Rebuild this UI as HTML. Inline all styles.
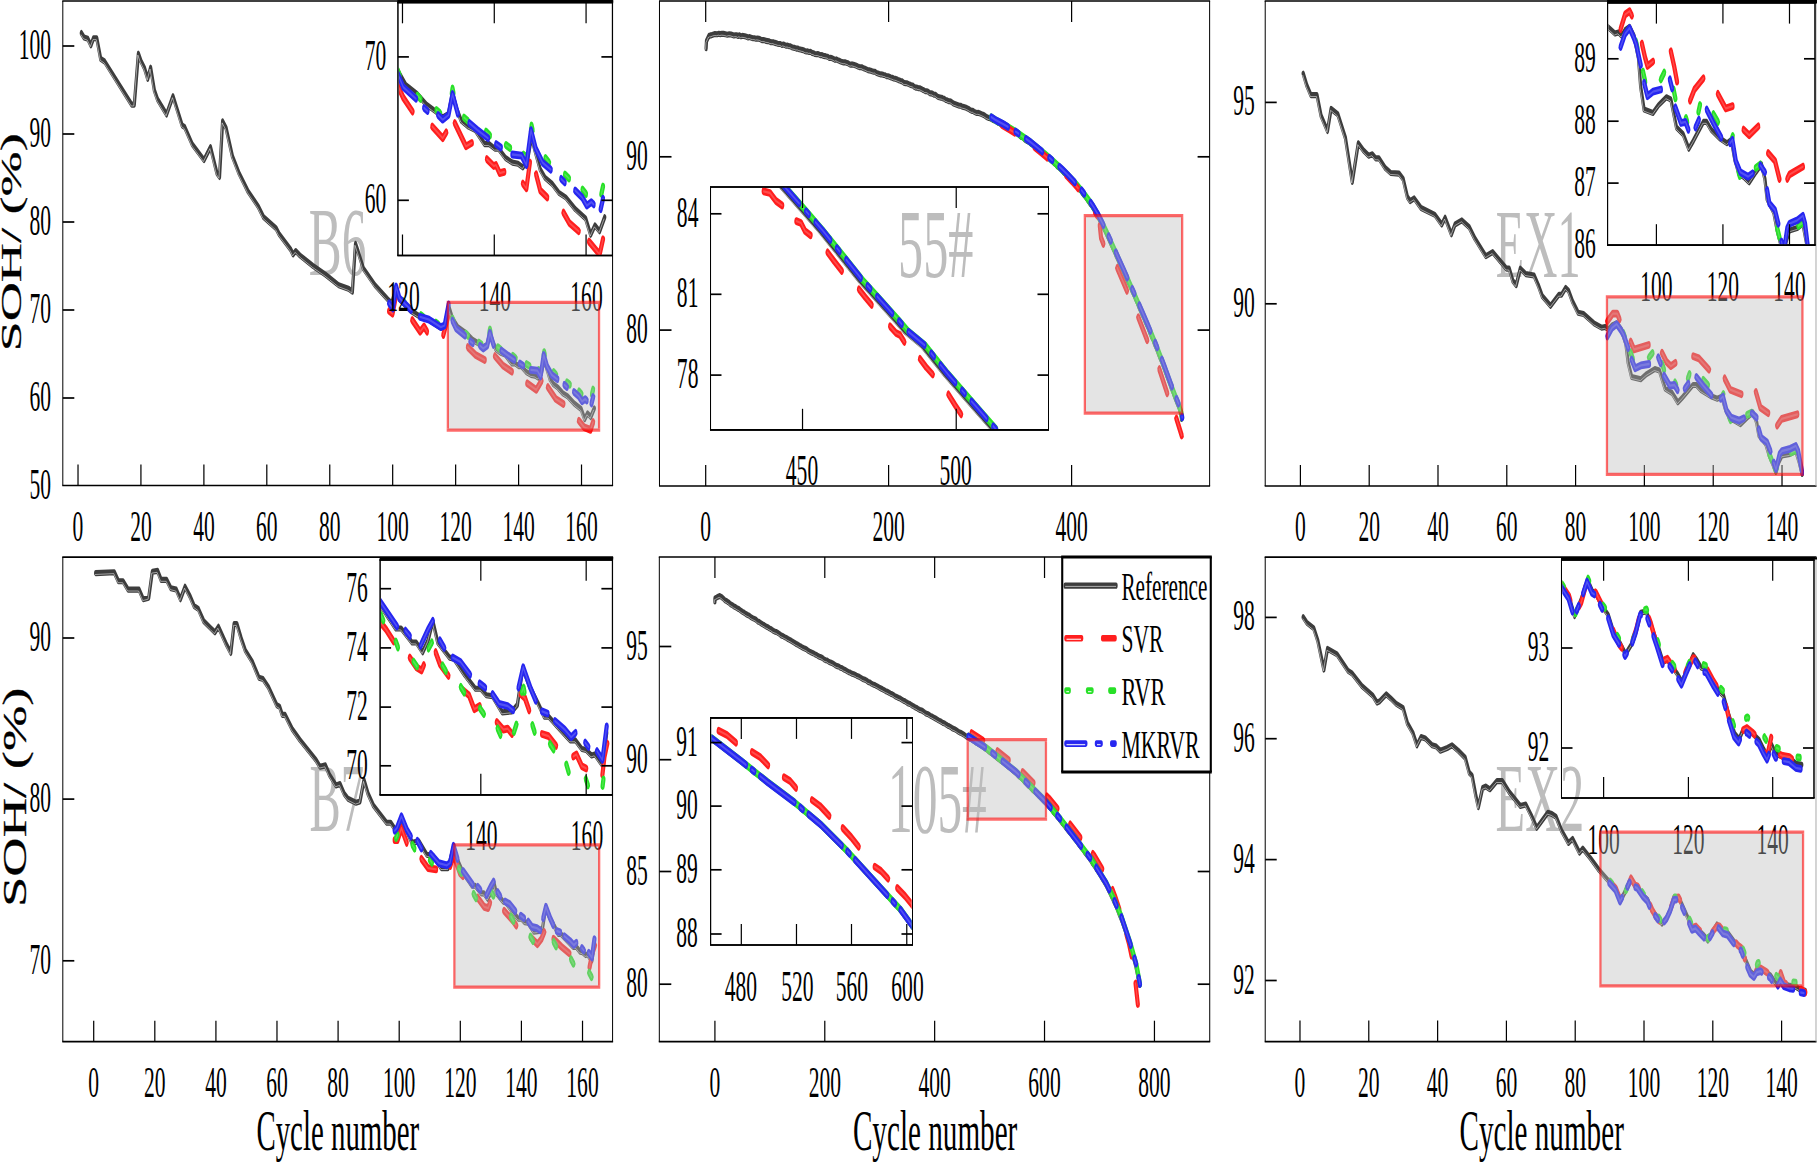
<!DOCTYPE html>
<html lang="en"><head><meta charset="utf-8"><title>SOH estimation results</title>
<style>html,body{margin:0;padding:0;background:#fff}svg{display:block}</style></head>
<body>
<svg width="1817" height="1162" viewBox="0 0 1817 1162" font-family="'Liberation Serif','Times New Roman',serif">
<rect width="1817" height="1162" fill="#fff"/>
<text transform="translate(308.8 275) scale(0.5028 1)" font-size="98" fill="#bdbdbd" font-weight="normal">B6</text>
<text transform="translate(898 276.5) scale(0.5129 1)" font-size="98" fill="#bdbdbd" font-weight="normal">55#</text>
<text transform="translate(1495.8 277) scale(0.4716 1)" font-size="98" fill="#bdbdbd" font-weight="normal">EX1</text>
<text transform="translate(309.5 830.7) scale(0.4774 1)" font-size="98" fill="#bdbdbd" font-weight="normal">B7</text>
<text transform="translate(888 831.5) scale(0.4990 1)" font-size="99" fill="#bdbdbd" font-weight="normal">105#</text>
<text transform="translate(1495.6 830.6) scale(0.4938 1)" font-size="98" fill="#bdbdbd" font-weight="normal">EX2</text>
<g transform="scale(0.53 1)">
<clipPath id="c1"><rect x="118.5" y="1" width="1037.4" height="484.5"/></clipPath>
<polyline points="153.6,33.1 158.5,37.4 165.7,38.7 171.5,45.2 176.4,38.2 182.6,38.2 190,58.9 197.4,61.5 248.5,104.6 253.4,104.6 261.1,53.7 265.7,60.7 272.8,68.4 278.7,78.8 284.2,67.7 291.3,90.4 297.2,99.4 314.3,114.4 326.4,96.3 343.6,125.3 348.5,127.1 363,144.6 384.9,160.1 397.2,147.2 409.2,173 414.2,176.9 420,121.4 426.4,127.8 438.5,156.3 450.8,173 467.7,191.1 487.4,206.6 497,216.9 521.3,228.6 526.2,233.7 548.1,249.2 553,254.4 557.9,251 566,255.5 590.4,265.9 614.7,274.9 639.1,285.2 658.7,289.1 664.9,291.7 670.8,243.9 675.7,251.7 685.5,268.4 707.4,285.2 731.7,299.4 739.1,303.3 747.2,287.8 753.6,299.4 775.5,311 795.1,317.5 809.6,320.1 831.7,327.8 838.9,326.5 846.4,305.9 853.7,318.6 863.7,327.1 878.7,332.8 890.7,339.3 902.8,343.5 911.7,347.1 919.2,344.9 924.4,332.1 929.8,342.1 935.8,349.2 944.8,352.8 953.9,354.9 965.9,363.5 971.9,363.5 979.4,366.3 983.9,366.3 992.9,372 1001.9,374.9 1009.4,375.6 1015.5,377.7 1021.4,373.5 1026.6,359.2 1030.5,366.3 1038,379.2 1044,384.1 1053,387.8 1062,393.4 1071.1,396.3 1083.1,403.4 1096.6,409.1 1103.2,419.1 1108.6,413.4 1114.7,417 1121.3,408.4" fill="none" stroke="#3d3d3d" stroke-width="6.1" stroke-linejoin="round" stroke-linecap="round" clip-path="url(#c1)"/>
<polyline points="152.5,34.5 157.5,38.8 164.6,40.1 170.5,46.6 175.4,39.6 181.6,39.6 189,60.3 196.3,62.9 247.5,106 252.4,106 260.1,55.1 264.6,62.1 271.8,69.8 277.6,80.2 283.1,69.1 290.3,91.8 296.1,100.8 313.3,115.8 325.4,97.7 342.5,126.7 347.5,128.5 362,146 383.9,161.5 396.1,148.6 408.2,174.4 413.1,178.3 419,122.8 425.4,129.2 437.5,157.7 449.7,174.4 466.7,192.5 486.3,208 495.9,218.3 520.3,230 525.2,235.1 547.1,250.6 552,255.8 556.9,252.4 565,256.9 589.3,267.3 613.7,276.3 638,286.6 657.6,290.5 663.9,293.1 669.7,245.3 674.6,253.1 684.4,269.8 706.3,286.6 730.7,300.8 738,304.7 746.1,289.2 752.5,300.8 774.4,312.4 794.1,318.9 808.6,321.5 830.7,329.2 837.8,327.9 845.4,307.3 852.7,320 862.7,328.5 877.7,334.2 889.7,340.7 901.7,344.9 910.7,348.5 918.2,346.3 923.3,333.5 928.8,343.5 934.7,350.6 943.8,354.2 952.8,356.3 964.9,364.9 970.8,364.9 978.3,367.7 982.8,367.7 991.9,373.4 1000.8,376.3 1008.3,377 1014.4,379.1 1020.4,374.9 1025.5,360.6 1029.4,367.7 1036.9,380.6 1043,385.5 1051.9,389.2 1061,394.8 1070,397.7 1082.1,404.8 1095.5,410.5 1102.1,420.5 1107.6,414.8 1113.6,418.4 1120.2,409.8" fill="none" stroke="#fff" stroke-opacity=".9" stroke-width="0.75" stroke-linejoin="round" clip-path="url(#c1)"/>
<polyline points="734.2,311 740.6,313.6 746.4,298.1" fill="none" stroke="#ff1e1e" stroke-width="7.8" stroke-linejoin="round" stroke-linecap="round" clip-path="url(#c1)"/>
<polyline points="734.2,311 740.6,313.6 746.4,298.1" fill="none" stroke="#fff" stroke-opacity=".2" stroke-width="2.3" stroke-linejoin="round" stroke-linecap="round" clip-path="url(#c1)"/>
<polyline points="777.9,320.1 792.6,331.7 800,326.5 805.8,331.7" fill="none" stroke="#ff1e1e" stroke-width="7.8" stroke-linejoin="round" stroke-linecap="round" clip-path="url(#c1)"/>
<polyline points="777.9,320.1 792.6,331.7 800,326.5 805.8,331.7" fill="none" stroke="#fff" stroke-opacity=".2" stroke-width="2.3" stroke-linejoin="round" stroke-linecap="round" clip-path="url(#c1)"/>
<polyline points="836.4,335 845.3,317" fill="none" stroke="#ff1e1e" stroke-width="7.8" stroke-linejoin="round" stroke-linecap="round" clip-path="url(#c1)"/>
<polyline points="836.4,335 845.3,317" fill="none" stroke="#fff" stroke-opacity=".2" stroke-width="2.3" stroke-linejoin="round" stroke-linecap="round" clip-path="url(#c1)"/>
<polyline points="882.8,347.2 897.4,355 914.5,360.1" fill="none" stroke="#ff1e1e" stroke-width="7.8" stroke-linejoin="round" stroke-linecap="round" clip-path="url(#c1)"/>
<polyline points="882.8,347.2 897.4,355 914.5,360.1" fill="none" stroke="#fff" stroke-opacity=".2" stroke-width="2.3" stroke-linejoin="round" stroke-linecap="round" clip-path="url(#c1)"/>
<polyline points="934,356.2 948.5,365.3 965.7,371.7" fill="none" stroke="#ff1e1e" stroke-width="7.8" stroke-linejoin="round" stroke-linecap="round" clip-path="url(#c1)"/>
<polyline points="934,356.2 948.5,365.3 965.7,371.7" fill="none" stroke="#fff" stroke-opacity=".2" stroke-width="2.3" stroke-linejoin="round" stroke-linecap="round" clip-path="url(#c1)"/>
<polyline points="994.9,383.4 1011.9,389.8 1021.7,380.8" fill="none" stroke="#ff1e1e" stroke-width="7.8" stroke-linejoin="round" stroke-linecap="round" clip-path="url(#c1)"/>
<polyline points="994.9,383.4 1011.9,389.8 1021.7,380.8" fill="none" stroke="#fff" stroke-opacity=".2" stroke-width="2.3" stroke-linejoin="round" stroke-linecap="round" clip-path="url(#c1)"/>
<polyline points="1033.8,387.2 1048.5,398.9 1063,404" fill="none" stroke="#ff1e1e" stroke-width="7.8" stroke-linejoin="round" stroke-linecap="round" clip-path="url(#c1)"/>
<polyline points="1033.8,387.2 1048.5,398.9 1063,404" fill="none" stroke="#fff" stroke-opacity=".2" stroke-width="2.3" stroke-linejoin="round" stroke-linecap="round" clip-path="url(#c1)"/>
<polyline points="1092.3,420.8 1102.1,427.3 1114.2,429.9 1119.1,422.1" fill="none" stroke="#ff1e1e" stroke-width="7.8" stroke-linejoin="round" stroke-linecap="round" clip-path="url(#c1)"/>
<polyline points="1092.3,420.8 1102.1,427.3 1114.2,429.9 1119.1,422.1" fill="none" stroke="#fff" stroke-opacity=".2" stroke-width="2.3" stroke-linejoin="round" stroke-linecap="round" clip-path="url(#c1)"/>
<polyline points="760.4,301 765.1,304" fill="none" stroke="#27e027" stroke-width="7.8" stroke-linejoin="round" stroke-linecap="round" clip-path="url(#c1)"/>
<polyline points="760.4,301 765.1,304" fill="none" stroke="#fff" stroke-opacity=".2" stroke-width="2.3" stroke-linejoin="round" stroke-linecap="round" clip-path="url(#c1)"/>
<polyline points="794.3,315 799.1,317" fill="none" stroke="#27e027" stroke-width="7.8" stroke-linejoin="round" stroke-linecap="round" clip-path="url(#c1)"/>
<polyline points="794.3,315 799.1,317" fill="none" stroke="#fff" stroke-opacity=".2" stroke-width="2.3" stroke-linejoin="round" stroke-linecap="round" clip-path="url(#c1)"/>
<polyline points="822.6,322.5 827.4,324.5" fill="none" stroke="#27e027" stroke-width="7.8" stroke-linejoin="round" stroke-linecap="round" clip-path="url(#c1)"/>
<polyline points="822.6,322.5 827.4,324.5" fill="none" stroke="#fff" stroke-opacity=".2" stroke-width="2.3" stroke-linejoin="round" stroke-linecap="round" clip-path="url(#c1)"/>
<polyline points="853.7,318.6 855.8,321.1" fill="none" stroke="#27e027" stroke-width="7.8" stroke-linejoin="round" stroke-linecap="round" clip-path="url(#c1)"/>
<polyline points="853.7,318.6 855.8,321.1" fill="none" stroke="#fff" stroke-opacity=".2" stroke-width="2.3" stroke-linejoin="round" stroke-linecap="round" clip-path="url(#c1)"/>
<polyline points="879.1,333.7 883,335.8" fill="none" stroke="#27e027" stroke-width="7.8" stroke-linejoin="round" stroke-linecap="round" clip-path="url(#c1)"/>
<polyline points="879.1,333.7 883,335.8" fill="none" stroke="#fff" stroke-opacity=".2" stroke-width="2.3" stroke-linejoin="round" stroke-linecap="round" clip-path="url(#c1)"/>
<polyline points="903.7,342.6 908.2,344.4" fill="none" stroke="#27e027" stroke-width="7.8" stroke-linejoin="round" stroke-linecap="round" clip-path="url(#c1)"/>
<polyline points="903.7,342.6 908.2,344.4" fill="none" stroke="#fff" stroke-opacity=".2" stroke-width="2.3" stroke-linejoin="round" stroke-linecap="round" clip-path="url(#c1)"/>
<polyline points="923.5,332.2 924.4,329.4 925.5,332.2" fill="none" stroke="#27e027" stroke-width="7.8" stroke-linejoin="round" stroke-linecap="round" clip-path="url(#c1)"/>
<polyline points="923.5,332.2 924.4,329.4 925.5,332.2" fill="none" stroke="#fff" stroke-opacity=".2" stroke-width="2.3" stroke-linejoin="round" stroke-linecap="round" clip-path="url(#c1)"/>
<polyline points="939.3,347.2 944.4,349.3" fill="none" stroke="#27e027" stroke-width="7.8" stroke-linejoin="round" stroke-linecap="round" clip-path="url(#c1)"/>
<polyline points="939.3,347.2 944.4,349.3" fill="none" stroke="#fff" stroke-opacity=".2" stroke-width="2.3" stroke-linejoin="round" stroke-linecap="round" clip-path="url(#c1)"/>
<polyline points="967.7,355.8 972.9,358.2" fill="none" stroke="#27e027" stroke-width="7.8" stroke-linejoin="round" stroke-linecap="round" clip-path="url(#c1)"/>
<polyline points="967.7,355.8 972.9,358.2" fill="none" stroke="#fff" stroke-opacity=".2" stroke-width="2.3" stroke-linejoin="round" stroke-linecap="round" clip-path="url(#c1)"/>
<polyline points="993.6,364.1 998.8,365.9" fill="none" stroke="#27e027" stroke-width="7.8" stroke-linejoin="round" stroke-linecap="round" clip-path="url(#c1)"/>
<polyline points="993.6,364.1 998.8,365.9" fill="none" stroke="#fff" stroke-opacity=".2" stroke-width="2.3" stroke-linejoin="round" stroke-linecap="round" clip-path="url(#c1)"/>
<polyline points="1016.2,369.9 1019.5,371.1" fill="none" stroke="#27e027" stroke-width="7.8" stroke-linejoin="round" stroke-linecap="round" clip-path="url(#c1)"/>
<polyline points="1016.2,369.9 1019.5,371.1" fill="none" stroke="#fff" stroke-opacity=".2" stroke-width="2.3" stroke-linejoin="round" stroke-linecap="round" clip-path="url(#c1)"/>
<polyline points="1025.9,355.5 1026.7,352.1 1028,354.9" fill="none" stroke="#27e027" stroke-width="7.8" stroke-linejoin="round" stroke-linecap="round" clip-path="url(#c1)"/>
<polyline points="1025.9,355.5 1026.7,352.1 1028,354.9" fill="none" stroke="#fff" stroke-opacity=".2" stroke-width="2.3" stroke-linejoin="round" stroke-linecap="round" clip-path="url(#c1)"/>
<polyline points="1044.7,372 1049.2,374.8" fill="none" stroke="#27e027" stroke-width="7.8" stroke-linejoin="round" stroke-linecap="round" clip-path="url(#c1)"/>
<polyline points="1044.7,372 1049.2,374.8" fill="none" stroke="#fff" stroke-opacity=".2" stroke-width="2.3" stroke-linejoin="round" stroke-linecap="round" clip-path="url(#c1)"/>
<polyline points="1069.9,382.2 1075.1,384.6" fill="none" stroke="#27e027" stroke-width="7.8" stroke-linejoin="round" stroke-linecap="round" clip-path="url(#c1)"/>
<polyline points="1069.9,382.2 1075.1,384.6" fill="none" stroke="#fff" stroke-opacity=".2" stroke-width="2.3" stroke-linejoin="round" stroke-linecap="round" clip-path="url(#c1)"/>
<polyline points="1092.6,391.4 1097.1,394.1" fill="none" stroke="#27e027" stroke-width="7.8" stroke-linejoin="round" stroke-linecap="round" clip-path="url(#c1)"/>
<polyline points="1092.6,391.4 1097.1,394.1" fill="none" stroke="#fff" stroke-opacity=".2" stroke-width="2.3" stroke-linejoin="round" stroke-linecap="round" clip-path="url(#c1)"/>
<polyline points="1117,394.1 1119.1,389.5" fill="none" stroke="#27e027" stroke-width="7.8" stroke-linejoin="round" stroke-linecap="round" clip-path="url(#c1)"/>
<polyline points="1117,394.1 1119.1,389.5" fill="none" stroke="#fff" stroke-opacity=".2" stroke-width="2.3" stroke-linejoin="round" stroke-linecap="round" clip-path="url(#c1)"/>
<polyline points="734.2,303.3 741.5,308.5 747.4,286.5 753.6,298.1 775.5,310" fill="none" stroke="#2626f0" stroke-width="7.8" stroke-linejoin="round" stroke-linecap="round" clip-path="url(#c1)"/>
<polyline points="734.2,303.3 741.5,308.5 747.4,286.5 753.6,298.1 775.5,310" fill="none" stroke="#fff" stroke-opacity=".2" stroke-width="2.3" stroke-linejoin="round" stroke-linecap="round" clip-path="url(#c1)"/>
<polyline points="792.6,316.8 809.6,319.7 831.7,327.1 838.9,325.5 846.4,304.5" fill="none" stroke="#2626f0" stroke-width="7.8" stroke-linejoin="round" stroke-linecap="round" clip-path="url(#c1)"/>
<polyline points="792.6,316.8 809.6,319.7 831.7,327.1 838.9,325.5 846.4,304.5" fill="none" stroke="#fff" stroke-opacity=".2" stroke-width="2.3" stroke-linejoin="round" stroke-linecap="round" clip-path="url(#c1)"/>
<polyline points="853.7,320.7 860.6,328.5 877.2,335.7" fill="none" stroke="#2626f0" stroke-width="7.8" stroke-linejoin="round" stroke-linecap="round" clip-path="url(#c1)"/>
<polyline points="853.7,320.7 860.6,328.5 877.2,335.7" fill="none" stroke="#fff" stroke-opacity=".2" stroke-width="2.3" stroke-linejoin="round" stroke-linecap="round" clip-path="url(#c1)"/>
<polyline points="887.6,341.4 892,343.2" fill="none" stroke="#2626f0" stroke-width="7.8" stroke-linejoin="round" stroke-linecap="round" clip-path="url(#c1)"/>
<polyline points="887.6,341.4 892,343.2" fill="none" stroke="#fff" stroke-opacity=".2" stroke-width="2.3" stroke-linejoin="round" stroke-linecap="round" clip-path="url(#c1)"/>
<polyline points="905.8,345.7 911.7,348.5 919.2,345.7 924.4,332.8 931.2,344.9" fill="none" stroke="#2626f0" stroke-width="7.8" stroke-linejoin="round" stroke-linecap="round" clip-path="url(#c1)"/>
<polyline points="905.8,345.7 911.7,348.5 919.2,345.7 924.4,332.8 931.2,344.9" fill="none" stroke="#fff" stroke-opacity=".2" stroke-width="2.3" stroke-linejoin="round" stroke-linecap="round" clip-path="url(#c1)"/>
<polyline points="946.2,350.6 956.8,354.9 970.3,359.9" fill="none" stroke="#2626f0" stroke-width="7.8" stroke-linejoin="round" stroke-linecap="round" clip-path="url(#c1)"/>
<polyline points="946.2,350.6 956.8,354.9 970.3,359.9" fill="none" stroke="#fff" stroke-opacity=".2" stroke-width="2.3" stroke-linejoin="round" stroke-linecap="round" clip-path="url(#c1)"/>
<polyline points="980.9,363.5 986.9,365.6" fill="none" stroke="#2626f0" stroke-width="7.8" stroke-linejoin="round" stroke-linecap="round" clip-path="url(#c1)"/>
<polyline points="980.9,363.5 986.9,365.6" fill="none" stroke="#fff" stroke-opacity=".2" stroke-width="2.3" stroke-linejoin="round" stroke-linecap="round" clip-path="url(#c1)"/>
<polyline points="1001.9,369.9 1013.9,370.6 1020,376.3 1025.9,354.9 1032,366.3 1040.9,374.9 1051.5,379.2" fill="none" stroke="#2626f0" stroke-width="7.8" stroke-linejoin="round" stroke-linecap="round" clip-path="url(#c1)"/>
<polyline points="1001.9,369.9 1013.9,370.6 1020,376.3 1025.9,354.9 1032,366.3 1040.9,374.9 1051.5,379.2" fill="none" stroke="#fff" stroke-opacity=".2" stroke-width="2.3" stroke-linejoin="round" stroke-linecap="round" clip-path="url(#c1)"/>
<polyline points="1065,384.9 1069.5,387" fill="none" stroke="#2626f0" stroke-width="7.8" stroke-linejoin="round" stroke-linecap="round" clip-path="url(#c1)"/>
<polyline points="1065,384.9 1069.5,387" fill="none" stroke="#fff" stroke-opacity=".2" stroke-width="2.3" stroke-linejoin="round" stroke-linecap="round" clip-path="url(#c1)"/>
<polyline points="1083.1,392 1092.2,396.3 1098.1,401.3 1104.1,399.1 1107,400.5" fill="none" stroke="#2626f0" stroke-width="7.8" stroke-linejoin="round" stroke-linecap="round" clip-path="url(#c1)"/>
<polyline points="1083.1,392 1092.2,396.3 1098.1,401.3 1104.1,399.1 1107,400.5" fill="none" stroke="#fff" stroke-opacity=".2" stroke-width="2.3" stroke-linejoin="round" stroke-linecap="round" clip-path="url(#c1)"/>
<polyline points="1116.1,403.4 1119.1,397" fill="none" stroke="#2626f0" stroke-width="7.8" stroke-linejoin="round" stroke-linecap="round" clip-path="url(#c1)"/>
<polyline points="1116.1,403.4 1119.1,397" fill="none" stroke="#fff" stroke-opacity=".2" stroke-width="2.3" stroke-linejoin="round" stroke-linecap="round" clip-path="url(#c1)"/>
<path d="M117.5 1H1156.8" stroke="#000" stroke-width="1.7" fill="none"/>
<path d="M117.5 485.5H1156.8" stroke="#000" stroke-width="1.7" fill="none"/>
<path d="M118.5 1V485.5" stroke="#000" stroke-width="1.9" fill="none"/>
<path d="M1155.8 1V485.5" stroke="#000" stroke-width="1.9" fill="none"/>
<path d="M147.2 464.5V485.5" stroke="#000" stroke-width="2.3" fill="none"/>
<path d="M265.9 464.5V485.5" stroke="#000" stroke-width="2.3" fill="none"/>
<path d="M384.7 464.5V485.5" stroke="#000" stroke-width="2.3" fill="none"/>
<path d="M503.4 464.5V485.5" stroke="#000" stroke-width="2.3" fill="none"/>
<path d="M622.2 464.5V485.5" stroke="#000" stroke-width="2.3" fill="none"/>
<path d="M740.9 464.5V485.5" stroke="#000" stroke-width="2.3" fill="none"/>
<path d="M859.7 464.5V485.5" stroke="#000" stroke-width="2.3" fill="none"/>
<path d="M978.5 464.5V485.5" stroke="#000" stroke-width="2.3" fill="none"/>
<path d="M1097.2 464.5V485.5" stroke="#000" stroke-width="2.3" fill="none"/>
<path d="M118.5 46H140.2" stroke="#000" stroke-width="1.7" fill="none"/>
<path d="M118.5 134H140.2" stroke="#000" stroke-width="1.7" fill="none"/>
<path d="M118.5 222H140.2" stroke="#000" stroke-width="1.7" fill="none"/>
<path d="M118.5 310H140.2" stroke="#000" stroke-width="1.7" fill="none"/>
<path d="M118.5 398H140.2" stroke="#000" stroke-width="1.7" fill="none"/>
<path d="M749.8 2.3H1156.4" stroke="#000" stroke-width="1.7" fill="none"/>
<path d="M749.8 255.5H1156.4" stroke="#000" stroke-width="1.7" fill="none"/>
<path d="M750.8 2.3V255.5" stroke="#000" stroke-width="1.9" fill="none"/>
<path d="M1155.5 2.3V255.5" stroke="#000" stroke-width="1.9" fill="none"/>
<clipPath id="c2"><rect x="752.3" y="2.3" width="401.7" height="253.2"/></clipPath>
<polyline points="750.8,70.9 765.3,84.8 787.2,94.1 804.7,104.6 822.3,111.5 835.3,117.3 846.2,113.8 853.8,92.9 861.7,109.2 870.4,120.8 883.6,126.6 896.8,130.1 914.3,144.1 923,144.1 934,148.7 940.6,148.7 953.8,158 966.8,162.6 977.7,163.8 986.6,167.3 995.3,160.3 1002.8,137.1 1008.5,148.7 1019.4,169.6 1028.3,177.7 1041.3,183.6 1054.5,192.8 1067.7,197.5 1085.3,209.1 1104.9,218.4 1114.5,234.7 1122.5,225.4 1131.3,231.2 1140.9,217.2" fill="none" stroke="#3d3d3d" stroke-width="6.1" stroke-linejoin="round" stroke-linecap="round" clip-path="url(#c2)"/>
<polyline points="749.7,72.3 764.2,86.2 786.1,95.5 803.7,106 821.2,112.9 834.2,118.7 845.2,115.2 852.7,94.3 860.7,110.6 869.3,122.2 882.5,128 895.8,131.5 913.3,145.5 922,145.5 932.9,150.1 939.5,150.1 952.7,159.4 965.8,164 976.7,165.2 985.6,168.7 994.2,161.7 1001.8,138.5 1007.5,150.1 1018.4,171 1027.3,179.1 1040.3,185 1053.5,194.2 1066.7,198.9 1084.2,210.5 1103.9,219.8 1113.5,236.1 1121.4,226.8 1130.3,232.6 1139.9,218.6" fill="none" stroke="#fff" stroke-opacity=".9" stroke-width="0.75" stroke-linejoin="round" clip-path="url(#c2)"/>
<polyline points="750.8,86 760.8,97.6 778.3,111.5" fill="none" stroke="#ff1e1e" stroke-width="7.8" stroke-linejoin="round" stroke-linecap="round" clip-path="url(#c2)"/>
<polyline points="750.8,86 760.8,97.6 778.3,111.5" fill="none" stroke="#fff" stroke-opacity=".2" stroke-width="2.3" stroke-linejoin="round" stroke-linecap="round" clip-path="url(#c2)"/>
<polyline points="815.7,126.6 835.3,138.2 841.9,132.4" fill="none" stroke="#ff1e1e" stroke-width="7.8" stroke-linejoin="round" stroke-linecap="round" clip-path="url(#c2)"/>
<polyline points="815.7,126.6 835.3,138.2 841.9,132.4" fill="none" stroke="#fff" stroke-opacity=".2" stroke-width="2.3" stroke-linejoin="round" stroke-linecap="round" clip-path="url(#c2)"/>
<polyline points="858.1,123.1 879.2,146.4 890.2,142.9" fill="none" stroke="#ff1e1e" stroke-width="7.8" stroke-linejoin="round" stroke-linecap="round" clip-path="url(#c2)"/>
<polyline points="858.1,123.1 879.2,146.4 890.2,142.9" fill="none" stroke="#fff" stroke-opacity=".2" stroke-width="2.3" stroke-linejoin="round" stroke-linecap="round" clip-path="url(#c2)"/>
<polyline points="918.7,159.2 931.7,166.1 935.8,165 942.8,173.1 951.5,171.9" fill="none" stroke="#ff1e1e" stroke-width="7.8" stroke-linejoin="round" stroke-linecap="round" clip-path="url(#c2)"/>
<polyline points="918.7,159.2 931.7,166.1 935.8,165 942.8,173.1 951.5,171.9" fill="none" stroke="#fff" stroke-opacity=".2" stroke-width="2.3" stroke-linejoin="round" stroke-linecap="round" clip-path="url(#c2)"/>
<polyline points="986.6,183.6 993.2,188.2 999.8,162.6" fill="none" stroke="#ff1e1e" stroke-width="7.8" stroke-linejoin="round" stroke-linecap="round" clip-path="url(#c2)"/>
<polyline points="986.6,183.6 993.2,188.2 999.8,162.6" fill="none" stroke="#fff" stroke-opacity=".2" stroke-width="2.3" stroke-linejoin="round" stroke-linecap="round" clip-path="url(#c2)"/>
<polyline points="1011.5,174.3 1019.4,190.5 1032.6,197.5" fill="none" stroke="#ff1e1e" stroke-width="7.8" stroke-linejoin="round" stroke-linecap="round" clip-path="url(#c2)"/>
<polyline points="1011.5,174.3 1019.4,190.5 1032.6,197.5" fill="none" stroke="#fff" stroke-opacity=".2" stroke-width="2.3" stroke-linejoin="round" stroke-linecap="round" clip-path="url(#c2)"/>
<polyline points="1063.2,212.6 1074.3,223 1091.9,231.2" fill="none" stroke="#ff1e1e" stroke-width="7.8" stroke-linejoin="round" stroke-linecap="round" clip-path="url(#c2)"/>
<polyline points="1063.2,212.6 1074.3,223 1091.9,231.2" fill="none" stroke="#fff" stroke-opacity=".2" stroke-width="2.3" stroke-linejoin="round" stroke-linecap="round" clip-path="url(#c2)"/>
<polyline points="1111.5,241.6 1131.3,254.4 1137.7,239.3" fill="none" stroke="#ff1e1e" stroke-width="7.8" stroke-linejoin="round" stroke-linecap="round" clip-path="url(#c2)"/>
<polyline points="1111.5,241.6 1131.3,254.4 1137.7,239.3" fill="none" stroke="#fff" stroke-opacity=".2" stroke-width="2.3" stroke-linejoin="round" stroke-linecap="round" clip-path="url(#c2)"/>
<polyline points="750.8,70.9 753.8,75" fill="none" stroke="#27e027" stroke-width="7.8" stroke-linejoin="round" stroke-linecap="round" clip-path="url(#c2)"/>
<polyline points="750.8,70.9 753.8,75" fill="none" stroke="#fff" stroke-opacity=".2" stroke-width="2.3" stroke-linejoin="round" stroke-linecap="round" clip-path="url(#c2)"/>
<polyline points="787.7,95.5 793.4,99" fill="none" stroke="#27e027" stroke-width="7.8" stroke-linejoin="round" stroke-linecap="round" clip-path="url(#c2)"/>
<polyline points="787.7,95.5 793.4,99" fill="none" stroke="#fff" stroke-opacity=".2" stroke-width="2.3" stroke-linejoin="round" stroke-linecap="round" clip-path="url(#c2)"/>
<polyline points="823.6,110 830.2,113" fill="none" stroke="#27e027" stroke-width="7.8" stroke-linejoin="round" stroke-linecap="round" clip-path="url(#c2)"/>
<polyline points="823.6,110 830.2,113" fill="none" stroke="#fff" stroke-opacity=".2" stroke-width="2.3" stroke-linejoin="round" stroke-linecap="round" clip-path="url(#c2)"/>
<polyline points="852.5,93 853.8,88.5 855.5,93" fill="none" stroke="#27e027" stroke-width="7.8" stroke-linejoin="round" stroke-linecap="round" clip-path="url(#c2)"/>
<polyline points="852.5,93 853.8,88.5 855.5,93" fill="none" stroke="#fff" stroke-opacity=".2" stroke-width="2.3" stroke-linejoin="round" stroke-linecap="round" clip-path="url(#c2)"/>
<polyline points="875.5,117.5 883,121" fill="none" stroke="#27e027" stroke-width="7.8" stroke-linejoin="round" stroke-linecap="round" clip-path="url(#c2)"/>
<polyline points="875.5,117.5 883,121" fill="none" stroke="#fff" stroke-opacity=".2" stroke-width="2.3" stroke-linejoin="round" stroke-linecap="round" clip-path="url(#c2)"/>
<polyline points="917,131.5 924.5,135.5" fill="none" stroke="#27e027" stroke-width="7.8" stroke-linejoin="round" stroke-linecap="round" clip-path="url(#c2)"/>
<polyline points="917,131.5 924.5,135.5" fill="none" stroke="#fff" stroke-opacity=".2" stroke-width="2.3" stroke-linejoin="round" stroke-linecap="round" clip-path="url(#c2)"/>
<polyline points="954.7,145 962.3,148" fill="none" stroke="#27e027" stroke-width="7.8" stroke-linejoin="round" stroke-linecap="round" clip-path="url(#c2)"/>
<polyline points="954.7,145 962.3,148" fill="none" stroke="#fff" stroke-opacity=".2" stroke-width="2.3" stroke-linejoin="round" stroke-linecap="round" clip-path="url(#c2)"/>
<polyline points="987.7,154.5 992.5,156.5" fill="none" stroke="#27e027" stroke-width="7.8" stroke-linejoin="round" stroke-linecap="round" clip-path="url(#c2)"/>
<polyline points="987.7,154.5 992.5,156.5" fill="none" stroke="#fff" stroke-opacity=".2" stroke-width="2.3" stroke-linejoin="round" stroke-linecap="round" clip-path="url(#c2)"/>
<polyline points="1001.9,131 1003,125.5 1004.9,130" fill="none" stroke="#27e027" stroke-width="7.8" stroke-linejoin="round" stroke-linecap="round" clip-path="url(#c2)"/>
<polyline points="1001.9,131 1003,125.5 1004.9,130" fill="none" stroke="#fff" stroke-opacity=".2" stroke-width="2.3" stroke-linejoin="round" stroke-linecap="round" clip-path="url(#c2)"/>
<polyline points="1029.2,158 1035.8,162.5" fill="none" stroke="#27e027" stroke-width="7.8" stroke-linejoin="round" stroke-linecap="round" clip-path="url(#c2)"/>
<polyline points="1029.2,158 1035.8,162.5" fill="none" stroke="#fff" stroke-opacity=".2" stroke-width="2.3" stroke-linejoin="round" stroke-linecap="round" clip-path="url(#c2)"/>
<polyline points="1066,174.5 1073.6,178.5" fill="none" stroke="#27e027" stroke-width="7.8" stroke-linejoin="round" stroke-linecap="round" clip-path="url(#c2)"/>
<polyline points="1066,174.5 1073.6,178.5" fill="none" stroke="#fff" stroke-opacity=".2" stroke-width="2.3" stroke-linejoin="round" stroke-linecap="round" clip-path="url(#c2)"/>
<polyline points="1099.1,189.5 1105.7,194" fill="none" stroke="#27e027" stroke-width="7.8" stroke-linejoin="round" stroke-linecap="round" clip-path="url(#c2)"/>
<polyline points="1099.1,189.5 1105.7,194" fill="none" stroke="#fff" stroke-opacity=".2" stroke-width="2.3" stroke-linejoin="round" stroke-linecap="round" clip-path="url(#c2)"/>
<polyline points="1134.7,194 1137.7,186.5" fill="none" stroke="#27e027" stroke-width="7.8" stroke-linejoin="round" stroke-linecap="round" clip-path="url(#c2)"/>
<polyline points="1134.7,194 1137.7,186.5" fill="none" stroke="#fff" stroke-opacity=".2" stroke-width="2.3" stroke-linejoin="round" stroke-linecap="round" clip-path="url(#c2)"/>
<polyline points="750.8,74.3 760.8,87.1 784.9,98.7" fill="none" stroke="#2626f0" stroke-width="7.8" stroke-linejoin="round" stroke-linecap="round" clip-path="url(#c2)"/>
<polyline points="750.8,74.3 760.8,87.1 784.9,98.7" fill="none" stroke="#fff" stroke-opacity=".2" stroke-width="2.3" stroke-linejoin="round" stroke-linecap="round" clip-path="url(#c2)"/>
<polyline points="800.2,108 806.6,111" fill="none" stroke="#2626f0" stroke-width="7.8" stroke-linejoin="round" stroke-linecap="round" clip-path="url(#c2)"/>
<polyline points="800.2,108 806.6,111" fill="none" stroke="#fff" stroke-opacity=".2" stroke-width="2.3" stroke-linejoin="round" stroke-linecap="round" clip-path="url(#c2)"/>
<polyline points="826.6,115 835.3,119.7 846.2,115 853.8,94.1 863.8,113.8" fill="none" stroke="#2626f0" stroke-width="7.8" stroke-linejoin="round" stroke-linecap="round" clip-path="url(#c2)"/>
<polyline points="826.6,115 835.3,119.7 846.2,115 853.8,94.1 863.8,113.8" fill="none" stroke="#fff" stroke-opacity=".2" stroke-width="2.3" stroke-linejoin="round" stroke-linecap="round" clip-path="url(#c2)"/>
<polyline points="885.7,123.1 901.1,130.1 920.8,138.2" fill="none" stroke="#2626f0" stroke-width="7.8" stroke-linejoin="round" stroke-linecap="round" clip-path="url(#c2)"/>
<polyline points="885.7,123.1 901.1,130.1 920.8,138.2" fill="none" stroke="#fff" stroke-opacity=".2" stroke-width="2.3" stroke-linejoin="round" stroke-linecap="round" clip-path="url(#c2)"/>
<polyline points="936.2,144.1 944.9,147.5" fill="none" stroke="#2626f0" stroke-width="7.8" stroke-linejoin="round" stroke-linecap="round" clip-path="url(#c2)"/>
<polyline points="936.2,144.1 944.9,147.5" fill="none" stroke="#fff" stroke-opacity=".2" stroke-width="2.3" stroke-linejoin="round" stroke-linecap="round" clip-path="url(#c2)"/>
<polyline points="966.8,154.5 984.3,155.7 993.2,165 1001.9,130.1 1010.8,148.7 1023.8,162.6 1039.2,169.6" fill="none" stroke="#2626f0" stroke-width="7.8" stroke-linejoin="round" stroke-linecap="round" clip-path="url(#c2)"/>
<polyline points="966.8,154.5 984.3,155.7 993.2,165 1001.9,130.1 1010.8,148.7 1023.8,162.6 1039.2,169.6" fill="none" stroke="#fff" stroke-opacity=".2" stroke-width="2.3" stroke-linejoin="round" stroke-linecap="round" clip-path="url(#c2)"/>
<polyline points="1058.9,178.9 1065.5,182.4" fill="none" stroke="#2626f0" stroke-width="7.8" stroke-linejoin="round" stroke-linecap="round" clip-path="url(#c2)"/>
<polyline points="1058.9,178.9 1065.5,182.4" fill="none" stroke="#fff" stroke-opacity=".2" stroke-width="2.3" stroke-linejoin="round" stroke-linecap="round" clip-path="url(#c2)"/>
<polyline points="1085.3,190.5 1098.5,197.5 1107.2,205.6 1115.8,202.1 1120.2,204.4" fill="none" stroke="#2626f0" stroke-width="7.8" stroke-linejoin="round" stroke-linecap="round" clip-path="url(#c2)"/>
<polyline points="1085.3,190.5 1098.5,197.5 1107.2,205.6 1115.8,202.1 1120.2,204.4" fill="none" stroke="#fff" stroke-opacity=".2" stroke-width="2.3" stroke-linejoin="round" stroke-linecap="round" clip-path="url(#c2)"/>
<polyline points="1133.4,209.1 1137.7,198.7" fill="none" stroke="#2626f0" stroke-width="7.8" stroke-linejoin="round" stroke-linecap="round" clip-path="url(#c2)"/>
<polyline points="1133.4,209.1 1137.7,198.7" fill="none" stroke="#fff" stroke-opacity=".2" stroke-width="2.3" stroke-linejoin="round" stroke-linecap="round" clip-path="url(#c2)"/>
<path d="M749.8 2.3H1156.4" stroke="#000" stroke-width="1.7" fill="none"/>
<path d="M749.8 255.5H1156.4" stroke="#000" stroke-width="1.7" fill="none"/>
<path d="M750.8 2.3V255.5" stroke="#000" stroke-width="1.9" fill="none"/>
<path d="M1155.5 2.3V255.5" stroke="#000" stroke-width="1.9" fill="none"/>
<path d="M759.4 234.5V255.5" stroke="#000" stroke-width="2.3" fill="none"/>
<path d="M759.4 2.3V23.3" stroke="#000" stroke-width="2.3" fill="none"/>
<path d="M932.6 234.5V255.5" stroke="#000" stroke-width="2.3" fill="none"/>
<path d="M932.6 2.3V23.3" stroke="#000" stroke-width="2.3" fill="none"/>
<path d="M1105.8 234.5V255.5" stroke="#000" stroke-width="2.3" fill="none"/>
<path d="M1105.8 2.3V23.3" stroke="#000" stroke-width="2.3" fill="none"/>
<path d="M750.8 56.9H771.5" stroke="#000" stroke-width="1.7" fill="none"/>
<path d="M1134.7 56.9H1155.5" stroke="#000" stroke-width="1.7" fill="none"/>
<path d="M750.8 200.3H771.5" stroke="#000" stroke-width="1.7" fill="none"/>
<path d="M1134.7 200.3H1155.5" stroke="#000" stroke-width="1.7" fill="none"/>
<clipPath id="c3"><rect x="118.5" y="557.1" width="1037.4" height="484.6"/></clipPath>
<polyline points="180.4,573.1 215.7,572.2 223.4,581.3 232.3,581.3 241.7,589.6 262.5,589.6 270.2,599.2 280.6,597.8 287.4,571.7 297.4,570.9 304,579.9 314.5,579.9 322.3,588.2 332.6,589.6 340.4,599.2 349.2,586.8 358.7,596.5 366.4,606.1 374.2,608.9 384.5,621.3 397.5,628.1 405.5,632.3 412.1,626.8 426.2,643.3 435.5,652.9 441.7,624 447,624 454.7,637.8 462.6,650.2 475.5,661.2 488.5,677.7 496.4,679.1 506.8,687.4 522.3,705.3 527.5,706.7 532.6,714.9 537.9,714.9 550.9,728.7 566,740 596.2,760 603.8,766.7 614,765.4 621.5,774.7 634,785.4 641.5,784 649.1,793.4 656.6,798.7 671.7,802.7 679.2,801.4 686.8,780 694.3,793.4 704.5,805.4 729.6,822.7 737.2,822.7 747.2,830.7 757.4,819.4 767.5,830.7 777.5,842.8 790.2,841.4 805.3,854.8 817.7,856.1 832.8,868.1 845.5,868.1 855.7,846.8 863.2,860.1 873.6,872.8 883.8,880.4 890.8,885.7 896.7,885.7 908.5,893.4 913.2,893.4 920.2,898.7 926.1,892.2 931.3,881.6 936.7,893.4 949.6,901.6 954.4,902.2 966.2,911 977.9,918.7 983.8,918.7 989.7,922.2 996.7,922.8 1007.3,931.6 1017.9,931 1023.8,927.5 1029.7,907.5 1036.7,916.9 1046.1,926.3 1053.2,933.9 1057.9,933.9 1069.6,940.4 1081.4,946.9 1087.4,946.9 1094.4,951.6 1099.1,952.2 1105,955.1 1108.5,954.5 1116.8,960.4 1121.5,942.8" fill="none" stroke="#3d3d3d" stroke-width="6.1" stroke-linejoin="round" stroke-linecap="round" clip-path="url(#c3)"/>
<polyline points="179.3,574.5 214.6,573.6 222.4,582.7 231.2,582.7 240.7,591 261.4,591 269.2,600.6 279.5,599.2 286.3,573.1 296.3,572.3 302.9,581.3 313.5,581.3 321.2,589.6 331.6,591 339.3,600.6 348.2,588.2 357.6,597.9 365.4,607.5 373.1,610.3 383.5,622.7 396.5,629.5 404.4,633.7 411,628.2 425.2,644.7 434.4,654.3 440.7,625.4 445.9,625.4 453.7,639.2 461.6,651.6 474.4,662.6 487.5,679.1 495.4,680.5 505.8,688.8 521.2,706.7 526.5,708.1 531.6,716.3 536.9,716.3 549.9,730.1 565,741.4 595.2,761.4 602.7,768.1 612.9,766.8 620.5,776.1 632.9,786.8 640.5,785.4 648,794.8 655.6,800.1 670.7,804.1 678.2,802.8 685.8,781.4 693.3,794.8 703.5,806.8 728.6,824.1 736.1,824.1 746.1,832.1 756.3,820.8 766.5,832.1 776.5,844.2 789.2,842.8 804.2,856.2 816.7,857.5 831.8,869.5 844.4,869.5 854.6,848.2 862.2,861.5 872.6,874.2 882.8,881.8 889.8,887.1 895.7,887.1 907.5,894.8 912.2,894.8 919.2,900.1 925.1,893.6 930.2,883 935.7,894.8 948.6,903 953.3,903.6 965.1,912.4 976.8,920.1 982.7,920.1 988.6,923.6 995.6,924.2 1006.3,933 1016.9,932.4 1022.8,928.9 1028.7,908.9 1035.7,918.3 1045.1,927.7 1052.2,935.3 1056.9,935.3 1068.6,941.8 1080.4,948.3 1086.3,948.3 1093.3,953 1098,953.6 1103.9,956.5 1107.4,955.9 1115.7,961.8 1120.4,944.2" fill="none" stroke="#fff" stroke-opacity=".9" stroke-width="0.75" stroke-linejoin="round" clip-path="url(#c3)"/>
<polyline points="744.7,840.1 750,840.1 757.4,828.1 767.5,842.8" fill="none" stroke="#ff1e1e" stroke-width="7.8" stroke-linejoin="round" stroke-linecap="round" clip-path="url(#c3)"/>
<polyline points="744.7,840.1 750,840.1 757.4,828.1 767.5,842.8" fill="none" stroke="#fff" stroke-opacity=".2" stroke-width="2.3" stroke-linejoin="round" stroke-linecap="round" clip-path="url(#c3)"/>
<polyline points="795.1,858.8 807.7,868.1 822.8,869.4" fill="none" stroke="#ff1e1e" stroke-width="7.8" stroke-linejoin="round" stroke-linecap="round" clip-path="url(#c3)"/>
<polyline points="795.1,858.8 807.7,868.1 822.8,869.4" fill="none" stroke="#fff" stroke-opacity=".2" stroke-width="2.3" stroke-linejoin="round" stroke-linecap="round" clip-path="url(#c3)"/>
<polyline points="849.6,866 855.7,854.8 868.1,873.4 873.2,876.1" fill="none" stroke="#ff1e1e" stroke-width="7.8" stroke-linejoin="round" stroke-linecap="round" clip-path="url(#c3)"/>
<polyline points="849.6,866 855.7,854.8 868.1,873.4 873.2,876.1" fill="none" stroke="#fff" stroke-opacity=".2" stroke-width="2.3" stroke-linejoin="round" stroke-linecap="round" clip-path="url(#c3)"/>
<polyline points="900.9,897.5 913.6,906.8 921.1,908.1 924.5,902.8" fill="none" stroke="#ff1e1e" stroke-width="7.8" stroke-linejoin="round" stroke-linecap="round" clip-path="url(#c3)"/>
<polyline points="900.9,897.5 913.6,906.8 921.1,908.1 924.5,902.8" fill="none" stroke="#fff" stroke-opacity=".2" stroke-width="2.3" stroke-linejoin="round" stroke-linecap="round" clip-path="url(#c3)"/>
<polyline points="951.3,910.8 968.9,921.5 974,925.5" fill="none" stroke="#ff1e1e" stroke-width="7.8" stroke-linejoin="round" stroke-linecap="round" clip-path="url(#c3)"/>
<polyline points="951.3,910.8 968.9,921.5 974,925.5" fill="none" stroke="#fff" stroke-opacity=".2" stroke-width="2.3" stroke-linejoin="round" stroke-linecap="round" clip-path="url(#c3)"/>
<polyline points="1001.7,937.5 1014.2,944.2 1021.7,938.8 1026.8,932.2" fill="none" stroke="#ff1e1e" stroke-width="7.8" stroke-linejoin="round" stroke-linecap="round" clip-path="url(#c3)"/>
<polyline points="1001.7,937.5 1014.2,944.2 1021.7,938.8 1026.8,932.2" fill="none" stroke="#fff" stroke-opacity=".2" stroke-width="2.3" stroke-linejoin="round" stroke-linecap="round" clip-path="url(#c3)"/>
<polyline points="1044.3,938.8 1059.4,946.8 1074.5,953.5" fill="none" stroke="#ff1e1e" stroke-width="7.8" stroke-linejoin="round" stroke-linecap="round" clip-path="url(#c3)"/>
<polyline points="1044.3,938.8 1059.4,946.8 1074.5,953.5" fill="none" stroke="#fff" stroke-opacity=".2" stroke-width="2.3" stroke-linejoin="round" stroke-linecap="round" clip-path="url(#c3)"/>
<polyline points="1112.5,966.9 1117.4,953.5 1122.5,945.5" fill="none" stroke="#ff1e1e" stroke-width="7.8" stroke-linejoin="round" stroke-linecap="round" clip-path="url(#c3)"/>
<polyline points="1112.5,966.9 1117.4,953.5 1122.5,945.5" fill="none" stroke="#fff" stroke-opacity=".2" stroke-width="2.3" stroke-linejoin="round" stroke-linecap="round" clip-path="url(#c3)"/>
<polyline points="747.2,838 750,835" fill="none" stroke="#27e027" stroke-width="7.8" stroke-linejoin="round" stroke-linecap="round" clip-path="url(#c3)"/>
<polyline points="747.2,838 750,835" fill="none" stroke="#fff" stroke-opacity=".2" stroke-width="2.3" stroke-linejoin="round" stroke-linecap="round" clip-path="url(#c3)"/>
<polyline points="778.3,845 782.1,848.5" fill="none" stroke="#27e027" stroke-width="7.8" stroke-linejoin="round" stroke-linecap="round" clip-path="url(#c3)"/>
<polyline points="778.3,845 782.1,848.5" fill="none" stroke="#fff" stroke-opacity=".2" stroke-width="2.3" stroke-linejoin="round" stroke-linecap="round" clip-path="url(#c3)"/>
<polyline points="811.3,860 815.1,862.8" fill="none" stroke="#27e027" stroke-width="7.8" stroke-linejoin="round" stroke-linecap="round" clip-path="url(#c3)"/>
<polyline points="811.3,860 815.1,862.8" fill="none" stroke="#fff" stroke-opacity=".2" stroke-width="2.3" stroke-linejoin="round" stroke-linecap="round" clip-path="url(#c3)"/>
<polyline points="865.8,868.6 870.4,873" fill="none" stroke="#27e027" stroke-width="7.8" stroke-linejoin="round" stroke-linecap="round" clip-path="url(#c3)"/>
<polyline points="865.8,868.6 870.4,873" fill="none" stroke="#fff" stroke-opacity=".2" stroke-width="2.3" stroke-linejoin="round" stroke-linecap="round" clip-path="url(#c3)"/>
<polyline points="893.6,893.9 898.1,898.3" fill="none" stroke="#27e027" stroke-width="7.8" stroke-linejoin="round" stroke-linecap="round" clip-path="url(#c3)"/>
<polyline points="893.6,893.9 898.1,898.3" fill="none" stroke="#fff" stroke-opacity=".2" stroke-width="2.3" stroke-linejoin="round" stroke-linecap="round" clip-path="url(#c3)"/>
<polyline points="926.4,891.3 930.9,895.7" fill="none" stroke="#27e027" stroke-width="7.8" stroke-linejoin="round" stroke-linecap="round" clip-path="url(#c3)"/>
<polyline points="926.4,891.3 930.9,895.7" fill="none" stroke="#fff" stroke-opacity=".2" stroke-width="2.3" stroke-linejoin="round" stroke-linecap="round" clip-path="url(#c3)"/>
<polyline points="964.2,916.6 968.7,921" fill="none" stroke="#27e027" stroke-width="7.8" stroke-linejoin="round" stroke-linecap="round" clip-path="url(#c3)"/>
<polyline points="964.2,916.6 968.7,921" fill="none" stroke="#fff" stroke-opacity=".2" stroke-width="2.3" stroke-linejoin="round" stroke-linecap="round" clip-path="url(#c3)"/>
<polyline points="1000.9,936.6 1005.5,941" fill="none" stroke="#27e027" stroke-width="7.8" stroke-linejoin="round" stroke-linecap="round" clip-path="url(#c3)"/>
<polyline points="1000.9,936.6 1005.5,941" fill="none" stroke="#fff" stroke-opacity=".2" stroke-width="2.3" stroke-linejoin="round" stroke-linecap="round" clip-path="url(#c3)"/>
<polyline points="1044.7,942 1049.2,946.4" fill="none" stroke="#27e027" stroke-width="7.8" stroke-linejoin="round" stroke-linecap="round" clip-path="url(#c3)"/>
<polyline points="1044.7,942 1049.2,946.4" fill="none" stroke="#fff" stroke-opacity=".2" stroke-width="2.3" stroke-linejoin="round" stroke-linecap="round" clip-path="url(#c3)"/>
<polyline points="1077.4,959.3 1081.9,963.7" fill="none" stroke="#27e027" stroke-width="7.8" stroke-linejoin="round" stroke-linecap="round" clip-path="url(#c3)"/>
<polyline points="1077.4,959.3 1081.9,963.7" fill="none" stroke="#fff" stroke-opacity=".2" stroke-width="2.3" stroke-linejoin="round" stroke-linecap="round" clip-path="url(#c3)"/>
<polyline points="1111.7,972.7 1116.2,977.1" fill="none" stroke="#27e027" stroke-width="7.8" stroke-linejoin="round" stroke-linecap="round" clip-path="url(#c3)"/>
<polyline points="1111.7,972.7 1116.2,977.1" fill="none" stroke="#fff" stroke-opacity=".2" stroke-width="2.3" stroke-linejoin="round" stroke-linecap="round" clip-path="url(#c3)"/>
<polyline points="744.7,830.7 749.1,828 757.4,816.4 767.5,829.7 775.1,836.4" fill="none" stroke="#2626f0" stroke-width="7.8" stroke-linejoin="round" stroke-linecap="round" clip-path="url(#c3)"/>
<polyline points="744.7,830.7 749.1,828 757.4,816.4 767.5,829.7 775.1,836.4" fill="none" stroke="#fff" stroke-opacity=".2" stroke-width="2.3" stroke-linejoin="round" stroke-linecap="round" clip-path="url(#c3)"/>
<polyline points="787.5,840.8 795.1,848.4" fill="none" stroke="#2626f0" stroke-width="7.8" stroke-linejoin="round" stroke-linecap="round" clip-path="url(#c3)"/>
<polyline points="787.5,840.8 795.1,848.4" fill="none" stroke="#fff" stroke-opacity=".2" stroke-width="2.3" stroke-linejoin="round" stroke-linecap="round" clip-path="url(#c3)"/>
<polyline points="812.8,853.8 827.9,863.1 843,865.4 849.1,863 855.7,845.8 863.2,859" fill="none" stroke="#2626f0" stroke-width="7.8" stroke-linejoin="round" stroke-linecap="round" clip-path="url(#c3)"/>
<polyline points="812.8,853.8 827.9,863.1 843,865.4 849.1,863 855.7,845.8 863.2,859" fill="none" stroke="#fff" stroke-opacity=".2" stroke-width="2.3" stroke-linejoin="round" stroke-linecap="round" clip-path="url(#c3)"/>
<polyline points="873.6,871 892,884.6" fill="none" stroke="#2626f0" stroke-width="7.8" stroke-linejoin="round" stroke-linecap="round" clip-path="url(#c3)"/>
<polyline points="873.6,871 892,884.6" fill="none" stroke="#fff" stroke-opacity=".2" stroke-width="2.3" stroke-linejoin="round" stroke-linecap="round" clip-path="url(#c3)"/>
<polyline points="901.4,886.9 906.1,889.9" fill="none" stroke="#2626f0" stroke-width="7.8" stroke-linejoin="round" stroke-linecap="round" clip-path="url(#c3)"/>
<polyline points="901.4,886.9 906.1,889.9" fill="none" stroke="#fff" stroke-opacity=".2" stroke-width="2.3" stroke-linejoin="round" stroke-linecap="round" clip-path="url(#c3)"/>
<polyline points="917.9,895.1 926.1,886.3 931.3,881.6" fill="none" stroke="#2626f0" stroke-width="7.8" stroke-linejoin="round" stroke-linecap="round" clip-path="url(#c3)"/>
<polyline points="917.9,895.1 926.1,886.3 931.3,881.6" fill="none" stroke="#fff" stroke-opacity=".2" stroke-width="2.3" stroke-linejoin="round" stroke-linecap="round" clip-path="url(#c3)"/>
<polyline points="939,892.2 943.7,896.3" fill="none" stroke="#2626f0" stroke-width="7.8" stroke-linejoin="round" stroke-linecap="round" clip-path="url(#c3)"/>
<polyline points="939,892.2 943.7,896.3" fill="none" stroke="#fff" stroke-opacity=".2" stroke-width="2.3" stroke-linejoin="round" stroke-linecap="round" clip-path="url(#c3)"/>
<polyline points="953.1,901.6 961.5,904 972,911" fill="none" stroke="#2626f0" stroke-width="7.8" stroke-linejoin="round" stroke-linecap="round" clip-path="url(#c3)"/>
<polyline points="953.1,901.6 961.5,904 972,911" fill="none" stroke="#fff" stroke-opacity=".2" stroke-width="2.3" stroke-linejoin="round" stroke-linecap="round" clip-path="url(#c3)"/>
<polyline points="982.6,915.7 988.5,918.1" fill="none" stroke="#2626f0" stroke-width="7.8" stroke-linejoin="round" stroke-linecap="round" clip-path="url(#c3)"/>
<polyline points="982.6,915.7 988.5,918.1" fill="none" stroke="#fff" stroke-opacity=".2" stroke-width="2.3" stroke-linejoin="round" stroke-linecap="round" clip-path="url(#c3)"/>
<polyline points="996.7,921.6 1003.8,926.9 1013.2,928.1 1019.1,930.4" fill="none" stroke="#2626f0" stroke-width="7.8" stroke-linejoin="round" stroke-linecap="round" clip-path="url(#c3)"/>
<polyline points="996.7,921.6 1003.8,926.9 1013.2,928.1 1019.1,930.4" fill="none" stroke="#fff" stroke-opacity=".2" stroke-width="2.3" stroke-linejoin="round" stroke-linecap="round" clip-path="url(#c3)"/>
<polyline points="1025,918.1 1030.1,906.9 1037.9,918.1 1043.8,925.1" fill="none" stroke="#2626f0" stroke-width="7.8" stroke-linejoin="round" stroke-linecap="round" clip-path="url(#c3)"/>
<polyline points="1025,918.1 1030.1,906.9 1037.9,918.1 1043.8,925.1" fill="none" stroke="#fff" stroke-opacity=".2" stroke-width="2.3" stroke-linejoin="round" stroke-linecap="round" clip-path="url(#c3)"/>
<polyline points="1050.8,931 1056.7,932.2" fill="none" stroke="#2626f0" stroke-width="7.8" stroke-linejoin="round" stroke-linecap="round" clip-path="url(#c3)"/>
<polyline points="1050.8,931 1056.7,932.2" fill="none" stroke="#fff" stroke-opacity=".2" stroke-width="2.3" stroke-linejoin="round" stroke-linecap="round" clip-path="url(#c3)"/>
<polyline points="1064.9,936.3 1075.5,941 1082.7,945.1 1087.4,942.8" fill="none" stroke="#2626f0" stroke-width="7.8" stroke-linejoin="round" stroke-linecap="round" clip-path="url(#c3)"/>
<polyline points="1064.9,936.3 1075.5,941 1082.7,945.1 1087.4,942.8" fill="none" stroke="#fff" stroke-opacity=".2" stroke-width="2.3" stroke-linejoin="round" stroke-linecap="round" clip-path="url(#c3)"/>
<polyline points="1098,948.1 1101.5,950.4" fill="none" stroke="#2626f0" stroke-width="7.8" stroke-linejoin="round" stroke-linecap="round" clip-path="url(#c3)"/>
<polyline points="1098,948.1 1101.5,950.4" fill="none" stroke="#fff" stroke-opacity=".2" stroke-width="2.3" stroke-linejoin="round" stroke-linecap="round" clip-path="url(#c3)"/>
<polyline points="1110.9,952.8 1116.8,957.5 1121.5,939.2" fill="none" stroke="#2626f0" stroke-width="7.8" stroke-linejoin="round" stroke-linecap="round" clip-path="url(#c3)"/>
<polyline points="1110.9,952.8 1116.8,957.5 1121.5,939.2" fill="none" stroke="#fff" stroke-opacity=".2" stroke-width="2.3" stroke-linejoin="round" stroke-linecap="round" clip-path="url(#c3)"/>
<path d="M117.5 557.1H1156.8" stroke="#000" stroke-width="1.7" fill="none"/>
<path d="M117.5 1041.7H1156.8" stroke="#000" stroke-width="1.7" fill="none"/>
<path d="M118.5 557.1V1041.7" stroke="#000" stroke-width="1.9" fill="none"/>
<path d="M1155.8 557.1V1041.7" stroke="#000" stroke-width="1.9" fill="none"/>
<path d="M176.8 1020.7V1041.7" stroke="#000" stroke-width="2.3" fill="none"/>
<path d="M292.1 1020.7V1041.7" stroke="#000" stroke-width="2.3" fill="none"/>
<path d="M407.4 1020.7V1041.7" stroke="#000" stroke-width="2.3" fill="none"/>
<path d="M522.6 1020.7V1041.7" stroke="#000" stroke-width="2.3" fill="none"/>
<path d="M637.9 1020.7V1041.7" stroke="#000" stroke-width="2.3" fill="none"/>
<path d="M753.2 1020.7V1041.7" stroke="#000" stroke-width="2.3" fill="none"/>
<path d="M868.5 1020.7V1041.7" stroke="#000" stroke-width="2.3" fill="none"/>
<path d="M983.8 1020.7V1041.7" stroke="#000" stroke-width="2.3" fill="none"/>
<path d="M1099.1 1020.7V1041.7" stroke="#000" stroke-width="2.3" fill="none"/>
<path d="M118.5 638H140.2" stroke="#000" stroke-width="1.7" fill="none"/>
<path d="M118.5 799.1H140.2" stroke="#000" stroke-width="1.7" fill="none"/>
<path d="M118.5 960.8H140.2" stroke="#000" stroke-width="1.7" fill="none"/>
<path d="M716.2 559.8H1156.4" stroke="#000" stroke-width="1.7" fill="none"/>
<path d="M716.2 794.8H1156.4" stroke="#000" stroke-width="1.7" fill="none"/>
<path d="M717.2 559.8V794.8" stroke="#000" stroke-width="1.9" fill="none"/>
<path d="M1155.5 559.8V794.8" stroke="#000" stroke-width="1.9" fill="none"/>
<clipPath id="c4"><rect x="718.7" y="559.8" width="435.3" height="235"/></clipPath>
<polyline points="717.2,604.9 734.7,618.8 746.8,628.5 757,628.5 777.4,642.5 785.5,642.5 797.5,652.2 807.7,640.4 816.6,621 826,642.5 848.3,657.6 856.4,658.6 876.8,674.8 897,688.8 907.2,688.8 917.4,695.2 929.4,696.3 947.7,712.4 966,711.4 976.2,704.9 986.4,668.3 998.5,685.5 1014.7,702.8 1027,716.7 1035.1,716.7 1055.3,728.6 1075.7,740.4 1085.8,740.4 1097.9,749 1106,750.1 1116.2,755.5 1122.3,754.4 1136.6,765.1 1144.7,732.9" fill="none" stroke="#3d3d3d" stroke-width="6.1" stroke-linejoin="round" stroke-linecap="round" clip-path="url(#c4)"/>
<polyline points="716.1,606.3 733.7,620.2 745.8,629.9 755.9,629.9 776.3,643.9 784.4,643.9 796.5,653.6 806.7,641.8 815.6,622.4 825,643.9 847.3,659 855.4,660 875.8,676.2 895.9,690.2 906.1,690.2 916.3,696.6 928.4,697.7 946.7,713.8 965,712.8 975.2,706.3 985.4,669.7 997.5,686.9 1013.7,704.2 1025.9,718.1 1034.1,718.1 1054.2,730 1074.6,741.8 1084.8,741.8 1096.9,750.4 1105,751.5 1115.2,756.9 1121.2,755.8 1135.6,766.5 1143.7,734.3" fill="none" stroke="#fff" stroke-opacity=".9" stroke-width="0.75" stroke-linejoin="round" clip-path="url(#c4)"/>
<polyline points="717.2,622.1 728.5,629.6 742.8,641.4" fill="none" stroke="#ff1e1e" stroke-width="7.8" stroke-linejoin="round" stroke-linecap="round" clip-path="url(#c4)"/>
<polyline points="717.2,622.1 728.5,629.6 742.8,641.4" fill="none" stroke="#fff" stroke-opacity=".2" stroke-width="2.3" stroke-linejoin="round" stroke-linecap="round" clip-path="url(#c4)"/>
<polyline points="773.2,657.6 785.5,667.3 795.5,670.5 799.6,665.1" fill="none" stroke="#ff1e1e" stroke-width="7.8" stroke-linejoin="round" stroke-linecap="round" clip-path="url(#c4)"/>
<polyline points="773.2,657.6 785.5,667.3 795.5,670.5 799.6,665.1" fill="none" stroke="#fff" stroke-opacity=".2" stroke-width="2.3" stroke-linejoin="round" stroke-linecap="round" clip-path="url(#c4)"/>
<polyline points="821.9,652.2 830,664 846.2,675.9" fill="none" stroke="#ff1e1e" stroke-width="7.8" stroke-linejoin="round" stroke-linecap="round" clip-path="url(#c4)"/>
<polyline points="821.9,652.2 830,664 846.2,675.9" fill="none" stroke="#fff" stroke-opacity=".2" stroke-width="2.3" stroke-linejoin="round" stroke-linecap="round" clip-path="url(#c4)"/>
<polyline points="872.6,689.8 884.9,695.2 894.9,709.2 905.1,706" fill="none" stroke="#ff1e1e" stroke-width="7.8" stroke-linejoin="round" stroke-linecap="round" clip-path="url(#c4)"/>
<polyline points="872.6,689.8 884.9,695.2 894.9,709.2 905.1,706" fill="none" stroke="#fff" stroke-opacity=".2" stroke-width="2.3" stroke-linejoin="round" stroke-linecap="round" clip-path="url(#c4)"/>
<polyline points="937.5,722.1 949.8,729.6 957.9,728.6 966,734" fill="none" stroke="#ff1e1e" stroke-width="7.8" stroke-linejoin="round" stroke-linecap="round" clip-path="url(#c4)"/>
<polyline points="937.5,722.1 949.8,729.6 957.9,728.6 966,734" fill="none" stroke="#fff" stroke-opacity=".2" stroke-width="2.3" stroke-linejoin="round" stroke-linecap="round" clip-path="url(#c4)"/>
<polyline points="982.3,694.1 990.4,698 998.5,710.3" fill="none" stroke="#ff1e1e" stroke-width="7.8" stroke-linejoin="round" stroke-linecap="round" clip-path="url(#c4)"/>
<polyline points="982.3,694.1 990.4,698 998.5,710.3" fill="none" stroke="#fff" stroke-opacity=".2" stroke-width="2.3" stroke-linejoin="round" stroke-linecap="round" clip-path="url(#c4)"/>
<polyline points="1022.8,734 1035.1,736.1 1049.2,745.8" fill="none" stroke="#ff1e1e" stroke-width="7.8" stroke-linejoin="round" stroke-linecap="round" clip-path="url(#c4)"/>
<polyline points="1022.8,734 1035.1,736.1 1049.2,745.8" fill="none" stroke="#fff" stroke-opacity=".2" stroke-width="2.3" stroke-linejoin="round" stroke-linecap="round" clip-path="url(#c4)"/>
<polyline points="1081.7,756.5 1087.7,754.4 1097.9,766.2 1106,768.4" fill="none" stroke="#ff1e1e" stroke-width="7.8" stroke-linejoin="round" stroke-linecap="round" clip-path="url(#c4)"/>
<polyline points="1081.7,756.5 1087.7,754.4 1097.9,766.2 1106,768.4" fill="none" stroke="#fff" stroke-opacity=".2" stroke-width="2.3" stroke-linejoin="round" stroke-linecap="round" clip-path="url(#c4)"/>
<polyline points="1136.6,774.8 1140.6,756.5 1145.8,743.6" fill="none" stroke="#ff1e1e" stroke-width="7.8" stroke-linejoin="round" stroke-linecap="round" clip-path="url(#c4)"/>
<polyline points="1136.6,774.8 1140.6,756.5 1145.8,743.6" fill="none" stroke="#fff" stroke-opacity=".2" stroke-width="2.3" stroke-linejoin="round" stroke-linecap="round" clip-path="url(#c4)"/>
<polyline points="718.9,615 723,620.5" fill="none" stroke="#27e027" stroke-width="7.8" stroke-linejoin="round" stroke-linecap="round" clip-path="url(#c4)"/>
<polyline points="718.9,615 723,620.5" fill="none" stroke="#fff" stroke-opacity=".2" stroke-width="2.3" stroke-linejoin="round" stroke-linecap="round" clip-path="url(#c4)"/>
<polyline points="746.8,641.5 750.9,647.5" fill="none" stroke="#27e027" stroke-width="7.8" stroke-linejoin="round" stroke-linecap="round" clip-path="url(#c4)"/>
<polyline points="746.8,641.5 750.9,647.5" fill="none" stroke="#fff" stroke-opacity=".2" stroke-width="2.3" stroke-linejoin="round" stroke-linecap="round" clip-path="url(#c4)"/>
<polyline points="780.2,661.5 786.8,666.5" fill="none" stroke="#27e027" stroke-width="7.8" stroke-linejoin="round" stroke-linecap="round" clip-path="url(#c4)"/>
<polyline points="780.2,661.5 786.8,666.5" fill="none" stroke="#fff" stroke-opacity=".2" stroke-width="2.3" stroke-linejoin="round" stroke-linecap="round" clip-path="url(#c4)"/>
<polyline points="808.5,648.5 814.7,642.5" fill="none" stroke="#27e027" stroke-width="7.8" stroke-linejoin="round" stroke-linecap="round" clip-path="url(#c4)"/>
<polyline points="808.5,648.5 814.7,642.5" fill="none" stroke="#fff" stroke-opacity=".2" stroke-width="2.3" stroke-linejoin="round" stroke-linecap="round" clip-path="url(#c4)"/>
<polyline points="835.1,665.5 841.1,671" fill="none" stroke="#27e027" stroke-width="7.8" stroke-linejoin="round" stroke-linecap="round" clip-path="url(#c4)"/>
<polyline points="835.1,665.5 841.1,671" fill="none" stroke="#fff" stroke-opacity=".2" stroke-width="2.3" stroke-linejoin="round" stroke-linecap="round" clip-path="url(#c4)"/>
<polyline points="869.4,687 875.8,692.5" fill="none" stroke="#27e027" stroke-width="7.8" stroke-linejoin="round" stroke-linecap="round" clip-path="url(#c4)"/>
<polyline points="869.4,687 875.8,692.5" fill="none" stroke="#fff" stroke-opacity=".2" stroke-width="2.3" stroke-linejoin="round" stroke-linecap="round" clip-path="url(#c4)"/>
<polyline points="905.7,708.5 912.8,714" fill="none" stroke="#27e027" stroke-width="7.8" stroke-linejoin="round" stroke-linecap="round" clip-path="url(#c4)"/>
<polyline points="905.7,708.5 912.8,714" fill="none" stroke="#fff" stroke-opacity=".2" stroke-width="2.3" stroke-linejoin="round" stroke-linecap="round" clip-path="url(#c4)"/>
<polyline points="938.9,728.5 944.3,735" fill="none" stroke="#27e027" stroke-width="7.8" stroke-linejoin="round" stroke-linecap="round" clip-path="url(#c4)"/>
<polyline points="938.9,728.5 944.3,735" fill="none" stroke="#fff" stroke-opacity=".2" stroke-width="2.3" stroke-linejoin="round" stroke-linecap="round" clip-path="url(#c4)"/>
<polyline points="969.8,732 974.3,724.5" fill="none" stroke="#27e027" stroke-width="7.8" stroke-linejoin="round" stroke-linecap="round" clip-path="url(#c4)"/>
<polyline points="969.8,732 974.3,724.5" fill="none" stroke="#fff" stroke-opacity=".2" stroke-width="2.3" stroke-linejoin="round" stroke-linecap="round" clip-path="url(#c4)"/>
<polyline points="984.5,692 987.9,687.5 989.6,692" fill="none" stroke="#27e027" stroke-width="7.8" stroke-linejoin="round" stroke-linecap="round" clip-path="url(#c4)"/>
<polyline points="984.5,692 987.9,687.5 989.6,692" fill="none" stroke="#fff" stroke-opacity=".2" stroke-width="2.3" stroke-linejoin="round" stroke-linecap="round" clip-path="url(#c4)"/>
<polyline points="1004.5,725 1008.7,732" fill="none" stroke="#27e027" stroke-width="7.8" stroke-linejoin="round" stroke-linecap="round" clip-path="url(#c4)"/>
<polyline points="1004.5,725 1008.7,732" fill="none" stroke="#fff" stroke-opacity=".2" stroke-width="2.3" stroke-linejoin="round" stroke-linecap="round" clip-path="url(#c4)"/>
<polyline points="1037.7,744 1044.5,749.5" fill="none" stroke="#27e027" stroke-width="7.8" stroke-linejoin="round" stroke-linecap="round" clip-path="url(#c4)"/>
<polyline points="1037.7,744 1044.5,749.5" fill="none" stroke="#fff" stroke-opacity=".2" stroke-width="2.3" stroke-linejoin="round" stroke-linecap="round" clip-path="url(#c4)"/>
<polyline points="1068.7,764.5 1072.8,772" fill="none" stroke="#27e027" stroke-width="7.8" stroke-linejoin="round" stroke-linecap="round" clip-path="url(#c4)"/>
<polyline points="1068.7,764.5 1072.8,772" fill="none" stroke="#fff" stroke-opacity=".2" stroke-width="2.3" stroke-linejoin="round" stroke-linecap="round" clip-path="url(#c4)"/>
<polyline points="1105.3,779 1109.4,785.5" fill="none" stroke="#27e027" stroke-width="7.8" stroke-linejoin="round" stroke-linecap="round" clip-path="url(#c4)"/>
<polyline points="1105.3,779 1109.4,785.5" fill="none" stroke="#fff" stroke-opacity=".2" stroke-width="2.3" stroke-linejoin="round" stroke-linecap="round" clip-path="url(#c4)"/>
<polyline points="1137,786 1138.5,779.5" fill="none" stroke="#27e027" stroke-width="7.8" stroke-linejoin="round" stroke-linecap="round" clip-path="url(#c4)"/>
<polyline points="1137,786 1138.5,779.5" fill="none" stroke="#fff" stroke-opacity=".2" stroke-width="2.3" stroke-linejoin="round" stroke-linecap="round" clip-path="url(#c4)"/>
<polyline points="717.2,601.6 748.9,626.4" fill="none" stroke="#2626f0" stroke-width="7.8" stroke-linejoin="round" stroke-linecap="round" clip-path="url(#c4)"/>
<polyline points="717.2,601.6 748.9,626.4" fill="none" stroke="#fff" stroke-opacity=".2" stroke-width="2.3" stroke-linejoin="round" stroke-linecap="round" clip-path="url(#c4)"/>
<polyline points="765.1,630.7 773.2,636.1" fill="none" stroke="#2626f0" stroke-width="7.8" stroke-linejoin="round" stroke-linecap="round" clip-path="url(#c4)"/>
<polyline points="765.1,630.7 773.2,636.1" fill="none" stroke="#fff" stroke-opacity=".2" stroke-width="2.3" stroke-linejoin="round" stroke-linecap="round" clip-path="url(#c4)"/>
<polyline points="793.6,645.7 807.7,629.6 816.6,621" fill="none" stroke="#2626f0" stroke-width="7.8" stroke-linejoin="round" stroke-linecap="round" clip-path="url(#c4)"/>
<polyline points="793.6,645.7 807.7,629.6 816.6,621" fill="none" stroke="#fff" stroke-opacity=".2" stroke-width="2.3" stroke-linejoin="round" stroke-linecap="round" clip-path="url(#c4)"/>
<polyline points="830,640.4 838.1,647.9" fill="none" stroke="#2626f0" stroke-width="7.8" stroke-linejoin="round" stroke-linecap="round" clip-path="url(#c4)"/>
<polyline points="830,640.4 838.1,647.9" fill="none" stroke="#fff" stroke-opacity=".2" stroke-width="2.3" stroke-linejoin="round" stroke-linecap="round" clip-path="url(#c4)"/>
<polyline points="854.3,657.6 868.7,661.9 886.8,674.8" fill="none" stroke="#2626f0" stroke-width="7.8" stroke-linejoin="round" stroke-linecap="round" clip-path="url(#c4)"/>
<polyline points="854.3,657.6 868.7,661.9 886.8,674.8" fill="none" stroke="#fff" stroke-opacity=".2" stroke-width="2.3" stroke-linejoin="round" stroke-linecap="round" clip-path="url(#c4)"/>
<polyline points="905.1,683.4 915.3,687.7" fill="none" stroke="#2626f0" stroke-width="7.8" stroke-linejoin="round" stroke-linecap="round" clip-path="url(#c4)"/>
<polyline points="905.1,683.4 915.3,687.7" fill="none" stroke="#fff" stroke-opacity=".2" stroke-width="2.3" stroke-linejoin="round" stroke-linecap="round" clip-path="url(#c4)"/>
<polyline points="929.4,694.1 941.7,703.8 957.9,706 968.1,710.3" fill="none" stroke="#2626f0" stroke-width="7.8" stroke-linejoin="round" stroke-linecap="round" clip-path="url(#c4)"/>
<polyline points="929.4,694.1 941.7,703.8 957.9,706 968.1,710.3" fill="none" stroke="#fff" stroke-opacity=".2" stroke-width="2.3" stroke-linejoin="round" stroke-linecap="round" clip-path="url(#c4)"/>
<polyline points="978.3,687.7 987.2,667.3 1000.6,687.7 1010.8,700.6" fill="none" stroke="#2626f0" stroke-width="7.8" stroke-linejoin="round" stroke-linecap="round" clip-path="url(#c4)"/>
<polyline points="978.3,687.7 987.2,667.3 1000.6,687.7 1010.8,700.6" fill="none" stroke="#fff" stroke-opacity=".2" stroke-width="2.3" stroke-linejoin="round" stroke-linecap="round" clip-path="url(#c4)"/>
<polyline points="1022.8,711.4 1033,713.5" fill="none" stroke="#2626f0" stroke-width="7.8" stroke-linejoin="round" stroke-linecap="round" clip-path="url(#c4)"/>
<polyline points="1022.8,711.4 1033,713.5" fill="none" stroke="#fff" stroke-opacity=".2" stroke-width="2.3" stroke-linejoin="round" stroke-linecap="round" clip-path="url(#c4)"/>
<polyline points="1047.2,721 1065.5,729.6 1077.7,737.2 1085.8,732.9" fill="none" stroke="#2626f0" stroke-width="7.8" stroke-linejoin="round" stroke-linecap="round" clip-path="url(#c4)"/>
<polyline points="1047.2,721 1065.5,729.6 1077.7,737.2 1085.8,732.9" fill="none" stroke="#fff" stroke-opacity=".2" stroke-width="2.3" stroke-linejoin="round" stroke-linecap="round" clip-path="url(#c4)"/>
<polyline points="1104.2,742.6 1110.2,746.9" fill="none" stroke="#2626f0" stroke-width="7.8" stroke-linejoin="round" stroke-linecap="round" clip-path="url(#c4)"/>
<polyline points="1104.2,742.6 1110.2,746.9" fill="none" stroke="#fff" stroke-opacity=".2" stroke-width="2.3" stroke-linejoin="round" stroke-linecap="round" clip-path="url(#c4)"/>
<polyline points="1126.4,751.2 1136.6,759.8 1144.7,726.4" fill="none" stroke="#2626f0" stroke-width="7.8" stroke-linejoin="round" stroke-linecap="round" clip-path="url(#c4)"/>
<polyline points="1126.4,751.2 1136.6,759.8 1144.7,726.4" fill="none" stroke="#fff" stroke-opacity=".2" stroke-width="2.3" stroke-linejoin="round" stroke-linecap="round" clip-path="url(#c4)"/>
<path d="M716.2 559.8H1156.4" stroke="#000" stroke-width="1.7" fill="none"/>
<path d="M716.2 794.8H1156.4" stroke="#000" stroke-width="1.7" fill="none"/>
<path d="M717.2 559.8V794.8" stroke="#000" stroke-width="1.9" fill="none"/>
<path d="M1155.5 559.8V794.8" stroke="#000" stroke-width="1.9" fill="none"/>
<path d="M907.2 773.8V794.8" stroke="#000" stroke-width="2.3" fill="none"/>
<path d="M907.2 559.8V580.8" stroke="#000" stroke-width="2.3" fill="none"/>
<path d="M1106 773.8V794.8" stroke="#000" stroke-width="2.3" fill="none"/>
<path d="M1106 559.8V580.8" stroke="#000" stroke-width="2.3" fill="none"/>
<path d="M717.2 588.7H737.9" stroke="#000" stroke-width="1.7" fill="none"/>
<path d="M1134.7 588.7H1155.5" stroke="#000" stroke-width="1.7" fill="none"/>
<path d="M717.2 647.9H737.9" stroke="#000" stroke-width="1.7" fill="none"/>
<path d="M1134.7 647.9H1155.5" stroke="#000" stroke-width="1.7" fill="none"/>
<path d="M717.2 707.1H737.9" stroke="#000" stroke-width="1.7" fill="none"/>
<path d="M1134.7 707.1H1155.5" stroke="#000" stroke-width="1.7" fill="none"/>
<path d="M717.2 765.8H737.9" stroke="#000" stroke-width="1.7" fill="none"/>
<path d="M1134.7 765.8H1155.5" stroke="#000" stroke-width="1.7" fill="none"/>
<clipPath id="c5"><rect x="2387.2" y="1" width="1016.6" height="485"/></clipPath>
<polyline points="2458.9,73.6 2465.7,85.4 2473.4,95.1 2484.9,95.1 2492.6,115.7 2504.7,130.9 2511.5,108.9 2524.3,114.4 2538.5,137.8 2551.5,181.8 2562.8,143.3 2572.3,150.2 2582.6,155.7 2589.4,154.3 2595.7,158.4 2601.9,158.4 2613.8,168.1 2624.2,173 2639.8,173.6 2647.5,179.1 2655.5,197 2660.6,201.1 2668.3,198.4 2681.3,208 2707.4,214.9 2720.4,224.5 2726.6,217.7 2738.5,234.2 2745.3,224.5 2758.3,220.4 2772.3,227.3 2782.6,238.3 2803.6,256.2 2816.4,252.1 2829.4,260.4 2842.5,268.6 2847.7,268.6 2854.5,281 2860.8,285.1 2868.5,268.6 2878.9,274.1 2894.5,275.5 2902.3,285.1 2910,296.2 2925.7,305.8 2941.3,294.8 2946.4,294.8 2954.2,287.9 2959.4,290.6 2967.2,301.7 2977.5,312.7 2987.9,314.1 3007.5,323.3 3021.9,327.7 3028.5,327 3035,329.2 3041.6,325.5 3050.4,323.3 3058.9,329.2 3067.7,343.7 3072,362.5 3078.6,377 3096,379.2 3106.9,374.1 3122.3,369.1 3130.9,370.5 3141.8,388.6 3154.9,393 3165.8,402.4 3174.6,397.3 3194.3,385 3200.8,385 3209.5,390.1 3227.1,395.9 3240.2,398.8 3248.7,396.6 3255.4,408.9 3264.1,419.1 3272.7,420.6 3283.7,424.2 3296.7,417.6 3307.6,412.6 3314.3,422 3318.6,435.1 3331.6,443.8 3338.3,455.4 3346.1,465.5 3350.6,471.7 3355.6,462.6 3362.3,455.4 3377.5,453.9 3388.4,451 3395,462.6 3400.3,473.9" fill="none" stroke="#3d3d3d" stroke-width="6.1" stroke-linejoin="round" stroke-linecap="round" clip-path="url(#c5)"/>
<polyline points="2457.8,75 2464.6,86.8 2472.4,96.5 2483.9,96.5 2491.6,117.1 2503.7,132.3 2510.5,110.3 2523.3,115.8 2537.5,139.2 2550.5,183.2 2561.8,144.7 2571.2,151.6 2581.6,157.1 2588.4,155.7 2594.6,159.8 2600.8,159.8 2612.7,169.5 2623.1,174.4 2638.8,175 2646.5,180.5 2654.4,198.4 2659.5,202.5 2667.3,199.8 2680.3,209.4 2706.3,216.3 2719.3,225.9 2725.6,219.1 2737.5,235.6 2744.2,225.9 2757.3,221.8 2771.2,228.7 2781.6,239.7 2802.5,257.6 2815.4,253.5 2828.4,261.8 2841.4,270 2846.7,270 2853.5,282.4 2859.7,286.5 2867.5,270 2877.8,275.5 2893.5,276.9 2901.2,286.5 2909,297.6 2924.6,307.2 2940.3,296.2 2945.4,296.2 2953.1,289.3 2958.4,292 2966.1,303.1 2976.5,314.1 2986.9,315.5 3006.4,324.7 3020.8,329.1 3027.5,328.4 3033.9,330.6 3040.6,326.9 3049.3,324.7 3057.9,330.6 3066.7,345.1 3071,363.9 3077.6,378.4 3095,380.6 3105.9,375.5 3121.3,370.5 3129.9,371.9 3140.8,390 3153.9,394.4 3164.8,403.8 3173.6,398.7 3193.3,386.4 3199.7,386.4 3208.5,391.5 3226.1,397.3 3239.1,400.2 3247.7,398 3254.3,410.3 3263.1,420.5 3271.7,422 3282.6,425.6 3295.7,419 3306.6,414 3313.2,423.4 3317.5,436.5 3330.6,445.2 3337.2,456.8 3345,466.9 3349.5,473.1 3354.6,464 3361.2,456.8 3376.4,455.3 3387.4,452.4 3394,464 3399.3,475.3" fill="none" stroke="#fff" stroke-opacity=".9" stroke-width="0.75" stroke-linejoin="round" clip-path="url(#c5)"/>
<polyline points="3032.5,321.5 3043,313.7 3051.5,313.7 3055.7,319.3" fill="none" stroke="#ff1e1e" stroke-width="7.8" stroke-linejoin="round" stroke-linecap="round" clip-path="url(#c5)"/>
<polyline points="3032.5,321.5 3043,313.7 3051.5,313.7 3055.7,319.3" fill="none" stroke="#fff" stroke-opacity=".2" stroke-width="2.3" stroke-linejoin="round" stroke-linecap="round" clip-path="url(#c5)"/>
<polyline points="3076.8,341.6 3083,349.5 3110.6,345" fill="none" stroke="#ff1e1e" stroke-width="7.8" stroke-linejoin="round" stroke-linecap="round" clip-path="url(#c5)"/>
<polyline points="3076.8,341.6 3083,349.5 3110.6,345" fill="none" stroke="#fff" stroke-opacity=".2" stroke-width="2.3" stroke-linejoin="round" stroke-linecap="round" clip-path="url(#c5)"/>
<polyline points="3135.8,352.8 3144.3,361.8 3152.6,366.2 3161.1,362.9" fill="none" stroke="#ff1e1e" stroke-width="7.8" stroke-linejoin="round" stroke-linecap="round" clip-path="url(#c5)"/>
<polyline points="3135.8,352.8 3144.3,361.8 3152.6,366.2 3161.1,362.9" fill="none" stroke="#fff" stroke-opacity=".2" stroke-width="2.3" stroke-linejoin="round" stroke-linecap="round" clip-path="url(#c5)"/>
<polyline points="3194.9,356.2 3205.5,358.4 3224.5,369.6" fill="none" stroke="#ff1e1e" stroke-width="7.8" stroke-linejoin="round" stroke-linecap="round" clip-path="url(#c5)"/>
<polyline points="3194.9,356.2 3205.5,358.4 3224.5,369.6" fill="none" stroke="#fff" stroke-opacity=".2" stroke-width="2.3" stroke-linejoin="round" stroke-linecap="round" clip-path="url(#c5)"/>
<polyline points="3254,378.5 3264.5,389.7 3285.7,394.2" fill="none" stroke="#ff1e1e" stroke-width="7.8" stroke-linejoin="round" stroke-linecap="round" clip-path="url(#c5)"/>
<polyline points="3254,378.5 3264.5,389.7 3285.7,394.2" fill="none" stroke="#fff" stroke-opacity=".2" stroke-width="2.3" stroke-linejoin="round" stroke-linecap="round" clip-path="url(#c5)"/>
<polyline points="3313,392 3321.5,407.6 3336.2,413.2" fill="none" stroke="#ff1e1e" stroke-width="7.8" stroke-linejoin="round" stroke-linecap="round" clip-path="url(#c5)"/>
<polyline points="3313,392 3321.5,407.6 3336.2,413.2" fill="none" stroke="#fff" stroke-opacity=".2" stroke-width="2.3" stroke-linejoin="round" stroke-linecap="round" clip-path="url(#c5)"/>
<polyline points="3353.2,425.5 3361.7,418.8 3391.1,414.3" fill="none" stroke="#ff1e1e" stroke-width="7.8" stroke-linejoin="round" stroke-linecap="round" clip-path="url(#c5)"/>
<polyline points="3353.2,425.5 3361.7,418.8 3391.1,414.3" fill="none" stroke="#fff" stroke-opacity=".2" stroke-width="2.3" stroke-linejoin="round" stroke-linecap="round" clip-path="url(#c5)"/>
<polyline points="3062.8,332.9 3066,337.4" fill="none" stroke="#27e027" stroke-width="7.8" stroke-linejoin="round" stroke-linecap="round" clip-path="url(#c5)"/>
<polyline points="3062.8,332.9 3066,337.4" fill="none" stroke="#fff" stroke-opacity=".2" stroke-width="2.3" stroke-linejoin="round" stroke-linecap="round" clip-path="url(#c5)"/>
<polyline points="3076.5,352.4 3080.8,358.9" fill="none" stroke="#27e027" stroke-width="7.8" stroke-linejoin="round" stroke-linecap="round" clip-path="url(#c5)"/>
<polyline points="3076.5,352.4 3080.8,358.9" fill="none" stroke="#fff" stroke-opacity=".2" stroke-width="2.3" stroke-linejoin="round" stroke-linecap="round" clip-path="url(#c5)"/>
<polyline points="3111.4,357.4 3117.9,353.1" fill="none" stroke="#27e027" stroke-width="7.8" stroke-linejoin="round" stroke-linecap="round" clip-path="url(#c5)"/>
<polyline points="3111.4,357.4 3117.9,353.1" fill="none" stroke="#fff" stroke-opacity=".2" stroke-width="2.3" stroke-linejoin="round" stroke-linecap="round" clip-path="url(#c5)"/>
<polyline points="3136.2,364 3139.7,369.8" fill="none" stroke="#27e027" stroke-width="7.8" stroke-linejoin="round" stroke-linecap="round" clip-path="url(#c5)"/>
<polyline points="3136.2,364 3139.7,369.8" fill="none" stroke="#fff" stroke-opacity=".2" stroke-width="2.3" stroke-linejoin="round" stroke-linecap="round" clip-path="url(#c5)"/>
<polyline points="3160.4,382.5 3162.7,385.1" fill="none" stroke="#27e027" stroke-width="7.8" stroke-linejoin="round" stroke-linecap="round" clip-path="url(#c5)"/>
<polyline points="3160.4,382.5 3162.7,385.1" fill="none" stroke="#fff" stroke-opacity=".2" stroke-width="2.3" stroke-linejoin="round" stroke-linecap="round" clip-path="url(#c5)"/>
<polyline points="3184.8,378.5 3187.7,374.1" fill="none" stroke="#27e027" stroke-width="7.8" stroke-linejoin="round" stroke-linecap="round" clip-path="url(#c5)"/>
<polyline points="3184.8,378.5 3187.7,374.1" fill="none" stroke="#fff" stroke-opacity=".2" stroke-width="2.3" stroke-linejoin="round" stroke-linecap="round" clip-path="url(#c5)"/>
<polyline points="3213.8,379.9 3222.6,385" fill="none" stroke="#27e027" stroke-width="7.8" stroke-linejoin="round" stroke-linecap="round" clip-path="url(#c5)"/>
<polyline points="3213.8,379.9 3222.6,385" fill="none" stroke="#fff" stroke-opacity=".2" stroke-width="2.3" stroke-linejoin="round" stroke-linecap="round" clip-path="url(#c5)"/>
<polyline points="3249.3,396.4 3251.7,394.2" fill="none" stroke="#27e027" stroke-width="7.8" stroke-linejoin="round" stroke-linecap="round" clip-path="url(#c5)"/>
<polyline points="3249.3,396.4 3251.7,394.2" fill="none" stroke="#fff" stroke-opacity=".2" stroke-width="2.3" stroke-linejoin="round" stroke-linecap="round" clip-path="url(#c5)"/>
<polyline points="3263,417.5 3265.3,420.1" fill="none" stroke="#27e027" stroke-width="7.8" stroke-linejoin="round" stroke-linecap="round" clip-path="url(#c5)"/>
<polyline points="3263,417.5 3265.3,420.1" fill="none" stroke="#fff" stroke-opacity=".2" stroke-width="2.3" stroke-linejoin="round" stroke-linecap="round" clip-path="url(#c5)"/>
<polyline points="3296.7,414.8 3305.5,412.6" fill="none" stroke="#27e027" stroke-width="7.8" stroke-linejoin="round" stroke-linecap="round" clip-path="url(#c5)"/>
<polyline points="3296.7,414.8 3305.5,412.6" fill="none" stroke="#fff" stroke-opacity=".2" stroke-width="2.3" stroke-linejoin="round" stroke-linecap="round" clip-path="url(#c5)"/>
<polyline points="3338.3,453.9 3342.6,459.7" fill="none" stroke="#27e027" stroke-width="7.8" stroke-linejoin="round" stroke-linecap="round" clip-path="url(#c5)"/>
<polyline points="3338.3,453.9 3342.6,459.7" fill="none" stroke="#fff" stroke-opacity=".2" stroke-width="2.3" stroke-linejoin="round" stroke-linecap="round" clip-path="url(#c5)"/>
<polyline points="3348.8,468.1 3350.8,470.7 3352.7,467.4" fill="none" stroke="#27e027" stroke-width="7.8" stroke-linejoin="round" stroke-linecap="round" clip-path="url(#c5)"/>
<polyline points="3348.8,468.1 3350.8,470.7 3352.7,467.4" fill="none" stroke="#fff" stroke-opacity=".2" stroke-width="2.3" stroke-linejoin="round" stroke-linecap="round" clip-path="url(#c5)"/>
<polyline points="3379.6,452.5 3388.4,450.3" fill="none" stroke="#27e027" stroke-width="7.8" stroke-linejoin="round" stroke-linecap="round" clip-path="url(#c5)"/>
<polyline points="3379.6,452.5 3388.4,450.3" fill="none" stroke="#fff" stroke-opacity=".2" stroke-width="2.3" stroke-linejoin="round" stroke-linecap="round" clip-path="url(#c5)"/>
<polyline points="3032.8,336.4 3041.4,328 3050.4,324.1 3058.9,330.6 3063.4,334.9 3072,348" fill="none" stroke="#2626f0" stroke-width="7.8" stroke-linejoin="round" stroke-linecap="round" clip-path="url(#c5)"/>
<polyline points="3032.8,336.4 3041.4,328 3050.4,324.1 3058.9,330.6 3063.4,334.9 3072,348" fill="none" stroke="#fff" stroke-opacity=".2" stroke-width="2.3" stroke-linejoin="round" stroke-linecap="round" clip-path="url(#c5)"/>
<polyline points="3078.6,359.6 3085.3,368.3 3096,365.4 3111.4,364" fill="none" stroke="#2626f0" stroke-width="7.8" stroke-linejoin="round" stroke-linecap="round" clip-path="url(#c5)"/>
<polyline points="3078.6,359.6 3085.3,368.3 3096,365.4 3111.4,364" fill="none" stroke="#fff" stroke-opacity=".2" stroke-width="2.3" stroke-linejoin="round" stroke-linecap="round" clip-path="url(#c5)"/>
<polyline points="3128.8,357.4 3133.3,363.3" fill="none" stroke="#2626f0" stroke-width="7.8" stroke-linejoin="round" stroke-linecap="round" clip-path="url(#c5)"/>
<polyline points="3128.8,357.4 3133.3,363.3" fill="none" stroke="#fff" stroke-opacity=".2" stroke-width="2.3" stroke-linejoin="round" stroke-linecap="round" clip-path="url(#c5)"/>
<polyline points="3139.7,375.6 3150.6,385.7 3159.4,385 3165.1,390.1" fill="none" stroke="#2626f0" stroke-width="7.8" stroke-linejoin="round" stroke-linecap="round" clip-path="url(#c5)"/>
<polyline points="3139.7,375.6 3150.6,385.7 3159.4,385 3165.1,390.1" fill="none" stroke="#fff" stroke-opacity=".2" stroke-width="2.3" stroke-linejoin="round" stroke-linecap="round" clip-path="url(#c5)"/>
<polyline points="3178.9,388.6 3185.5,383.6" fill="none" stroke="#2626f0" stroke-width="7.8" stroke-linejoin="round" stroke-linecap="round" clip-path="url(#c5)"/>
<polyline points="3178.9,388.6 3185.5,383.6" fill="none" stroke="#fff" stroke-opacity=".2" stroke-width="2.3" stroke-linejoin="round" stroke-linecap="round" clip-path="url(#c5)"/>
<polyline points="3200.8,377 3213.8,385.7 3229.2,395.2" fill="none" stroke="#2626f0" stroke-width="7.8" stroke-linejoin="round" stroke-linecap="round" clip-path="url(#c5)"/>
<polyline points="3200.8,377 3213.8,385.7 3229.2,395.2" fill="none" stroke="#fff" stroke-opacity=".2" stroke-width="2.3" stroke-linejoin="round" stroke-linecap="round" clip-path="url(#c5)"/>
<polyline points="3246.6,398.8 3250.9,396.6 3257.5,410.4 3266.3,417.6 3281.5,420.6 3290.3,418.3" fill="none" stroke="#2626f0" stroke-width="7.8" stroke-linejoin="round" stroke-linecap="round" clip-path="url(#c5)"/>
<polyline points="3246.6,398.8 3250.9,396.6 3257.5,410.4 3266.3,417.6 3281.5,420.6 3290.3,418.3" fill="none" stroke="#fff" stroke-opacity=".2" stroke-width="2.3" stroke-linejoin="round" stroke-linecap="round" clip-path="url(#c5)"/>
<polyline points="3305.5,413.3 3314.3,417.6" fill="none" stroke="#2626f0" stroke-width="7.8" stroke-linejoin="round" stroke-linecap="round" clip-path="url(#c5)"/>
<polyline points="3305.5,413.3 3314.3,417.6" fill="none" stroke="#fff" stroke-opacity=".2" stroke-width="2.3" stroke-linejoin="round" stroke-linecap="round" clip-path="url(#c5)"/>
<polyline points="3318.6,429.2 3323.1,437.9 3334,442.3 3340.4,451" fill="none" stroke="#2626f0" stroke-width="7.8" stroke-linejoin="round" stroke-linecap="round" clip-path="url(#c5)"/>
<polyline points="3318.6,429.2 3323.1,437.9 3334,442.3 3340.4,451" fill="none" stroke="#fff" stroke-opacity=".2" stroke-width="2.3" stroke-linejoin="round" stroke-linecap="round" clip-path="url(#c5)"/>
<polyline points="3346.7,462.6 3351,469.4 3358,453.9 3362.3,451 3377.5,448.8 3388.4,445.9 3392.7,451 3400.3,472" fill="none" stroke="#2626f0" stroke-width="7.8" stroke-linejoin="round" stroke-linecap="round" clip-path="url(#c5)"/>
<polyline points="3346.7,462.6 3351,469.4 3358,453.9 3362.3,451 3377.5,448.8 3388.4,445.9 3392.7,451 3400.3,472" fill="none" stroke="#fff" stroke-opacity=".2" stroke-width="2.3" stroke-linejoin="round" stroke-linecap="round" clip-path="url(#c5)"/>
<path d="M2386.2 1H3427.4" stroke="#000" stroke-width="1.7" fill="none"/>
<path d="M2386.2 486H3427.4" stroke="#000" stroke-width="1.7" fill="none"/>
<path d="M2387.2 1V486" stroke="#000" stroke-width="1.9" fill="none"/>
<path d="M3426.4 1V486" stroke="#aaa" stroke-width="1.9" fill="none"/>
<path d="M2453.6 465V486" stroke="#000" stroke-width="2.3" fill="none"/>
<path d="M2583.4 465V486" stroke="#000" stroke-width="2.3" fill="none"/>
<path d="M2713.2 465V486" stroke="#000" stroke-width="2.3" fill="none"/>
<path d="M2843 465V486" stroke="#000" stroke-width="2.3" fill="none"/>
<path d="M2972.8 465V486" stroke="#000" stroke-width="2.3" fill="none"/>
<path d="M3102.6 465V486" stroke="#000" stroke-width="2.3" fill="none"/>
<path d="M3232.5 465V486" stroke="#000" stroke-width="2.3" fill="none"/>
<path d="M3362.3 465V486" stroke="#000" stroke-width="2.3" fill="none"/>
<path d="M2387.2 102.4H2408.9" stroke="#000" stroke-width="1.7" fill="none"/>
<path d="M2387.2 303.8H2408.9" stroke="#000" stroke-width="1.7" fill="none"/>
<path d="M3032.3 2.6H3425.5" stroke="#000" stroke-width="1.7" fill="none"/>
<path d="M3032.3 245.2H3425.5" stroke="#000" stroke-width="1.7" fill="none"/>
<path d="M3033.2 2.6V245.2" stroke="#000" stroke-width="1.9" fill="none"/>
<path d="M3424.5 2.6V245.2" stroke="#000" stroke-width="1.9" fill="none"/>
<clipPath id="c6"><rect x="3034.7" y="2.6" width="388.3" height="242.1"/></clipPath>
<polyline points="3033.2,26.8 3047.2,33.6 3053.6,32.4 3059.8,35.8 3066.2,30.2 3074.7,26.8 3083,35.8 3091.5,58.2 3095.7,87.2 3102.1,109.6 3118.9,113 3129.4,105.1 3144.3,97.3 3152.6,99.5 3163.2,127.5 3175.8,134.2 3186.4,148.7 3194.9,140.9 3214,121.9 3220.2,121.9 3228.7,129.7 3245.7,138.7 3258.3,143.2 3266.6,139.8 3273,158.8 3281.5,174.5 3289.8,176.7 3300.4,182.3 3313,172.2 3323.6,164.4 3330,178.9 3334.2,199.1 3346.8,212.5 3353.2,230.4 3360.8,246 3365.1,255.5 3370,241.6 3376.4,230.4 3391.1,228.1 3401.7,223.7 3408.1,241.6 3413.2,259" fill="none" stroke="#3d3d3d" stroke-width="6.1" stroke-linejoin="round" stroke-linecap="round" clip-path="url(#c6)"/>
<polyline points="3032.2,28.2 3046.1,35 3052.5,33.8 3058.8,37.2 3065.2,31.6 3073.7,28.2 3082,37.2 3090.5,59.6 3094.6,88.6 3101,111 3117.8,114.4 3128.4,106.5 3143.3,98.7 3151.6,100.9 3162.2,128.9 3174.8,135.6 3185.4,150.1 3193.9,142.3 3212.9,123.3 3219.2,123.3 3227.6,131.1 3244.6,140.1 3257.3,144.6 3265.6,141.2 3272,160.2 3280.5,175.9 3288.8,178.1 3299.3,183.7 3312,173.6 3322.5,165.8 3329,180.3 3333.1,200.5 3345.8,213.9 3352.2,231.8 3359.7,247.4 3364.1,256.9 3369,243 3375.4,231.8 3390.1,229.5 3400.7,225.1 3407.1,243 3412.2,260.4" fill="none" stroke="#fff" stroke-opacity=".9" stroke-width="0.75" stroke-linejoin="round" clip-path="url(#c6)"/>
<polyline points="3057.7,29.1 3066.2,14.5 3074.7,11.2 3078.9,15.7" fill="none" stroke="#ff1e1e" stroke-width="7.8" stroke-linejoin="round" stroke-linecap="round" clip-path="url(#c6)"/>
<polyline points="3057.7,29.1 3066.2,14.5 3074.7,11.2 3078.9,15.7" fill="none" stroke="#fff" stroke-opacity=".2" stroke-width="2.3" stroke-linejoin="round" stroke-linecap="round" clip-path="url(#c6)"/>
<polyline points="3097.9,43.6 3104.2,58.2 3108.5,66 3118.9,61.5" fill="none" stroke="#ff1e1e" stroke-width="7.8" stroke-linejoin="round" stroke-linecap="round" clip-path="url(#c6)"/>
<polyline points="3097.9,43.6 3104.2,58.2 3108.5,66 3118.9,61.5" fill="none" stroke="#fff" stroke-opacity=".2" stroke-width="2.3" stroke-linejoin="round" stroke-linecap="round" clip-path="url(#c6)"/>
<polyline points="3152.6,51.4 3159.1,67.1 3164.2,81.6" fill="none" stroke="#ff1e1e" stroke-width="7.8" stroke-linejoin="round" stroke-linecap="round" clip-path="url(#c6)"/>
<polyline points="3152.6,51.4 3159.1,67.1 3164.2,81.6" fill="none" stroke="#fff" stroke-opacity=".2" stroke-width="2.3" stroke-linejoin="round" stroke-linecap="round" clip-path="url(#c6)"/>
<polyline points="3188.7,100.7 3197,89.5 3214,78.3" fill="none" stroke="#ff1e1e" stroke-width="7.8" stroke-linejoin="round" stroke-linecap="round" clip-path="url(#c6)"/>
<polyline points="3188.7,100.7 3197,89.5 3214,78.3" fill="none" stroke="#fff" stroke-opacity=".2" stroke-width="2.3" stroke-linejoin="round" stroke-linecap="round" clip-path="url(#c6)"/>
<polyline points="3241.3,93.9 3256,108.5 3268.9,106.2" fill="none" stroke="#ff1e1e" stroke-width="7.8" stroke-linejoin="round" stroke-linecap="round" clip-path="url(#c6)"/>
<polyline points="3241.3,93.9 3256,108.5 3268.9,106.2" fill="none" stroke="#fff" stroke-opacity=".2" stroke-width="2.3" stroke-linejoin="round" stroke-linecap="round" clip-path="url(#c6)"/>
<polyline points="3289.8,129.7 3300.4,135.3 3317.4,126.4" fill="none" stroke="#ff1e1e" stroke-width="7.8" stroke-linejoin="round" stroke-linecap="round" clip-path="url(#c6)"/>
<polyline points="3289.8,129.7 3300.4,135.3 3317.4,126.4" fill="none" stroke="#fff" stroke-opacity=".2" stroke-width="2.3" stroke-linejoin="round" stroke-linecap="round" clip-path="url(#c6)"/>
<polyline points="3336.2,153.2 3349.1,161 3357.4,178.9" fill="none" stroke="#ff1e1e" stroke-width="7.8" stroke-linejoin="round" stroke-linecap="round" clip-path="url(#c6)"/>
<polyline points="3336.2,153.2 3349.1,161 3357.4,178.9" fill="none" stroke="#fff" stroke-opacity=".2" stroke-width="2.3" stroke-linejoin="round" stroke-linecap="round" clip-path="url(#c6)"/>
<polyline points="3372.3,178.9 3376.4,174.5 3401.7,166.6" fill="none" stroke="#ff1e1e" stroke-width="7.8" stroke-linejoin="round" stroke-linecap="round" clip-path="url(#c6)"/>
<polyline points="3372.3,178.9 3376.4,174.5 3401.7,166.6" fill="none" stroke="#fff" stroke-opacity=".2" stroke-width="2.3" stroke-linejoin="round" stroke-linecap="round" clip-path="url(#c6)"/>
<polyline points="3086.8,41.5 3089.8,48.5" fill="none" stroke="#27e027" stroke-width="7.8" stroke-linejoin="round" stroke-linecap="round" clip-path="url(#c6)"/>
<polyline points="3086.8,41.5 3089.8,48.5" fill="none" stroke="#fff" stroke-opacity=".2" stroke-width="2.3" stroke-linejoin="round" stroke-linecap="round" clip-path="url(#c6)"/>
<polyline points="3100,71.6 3104.2,81.6" fill="none" stroke="#27e027" stroke-width="7.8" stroke-linejoin="round" stroke-linecap="round" clip-path="url(#c6)"/>
<polyline points="3100,71.6 3104.2,81.6" fill="none" stroke="#fff" stroke-opacity=".2" stroke-width="2.3" stroke-linejoin="round" stroke-linecap="round" clip-path="url(#c6)"/>
<polyline points="3133.8,79.4 3140,72.7" fill="none" stroke="#27e027" stroke-width="7.8" stroke-linejoin="round" stroke-linecap="round" clip-path="url(#c6)"/>
<polyline points="3133.8,79.4 3140,72.7" fill="none" stroke="#fff" stroke-opacity=".2" stroke-width="2.3" stroke-linejoin="round" stroke-linecap="round" clip-path="url(#c6)"/>
<polyline points="3157.7,89.5 3161.1,98.4" fill="none" stroke="#27e027" stroke-width="7.8" stroke-linejoin="round" stroke-linecap="round" clip-path="url(#c6)"/>
<polyline points="3157.7,89.5 3161.1,98.4" fill="none" stroke="#fff" stroke-opacity=".2" stroke-width="2.3" stroke-linejoin="round" stroke-linecap="round" clip-path="url(#c6)"/>
<polyline points="3181.1,118 3183.4,122" fill="none" stroke="#27e027" stroke-width="7.8" stroke-linejoin="round" stroke-linecap="round" clip-path="url(#c6)"/>
<polyline points="3181.1,118 3183.4,122" fill="none" stroke="#fff" stroke-opacity=".2" stroke-width="2.3" stroke-linejoin="round" stroke-linecap="round" clip-path="url(#c6)"/>
<polyline points="3204.7,111.8 3207.5,105.1" fill="none" stroke="#27e027" stroke-width="7.8" stroke-linejoin="round" stroke-linecap="round" clip-path="url(#c6)"/>
<polyline points="3204.7,111.8 3207.5,105.1" fill="none" stroke="#fff" stroke-opacity=".2" stroke-width="2.3" stroke-linejoin="round" stroke-linecap="round" clip-path="url(#c6)"/>
<polyline points="3232.8,114.1 3241.3,121.9" fill="none" stroke="#27e027" stroke-width="7.8" stroke-linejoin="round" stroke-linecap="round" clip-path="url(#c6)"/>
<polyline points="3232.8,114.1 3241.3,121.9" fill="none" stroke="#fff" stroke-opacity=".2" stroke-width="2.3" stroke-linejoin="round" stroke-linecap="round" clip-path="url(#c6)"/>
<polyline points="3267.2,139.5 3269.4,136" fill="none" stroke="#27e027" stroke-width="7.8" stroke-linejoin="round" stroke-linecap="round" clip-path="url(#c6)"/>
<polyline points="3267.2,139.5 3269.4,136" fill="none" stroke="#fff" stroke-opacity=".2" stroke-width="2.3" stroke-linejoin="round" stroke-linecap="round" clip-path="url(#c6)"/>
<polyline points="3280.4,172 3282.6,176" fill="none" stroke="#27e027" stroke-width="7.8" stroke-linejoin="round" stroke-linecap="round" clip-path="url(#c6)"/>
<polyline points="3280.4,172 3282.6,176" fill="none" stroke="#fff" stroke-opacity=".2" stroke-width="2.3" stroke-linejoin="round" stroke-linecap="round" clip-path="url(#c6)"/>
<polyline points="3313,167.8 3321.5,164.4" fill="none" stroke="#27e027" stroke-width="7.8" stroke-linejoin="round" stroke-linecap="round" clip-path="url(#c6)"/>
<polyline points="3313,167.8 3321.5,164.4" fill="none" stroke="#fff" stroke-opacity=".2" stroke-width="2.3" stroke-linejoin="round" stroke-linecap="round" clip-path="url(#c6)"/>
<polyline points="3353.2,228.1 3357.4,237.1" fill="none" stroke="#27e027" stroke-width="7.8" stroke-linejoin="round" stroke-linecap="round" clip-path="url(#c6)"/>
<polyline points="3353.2,228.1 3357.4,237.1" fill="none" stroke="#fff" stroke-opacity=".2" stroke-width="2.3" stroke-linejoin="round" stroke-linecap="round" clip-path="url(#c6)"/>
<polyline points="3363.4,250 3365.3,254 3367.2,249" fill="none" stroke="#27e027" stroke-width="7.8" stroke-linejoin="round" stroke-linecap="round" clip-path="url(#c6)"/>
<polyline points="3363.4,250 3365.3,254 3367.2,249" fill="none" stroke="#fff" stroke-opacity=".2" stroke-width="2.3" stroke-linejoin="round" stroke-linecap="round" clip-path="url(#c6)"/>
<polyline points="3393.2,225.9 3401.7,222.6" fill="none" stroke="#27e027" stroke-width="7.8" stroke-linejoin="round" stroke-linecap="round" clip-path="url(#c6)"/>
<polyline points="3393.2,225.9 3401.7,222.6" fill="none" stroke="#fff" stroke-opacity=".2" stroke-width="2.3" stroke-linejoin="round" stroke-linecap="round" clip-path="url(#c6)"/>
<polyline points="3057.7,47 3066,34 3074.7,28 3083,38 3087.4,44.7 3095.7,64.9" fill="none" stroke="#2626f0" stroke-width="7.8" stroke-linejoin="round" stroke-linecap="round" clip-path="url(#c6)"/>
<polyline points="3057.7,47 3066,34 3074.7,28 3083,38 3087.4,44.7 3095.7,64.9" fill="none" stroke="#fff" stroke-opacity=".2" stroke-width="2.3" stroke-linejoin="round" stroke-linecap="round" clip-path="url(#c6)"/>
<polyline points="3102.1,82.8 3108.5,96.2 3118.9,91.7 3133.8,89.5" fill="none" stroke="#2626f0" stroke-width="7.8" stroke-linejoin="round" stroke-linecap="round" clip-path="url(#c6)"/>
<polyline points="3102.1,82.8 3108.5,96.2 3118.9,91.7 3133.8,89.5" fill="none" stroke="#fff" stroke-opacity=".2" stroke-width="2.3" stroke-linejoin="round" stroke-linecap="round" clip-path="url(#c6)"/>
<polyline points="3150.6,79.4 3154.9,88.4" fill="none" stroke="#2626f0" stroke-width="7.8" stroke-linejoin="round" stroke-linecap="round" clip-path="url(#c6)"/>
<polyline points="3150.6,79.4 3154.9,88.4" fill="none" stroke="#fff" stroke-opacity=".2" stroke-width="2.3" stroke-linejoin="round" stroke-linecap="round" clip-path="url(#c6)"/>
<polyline points="3161.1,107.4 3171.7,123 3180.2,121.9 3185.7,129.7" fill="none" stroke="#2626f0" stroke-width="7.8" stroke-linejoin="round" stroke-linecap="round" clip-path="url(#c6)"/>
<polyline points="3161.1,107.4 3171.7,123 3180.2,121.9 3185.7,129.7" fill="none" stroke="#fff" stroke-opacity=".2" stroke-width="2.3" stroke-linejoin="round" stroke-linecap="round" clip-path="url(#c6)"/>
<polyline points="3199.1,127.5 3205.5,119.7" fill="none" stroke="#2626f0" stroke-width="7.8" stroke-linejoin="round" stroke-linecap="round" clip-path="url(#c6)"/>
<polyline points="3199.1,127.5 3205.5,119.7" fill="none" stroke="#fff" stroke-opacity=".2" stroke-width="2.3" stroke-linejoin="round" stroke-linecap="round" clip-path="url(#c6)"/>
<polyline points="3220.2,109.6 3232.8,123 3247.7,137.6" fill="none" stroke="#2626f0" stroke-width="7.8" stroke-linejoin="round" stroke-linecap="round" clip-path="url(#c6)"/>
<polyline points="3220.2,109.6 3232.8,123 3247.7,137.6" fill="none" stroke="#fff" stroke-opacity=".2" stroke-width="2.3" stroke-linejoin="round" stroke-linecap="round" clip-path="url(#c6)"/>
<polyline points="3264.5,143.2 3268.7,139.8 3275.1,161 3283.6,172.2 3298.3,176.7 3306.8,173.3" fill="none" stroke="#2626f0" stroke-width="7.8" stroke-linejoin="round" stroke-linecap="round" clip-path="url(#c6)"/>
<polyline points="3264.5,143.2 3268.7,139.8 3275.1,161 3283.6,172.2 3298.3,176.7 3306.8,173.3" fill="none" stroke="#fff" stroke-opacity=".2" stroke-width="2.3" stroke-linejoin="round" stroke-linecap="round" clip-path="url(#c6)"/>
<polyline points="3321.5,165.5 3330,172.2" fill="none" stroke="#2626f0" stroke-width="7.8" stroke-linejoin="round" stroke-linecap="round" clip-path="url(#c6)"/>
<polyline points="3321.5,165.5 3330,172.2" fill="none" stroke="#fff" stroke-opacity=".2" stroke-width="2.3" stroke-linejoin="round" stroke-linecap="round" clip-path="url(#c6)"/>
<polyline points="3334.2,190.1 3338.5,203.5 3349.1,210.3 3355.3,223.7" fill="none" stroke="#2626f0" stroke-width="7.8" stroke-linejoin="round" stroke-linecap="round" clip-path="url(#c6)"/>
<polyline points="3334.2,190.1 3338.5,203.5 3349.1,210.3 3355.3,223.7" fill="none" stroke="#fff" stroke-opacity=".2" stroke-width="2.3" stroke-linejoin="round" stroke-linecap="round" clip-path="url(#c6)"/>
<polyline points="3361.3,241.6 3365.5,252 3372.3,228.1 3376.4,223.7 3391.1,220.3 3401.7,215.8 3405.8,223.7 3413.2,256" fill="none" stroke="#2626f0" stroke-width="7.8" stroke-linejoin="round" stroke-linecap="round" clip-path="url(#c6)"/>
<polyline points="3361.3,241.6 3365.5,252 3372.3,228.1 3376.4,223.7 3391.1,220.3 3401.7,215.8 3405.8,223.7 3413.2,256" fill="none" stroke="#fff" stroke-opacity=".2" stroke-width="2.3" stroke-linejoin="round" stroke-linecap="round" clip-path="url(#c6)"/>
<path d="M3032.3 2.6H3425.5" stroke="#000" stroke-width="1.7" fill="none"/>
<path d="M3032.3 245.2H3425.5" stroke="#000" stroke-width="1.7" fill="none"/>
<path d="M3033.2 2.6V245.2" stroke="#000" stroke-width="1.9" fill="none"/>
<path d="M3424.5 2.6V245.2" stroke="#000" stroke-width="1.9" fill="none"/>
<path d="M3125.3 224.2V245.2" stroke="#000" stroke-width="2.3" fill="none"/>
<path d="M3125.3 2.6V23.6" stroke="#000" stroke-width="2.3" fill="none"/>
<path d="M3250.8 224.2V245.2" stroke="#000" stroke-width="2.3" fill="none"/>
<path d="M3250.8 2.6V23.6" stroke="#000" stroke-width="2.3" fill="none"/>
<path d="M3376.4 224.2V245.2" stroke="#000" stroke-width="2.3" fill="none"/>
<path d="M3376.4 2.6V23.6" stroke="#000" stroke-width="2.3" fill="none"/>
<path d="M3033.2 58.8H3054" stroke="#000" stroke-width="1.7" fill="none"/>
<path d="M3403.8 58.8H3424.5" stroke="#000" stroke-width="1.7" fill="none"/>
<path d="M3033.2 121.2H3054" stroke="#000" stroke-width="1.7" fill="none"/>
<path d="M3403.8 121.2H3424.5" stroke="#000" stroke-width="1.7" fill="none"/>
<path d="M3033.2 183.1H3054" stroke="#000" stroke-width="1.7" fill="none"/>
<path d="M3403.8 183.1H3424.5" stroke="#000" stroke-width="1.7" fill="none"/>
<clipPath id="c7"><rect x="2387.2" y="557.1" width="1039.2" height="484.5"/></clipPath>
<polyline points="2458.9,617.2 2465.7,622.7 2478.7,628.2 2486.4,640.6 2497.9,669.5 2504.7,648.9 2522.8,654.4 2543.6,670.9 2551.5,673.7 2569.6,686 2590.4,695.7 2598.3,702.6 2603.4,701.2 2615.5,694.3 2624.2,698.4 2634.5,703.9 2647.5,708.1 2655.5,723.2 2665.8,732.9 2673.6,745.3 2681.3,737 2689.2,738.4 2702.1,745.3 2710,746.6 2717.7,750.8 2730.8,748 2739.6,745.3 2751.5,750.8 2764.5,757.7 2772.3,772.8 2777.5,775.6 2784.3,794.8 2789.4,807.2 2797.4,788 2803.6,786.6 2811.3,789.3 2824.3,781.1 2834.7,781.1 2847.7,792.1 2868.5,805.9 2878.9,804.5 2889.2,815.5 2899.6,827.9 2920.4,812.7 2928.3,814.1 2936,816.9 2946.4,830.6 2959.4,843 2967.2,838.9 2980.2,852.7 2986.4,848.6 3000.9,858.2 3017,870 3037.4,882.4 3048.8,889.2 3057.4,900.7 3067.6,890.5 3077.3,879 3084.8,885.8 3090.1,887.1 3100.4,895.3 3108.9,900 3117.5,910.8 3126.1,916.3 3135.7,923.7 3145,917.6 3151.9,909.5 3158.7,898.7 3167.3,897.9 3174.2,905.4 3184.5,917.6 3193.1,928.4 3200,927.1 3206.9,931.1 3215.5,935.8 3222.3,940.5 3229.2,933.8 3239.5,924.4 3244.7,927.1 3251.6,931.8 3260.2,933.1 3270.5,940.5 3279.1,946 3285.8,948.7 3294.4,960.9 3303,971.7 3309.9,975.1 3315.1,970.3 3322.1,969 3330.5,971.7 3340.9,975.7 3347.7,981.2 3353.5,985.2 3359.8,978.4 3366.6,983.9 3377,985.9 3387.3,986.5 3397.6,989.9 3406.2,990.7" fill="none" stroke="#3d3d3d" stroke-width="6.1" stroke-linejoin="round" stroke-linecap="round" clip-path="url(#c7)"/>
<polyline points="2457.8,618.6 2464.6,624.1 2477.6,629.6 2485.4,642 2496.9,670.9 2503.7,650.3 2521.8,655.8 2542.5,672.3 2550.5,675.1 2568.6,687.4 2589.3,697.1 2597.3,704 2602.4,702.6 2614.4,695.7 2623.1,699.8 2633.5,705.3 2646.5,709.5 2654.4,724.6 2664.8,734.3 2672.5,746.7 2680.3,738.4 2688.2,739.8 2701,746.7 2709,748 2716.7,752.2 2729.7,749.4 2738.6,746.7 2750.5,752.2 2763.5,759.1 2771.2,774.2 2776.5,777 2783.3,796.2 2788.4,808.6 2796.3,789.4 2802.5,788 2810.3,790.7 2823.3,782.5 2833.7,782.5 2846.7,793.5 2867.5,807.3 2877.8,805.9 2888.2,816.9 2898.6,829.3 2919.3,814.1 2927.3,815.5 2935,818.3 2945.4,832 2958.4,844.4 2966.1,840.3 2979.2,854.1 2985.4,850 2999.9,859.6 3015.9,871.4 3036.4,883.8 3047.7,890.6 3056.3,902.1 3066.6,891.9 3076.3,880.4 3083.8,887.2 3089,888.5 3099.3,896.7 3107.9,901.4 3116.5,912.2 3125.1,917.7 3134.6,925.1 3144,919 3150.9,910.9 3157.7,900.1 3166.3,899.3 3173.2,906.8 3183.4,919 3192,929.8 3199,928.5 3205.9,932.5 3214.5,937.2 3221.2,941.9 3228.1,935.2 3238.4,925.8 3243.6,928.5 3250.5,933.2 3259.1,934.5 3269.4,941.9 3278,947.4 3284.8,950.1 3293.4,962.3 3302,973.1 3308.9,976.5 3314.1,971.7 3321,970.4 3329.5,973.1 3339.9,977.1 3346.7,982.6 3352.5,986.6 3358.8,979.8 3365.5,985.3 3376,987.3 3386.3,987.9 3396.6,991.3 3405.1,992.1" fill="none" stroke="#fff" stroke-opacity=".9" stroke-width="0.75" stroke-linejoin="round" clip-path="url(#c7)"/>
<polyline points="3037.4,881.8 3048.8,888.6 3057.4,900.1 3067.6,892.3 3077.3,878.4 3084.8,885.2 3090.1,886.5 3100.4,894.7 3108.9,899.4 3117.5,910.2 3126.1,918.1 3135.7,923.1 3145,917 3151.9,908.9 3158.7,898.1 3167.3,897.3 3174.2,904.8 3184.5,919.4 3193.1,927.8 3200,926.5 3206.9,930.5 3215.5,935.2 3222.3,939.9 3229.2,933.2 3239.5,926.2 3244.7,926.5 3251.6,931.2 3260.2,932.5 3270.5,939.9 3279.1,945.4 3285.8,948.1 3294.4,962.7 3303,971.1 3309.9,974.5 3315.1,969.7 3322.1,968.4 3330.5,971.1 3340.9,975.1 3347.7,983 3353.5,984.6 3359.8,973 3366.6,983.3 3377,985.3 3387.3,985.9 3397.6,989.3 3406.2,992.5" fill="none" stroke="#ff1e1e" stroke-width="7.8" stroke-linejoin="round" stroke-linecap="round" stroke-dasharray="23 29" stroke-dashoffset="0" clip-path="url(#c7)"/>
<polyline points="3037.4,881.8 3048.8,888.6 3057.4,900.1 3067.6,892.3 3077.3,878.4 3084.8,885.2 3090.1,886.5 3100.4,894.7 3108.9,899.4 3117.5,910.2 3126.1,918.1 3135.7,923.1 3145,917 3151.9,908.9 3158.7,898.1 3167.3,897.3 3174.2,904.8 3184.5,919.4 3193.1,927.8 3200,926.5 3206.9,930.5 3215.5,935.2 3222.3,939.9 3229.2,933.2 3239.5,926.2 3244.7,926.5 3251.6,931.2 3260.2,932.5 3270.5,939.9 3279.1,945.4 3285.8,948.1 3294.4,962.7 3303,971.1 3309.9,974.5 3315.1,969.7 3322.1,968.4 3330.5,971.1 3340.9,975.1 3347.7,983 3353.5,984.6 3359.8,973 3366.6,983.3 3377,985.3 3387.3,985.9 3397.6,989.3 3406.2,992.5" fill="none" stroke="#fff" stroke-opacity=".2" stroke-width="2.3" stroke-linejoin="round" stroke-linecap="round" stroke-dasharray="23 29" stroke-dashoffset="0" clip-path="url(#c7)"/>
<polyline points="3038.2,881.5 3049.5,888.3 3058.1,899.7 3068.4,889.6 3078.1,878.1 3085.6,884.8 3090.8,886.2 3101.1,894.3 3109.7,899 3118.3,909.8 3126.9,915.2 3136.4,922.6 3145.8,916.4 3152.7,908.3 3159.5,897.5 3168.1,896.7 3175,904.1 3185.3,916.2 3193.9,927 3200.8,925.6 3207.7,929.6 3216.3,934.2 3223,938.9 3229.9,932.1 3240.2,922.5 3245.4,925.2 3252.3,929.8 3260.9,931.1 3271.2,938.4 3279.8,943.8 3286.6,946.4 3295.2,958.4 3303.8,969.2 3310.7,972.4 3315.9,963.4 3322.8,961.9 3331.3,964.5 3341.7,968.4 3348.5,973.8 3354.3,977.7 3360.6,970.8 3367.3,980.3 3377.8,982.2 3388.1,982.7 3398.4,986 3407,986.6" fill="none" stroke="#27e027" stroke-width="7.8" stroke-linejoin="round" stroke-linecap="round" stroke-dasharray="4 37" stroke-dashoffset="0" clip-path="url(#c7)"/>
<polyline points="3038.2,881.5 3049.5,888.3 3058.1,899.7 3068.4,889.6 3078.1,878.1 3085.6,884.8 3090.8,886.2 3101.1,894.3 3109.7,899 3118.3,909.8 3126.9,915.2 3136.4,922.6 3145.8,916.4 3152.7,908.3 3159.5,897.5 3168.1,896.7 3175,904.1 3185.3,916.2 3193.9,927 3200.8,925.6 3207.7,929.6 3216.3,934.2 3223,938.9 3229.9,932.1 3240.2,922.5 3245.4,925.2 3252.3,929.8 3260.9,931.1 3271.2,938.4 3279.8,943.8 3286.6,946.4 3295.2,958.4 3303.8,969.2 3310.7,972.4 3315.9,963.4 3322.8,961.9 3331.3,964.5 3341.7,968.4 3348.5,973.8 3354.3,977.7 3360.6,970.8 3367.3,980.3 3377.8,982.2 3388.1,982.7 3398.4,986 3407,986.6" fill="none" stroke="#fff" stroke-opacity=".2" stroke-width="2.3" stroke-linejoin="round" stroke-linecap="round" stroke-dasharray="4 37" stroke-dashoffset="0" clip-path="url(#c7)"/>
<polyline points="3036.6,883.1 3048,889.9 3056.6,901.5 3066.9,891.3 3076.6,879.9 3084.1,886.7 3089.3,888.1 3099.6,896.3 3108.2,901 3116.8,911.9 3125.4,917.4 3134.9,924.8 3144.3,918.8 3151.2,910.7 3157.9,899.9 3166.5,899.3 3173.4,906.8 3183.7,919 3192.3,929.8 3199.2,928.5 3206.1,932.6 3214.7,937.4 3221.5,942.1 3228.4,935.5 3238.7,926 3243.9,928.8 3250.8,933.5 3259.4,934.9 3269.7,942.4 3278.3,947.9 3285.1,950.6 3293.6,962.8 3302.2,973.7 3309.2,977.1 3314.4,972.4 3321.3,971.1 3329.7,973.8 3340.2,977.9 3346.9,983.4 3352.8,987.5 3359.1,980.7 3365.8,986.2 3376.2,988.3 3386.5,989 3396.8,992.4 3405.4,993.2" fill="none" stroke="#2626f0" stroke-width="7.8" stroke-linejoin="round" stroke-linecap="round" stroke-dasharray="33 15 6 15" stroke-dashoffset="0" clip-path="url(#c7)"/>
<polyline points="3036.6,883.1 3048,889.9 3056.6,901.5 3066.9,891.3 3076.6,879.9 3084.1,886.7 3089.3,888.1 3099.6,896.3 3108.2,901 3116.8,911.9 3125.4,917.4 3134.9,924.8 3144.3,918.8 3151.2,910.7 3157.9,899.9 3166.5,899.3 3173.4,906.8 3183.7,919 3192.3,929.8 3199.2,928.5 3206.1,932.6 3214.7,937.4 3221.5,942.1 3228.4,935.5 3238.7,926 3243.9,928.8 3250.8,933.5 3259.4,934.9 3269.7,942.4 3278.3,947.9 3285.1,950.6 3293.6,962.8 3302.2,973.7 3309.2,977.1 3314.4,972.4 3321.3,971.1 3329.7,973.8 3340.2,977.9 3346.9,983.4 3352.8,987.5 3359.1,980.7 3365.8,986.2 3376.2,988.3 3386.5,989 3396.8,992.4 3405.4,993.2" fill="none" stroke="#fff" stroke-opacity=".2" stroke-width="2.3" stroke-linejoin="round" stroke-linecap="round" stroke-dasharray="33 15 6 15" stroke-dashoffset="0" clip-path="url(#c7)"/>
<path d="M2386.2 557.1H3427.4" stroke="#000" stroke-width="1.7" fill="none"/>
<path d="M2386.2 1041.6H3427.4" stroke="#000" stroke-width="1.7" fill="none"/>
<path d="M2387.2 557.1V1041.6" stroke="#000" stroke-width="1.9" fill="none"/>
<path d="M3426.4 557.1V1041.6" stroke="#aaa" stroke-width="1.9" fill="none"/>
<path d="M2452.8 1020.6V1041.6" stroke="#000" stroke-width="2.3" fill="none"/>
<path d="M2582.6 1020.6V1041.6" stroke="#000" stroke-width="2.3" fill="none"/>
<path d="M2712.5 1020.6V1041.6" stroke="#000" stroke-width="2.3" fill="none"/>
<path d="M2842.3 1020.6V1041.6" stroke="#000" stroke-width="2.3" fill="none"/>
<path d="M2972.1 1020.6V1041.6" stroke="#000" stroke-width="2.3" fill="none"/>
<path d="M3101.9 1020.6V1041.6" stroke="#000" stroke-width="2.3" fill="none"/>
<path d="M3231.7 1020.6V1041.6" stroke="#000" stroke-width="2.3" fill="none"/>
<path d="M3361.5 1020.6V1041.6" stroke="#000" stroke-width="2.3" fill="none"/>
<path d="M2387.2 617.4H2408.9" stroke="#000" stroke-width="1.7" fill="none"/>
<path d="M2387.2 738.7H2408.9" stroke="#000" stroke-width="1.7" fill="none"/>
<path d="M2387.2 859.6H2408.9" stroke="#000" stroke-width="1.7" fill="none"/>
<path d="M2387.2 980.5H2408.9" stroke="#000" stroke-width="1.7" fill="none"/>
<path d="M2945.3 559.8H3423.6" stroke="#000" stroke-width="1.7" fill="none"/>
<path d="M2945.3 798H3423.6" stroke="#000" stroke-width="1.7" fill="none"/>
<path d="M2946.2 559.8V798" stroke="#000" stroke-width="1.9" fill="none"/>
<path d="M3422.6 559.8V798" stroke="#000" stroke-width="1.9" fill="none"/>
<clipPath id="c8"><rect x="2947.7" y="559.8" width="473.4" height="238.2"/></clipPath>
<polyline points="2946.4,585.8 2960.4,597 2970.9,616 2983.6,599.2 2995.5,580.2 3004.7,591.4 3011.1,593.6 3023.8,607.1 3034.3,614.9 3044.9,632.8 3055.5,641.8 3067.2,654.1 3078.7,644 3087.2,630.6 3095.5,612.7 3106,611.5 3114.5,623.9 3127.2,644 3137.7,661.9 3146.2,659.7 3154.7,666.4 3165.3,674.2 3173.6,682 3182.1,670.9 3194.7,655.2 3201.1,659.7 3209.6,667.5 3220.2,669.7 3232.8,682 3243.4,691 3251.7,695.5 3262.3,715.6 3272.8,733.5 3281.3,739.1 3287.7,731.3 3296.2,729 3306.6,733.5 3319.4,740.2 3327.7,749.2 3334.9,755.9 3342.6,744.7 3350.9,753.7 3363.8,757 3376.4,758.1 3389.1,763.7 3399.6,764.9" fill="none" stroke="#3d3d3d" stroke-width="6.1" stroke-linejoin="round" stroke-linecap="round" clip-path="url(#c8)"/>
<polyline points="2945.4,587.2 2959.3,598.4 2969.9,617.4 2982.5,600.6 2994.4,581.6 3003.7,592.8 3010.1,595 3022.7,608.5 3033.3,616.3 3043.9,634.2 3054.4,643.2 3066.1,655.5 3077.6,645.4 3086.1,632 3094.4,614.1 3105,612.9 3113.5,625.3 3126.1,645.4 3136.7,663.3 3145.2,661.1 3153.7,667.8 3164.2,675.6 3172.5,683.4 3181,672.3 3193.7,656.6 3200.1,661.1 3208.6,668.9 3219.2,671.1 3231.8,683.4 3242.4,692.4 3250.7,696.9 3261.2,717 3271.8,734.9 3280.3,740.5 3286.7,732.7 3295.2,730.4 3305.6,734.9 3318.4,741.6 3326.7,750.6 3333.9,757.3 3341.6,746.1 3349.9,755.1 3362.7,758.4 3375.4,759.5 3388,765.1 3398.6,766.3" fill="none" stroke="#fff" stroke-opacity=".9" stroke-width="0.75" stroke-linejoin="round" clip-path="url(#c8)"/>
<polyline points="2946.4,584.8 2960.4,596 2970.9,615 2983.6,602.2 2995.5,579.2 3004.7,590.4 3011.1,592.6 3023.8,606.1 3034.3,613.9 3044.9,631.8 3055.5,644.8 3067.2,653.1 3078.7,643 3087.2,629.6 3095.5,611.7 3106,610.5 3114.5,622.9 3127.2,647 3137.7,660.9 3146.2,658.7 3154.7,665.4 3165.3,673.2 3173.6,681 3182.1,669.9 3194.7,658.2 3201.1,658.7 3209.6,666.5 3220.2,668.7 3232.8,681 3243.4,690 3251.7,694.5 3262.3,718.6 3272.8,732.5 3281.3,738.1 3287.7,730.3 3296.2,728 3306.6,732.5 3319.4,739.2 3327.7,752.2 3334.9,754.9 3342.6,735.7 3350.9,752.7 3363.8,756 3376.4,757.1 3389.1,762.7 3399.6,767.9" fill="none" stroke="#ff1e1e" stroke-width="7.8" stroke-linejoin="round" stroke-linecap="round" stroke-dasharray="23 29" stroke-dashoffset="0" clip-path="url(#c8)"/>
<polyline points="2946.4,584.8 2960.4,596 2970.9,615 2983.6,602.2 2995.5,579.2 3004.7,590.4 3011.1,592.6 3023.8,606.1 3034.3,613.9 3044.9,631.8 3055.5,644.8 3067.2,653.1 3078.7,643 3087.2,629.6 3095.5,611.7 3106,610.5 3114.5,622.9 3127.2,647 3137.7,660.9 3146.2,658.7 3154.7,665.4 3165.3,673.2 3173.6,681 3182.1,669.9 3194.7,658.2 3201.1,658.7 3209.6,666.5 3220.2,668.7 3232.8,681 3243.4,690 3251.7,694.5 3262.3,718.6 3272.8,732.5 3281.3,738.1 3287.7,730.3 3296.2,728 3306.6,732.5 3319.4,739.2 3327.7,752.2 3334.9,754.9 3342.6,735.7 3350.9,752.7 3363.8,756 3376.4,757.1 3389.1,762.7 3399.6,767.9" fill="none" stroke="#fff" stroke-opacity=".2" stroke-width="2.3" stroke-linejoin="round" stroke-linecap="round" stroke-dasharray="23 29" stroke-dashoffset="0" clip-path="url(#c8)"/>
<polyline points="2947.4,584.3 2961.3,595.5 2971.9,614.5 2984.5,597.7 2996.4,578.7 3005.7,589.8 3012.1,592 3024.7,605.5 3035.3,613.2 3045.8,631.1 3056.4,640 3068.1,652.3 3079.6,642.1 3088.1,628.7 3096.4,610.7 3107,609.4 3115.5,621.7 3128.1,641.7 3138.7,659.6 3147.2,657.3 3155.7,663.9 3166.2,671.6 3174.5,679.2 3183,668 3195.7,652.2 3202.1,656.6 3210.6,664.2 3221.1,666.3 3233.8,678.5 3244.3,687.3 3252.6,691.7 3263.2,711.6 3273.8,729.3 3282.3,734.8 3288.7,719.8 3297.2,717.3 3307.5,721.6 3320.4,728.1 3328.7,736.9 3335.8,743.4 3343.6,732 3351.9,747.8 3364.7,750.9 3377.4,751.8 3390,757.2 3400.6,758.1" fill="none" stroke="#27e027" stroke-width="7.8" stroke-linejoin="round" stroke-linecap="round" stroke-dasharray="4 37" stroke-dashoffset="0" clip-path="url(#c8)"/>
<polyline points="2947.4,584.3 2961.3,595.5 2971.9,614.5 2984.5,597.7 2996.4,578.7 3005.7,589.8 3012.1,592 3024.7,605.5 3035.3,613.2 3045.8,631.1 3056.4,640 3068.1,652.3 3079.6,642.1 3088.1,628.7 3096.4,610.7 3107,609.4 3115.5,621.7 3128.1,641.7 3138.7,659.6 3147.2,657.3 3155.7,663.9 3166.2,671.6 3174.5,679.2 3183,668 3195.7,652.2 3202.1,656.6 3210.6,664.2 3221.1,666.3 3233.8,678.5 3244.3,687.3 3252.6,691.7 3263.2,711.6 3273.8,729.3 3282.3,734.8 3288.7,719.8 3297.2,717.3 3307.5,721.6 3320.4,728.1 3328.7,736.9 3335.8,743.4 3343.6,732 3351.9,747.8 3364.7,750.9 3377.4,751.8 3390,757.2 3400.6,758.1" fill="none" stroke="#fff" stroke-opacity=".2" stroke-width="2.3" stroke-linejoin="round" stroke-linecap="round" stroke-dasharray="4 37" stroke-dashoffset="0" clip-path="url(#c8)"/>
<polyline points="2945.5,587 2959.4,598.3 2970,617.3 2982.6,600.6 2994.5,581.7 3003.8,592.9 3010.2,595.2 3022.8,608.8 3033.4,616.6 3044,634.6 3054.5,643.7 3066.2,656 3077.7,646 3086.2,632.6 3094.5,614.8 3105.1,613.7 3113.6,626.1 3126.2,646.3 3136.8,664.3 3145.3,662.1 3153.8,668.9 3164.3,676.8 3172.6,684.6 3181.1,673.6 3193.8,658 3200.2,662.5 3208.7,670.4 3219.2,672.7 3231.9,685 3242.5,694.1 3250.8,698.7 3261.3,718.8 3271.9,736.8 3280.4,742.5 3286.8,734.7 3295.3,732.5 3305.7,737 3318.5,743.8 3326.8,752.9 3334,759.6 3341.7,748.5 3350,757.6 3362.8,760.9 3375.5,762.1 3388.1,767.8 3398.7,769" fill="none" stroke="#2626f0" stroke-width="7.8" stroke-linejoin="round" stroke-linecap="round" stroke-dasharray="33 15 6 15" stroke-dashoffset="0" clip-path="url(#c8)"/>
<polyline points="2945.5,587 2959.4,598.3 2970,617.3 2982.6,600.6 2994.5,581.7 3003.8,592.9 3010.2,595.2 3022.8,608.8 3033.4,616.6 3044,634.6 3054.5,643.7 3066.2,656 3077.7,646 3086.2,632.6 3094.5,614.8 3105.1,613.7 3113.6,626.1 3126.2,646.3 3136.8,664.3 3145.3,662.1 3153.8,668.9 3164.3,676.8 3172.6,684.6 3181.1,673.6 3193.8,658 3200.2,662.5 3208.7,670.4 3219.2,672.7 3231.9,685 3242.5,694.1 3250.8,698.7 3261.3,718.8 3271.9,736.8 3280.4,742.5 3286.8,734.7 3295.3,732.5 3305.7,737 3318.5,743.8 3326.8,752.9 3334,759.6 3341.7,748.5 3350,757.6 3362.8,760.9 3375.5,762.1 3388.1,767.8 3398.7,769" fill="none" stroke="#fff" stroke-opacity=".2" stroke-width="2.3" stroke-linejoin="round" stroke-linecap="round" stroke-dasharray="33 15 6 15" stroke-dashoffset="0" clip-path="url(#c8)"/>
<path d="M2945.3 559.8H3423.6" stroke="#000" stroke-width="1.7" fill="none"/>
<path d="M2945.3 798H3423.6" stroke="#000" stroke-width="1.7" fill="none"/>
<path d="M2946.2 559.8V798" stroke="#000" stroke-width="1.9" fill="none"/>
<path d="M3422.6 559.8V798" stroke="#000" stroke-width="1.9" fill="none"/>
<path d="M3025.7 777V798" stroke="#000" stroke-width="2.3" fill="none"/>
<path d="M3025.7 559.8V580.8" stroke="#000" stroke-width="2.3" fill="none"/>
<path d="M3185.7 777V798" stroke="#000" stroke-width="2.3" fill="none"/>
<path d="M3185.7 559.8V580.8" stroke="#000" stroke-width="2.3" fill="none"/>
<path d="M3344.7 777V798" stroke="#000" stroke-width="2.3" fill="none"/>
<path d="M3344.7 559.8V580.8" stroke="#000" stroke-width="2.3" fill="none"/>
<path d="M2946.2 648H2967" stroke="#000" stroke-width="1.7" fill="none"/>
<path d="M3401.9 648H3422.6" stroke="#000" stroke-width="1.7" fill="none"/>
<path d="M2946.2 748H2967" stroke="#000" stroke-width="1.7" fill="none"/>
<path d="M3401.9 748H3422.6" stroke="#000" stroke-width="1.7" fill="none"/>
<clipPath id="c9"><rect x="1244.3" y="1" width="1037.9" height="485"/></clipPath>
<polyline points="1332.3,48.2 1333,41.1 1337.7,35.8 1338.5,36.1 1339.9,35.3 1342.1,35.4 1344.9,34.7 1348.7,34.1 1353.4,34.3 1356.2,33.8 1358.9,34.1 1362.2,33.8 1365.4,33.9 1368.8,34.3 1372.3,34.8 1375.9,34.2 1379.6,34.5 1382.1,35 1384.7,35.5 1387.3,35.3 1390,35.3 1392.7,36 1395.4,35.3 1397.9,36.3 1400.5,35.9 1403,36 1405.5,36.2 1408.6,36.7 1411.6,37.5 1414.7,37.1 1417.7,37.8 1420.6,38.2 1423.4,38.2 1426.3,38.7 1429.1,38.5 1432,38.8 1434.7,39.3 1437.4,40.1 1440.1,40.1 1442.8,40.3 1445.5,40.9 1448.2,41.1 1450.9,41.3 1453.7,42.1 1456.4,42.3 1459.1,42.2 1461.8,42.9 1464.5,43.1 1467.2,43.8 1469.9,44 1472.6,44 1475.3,45 1478,44.5 1480.7,45.1 1483.4,45.8 1486.2,45.6 1488.9,46.3 1491.6,46.3 1494.3,47.3 1497,47.7 1499.7,47.9 1502.4,48.6 1505.1,48.5 1507.8,49.2 1510.5,49.5 1513.2,49.9 1515.9,50.2 1518.6,51 1521.3,51.5 1524,51.4 1526.7,52 1529.4,51.8 1532.1,52.9 1534.8,53.2 1537.5,54 1540.3,54.2 1543,54.1 1545.7,54.6 1548.4,55.3 1551.1,55.1 1553.8,56 1556.5,56.1 1559.2,56.5 1561.9,56.8 1564.6,58 1567.3,57.8 1570,58.3 1572.7,58.9 1575.4,59.8 1578.1,59.4 1580.8,60.2 1583.5,60.8 1586.2,61.5 1588.9,61.9 1591.6,62.4 1594.3,62.2 1597,62.8 1599.7,63.2 1602.5,64.2 1605.2,64.7 1607.9,64.4 1610.6,64.8 1613.3,65.3 1616,65.8 1618.7,66.5 1621.4,67.1 1624.1,67.2 1626.8,67.4 1629.5,68.3 1632.2,68.7 1634.9,69.4 1637.6,70.2 1640.3,70.4 1643,70.7 1645.7,71.3 1648.4,71.8 1651.1,71.7 1653.8,73 1656.6,73.4 1659.3,74 1662,74.4 1664.7,74.5 1667.4,75 1670.1,75.2 1672.8,76.3 1675.5,76.2 1678.2,76.7 1680.9,77.4 1683.6,77.8 1686.3,78.5 1689.1,78.8 1691.8,79.2 1694.5,79.9 1697.2,80.4 1699.9,81.2 1702.6,81.4 1705.3,82.8 1708,83.1 1710.9,83.2 1713.8,83.9 1716.6,84.6 1719.5,85.2 1722.3,85.5 1725.2,86.9 1727.7,87.6 1730.3,87.6 1732.9,88.2 1735.5,88.3 1738,88.9 1740.6,89.7 1743.2,90.2 1745.9,91.3 1748.6,91.2 1751.3,91.7 1753.9,93.2 1756.6,93.4 1759.3,93.6 1762,94.6 1764.5,94.7 1767,95.7 1769.4,96.8 1771.9,97.2 1774.4,97.6 1776.8,97.7 1779.3,98.4 1781.7,98.8 1784.4,100 1787,100.3 1789.7,101.2 1792.3,101.3 1794.9,101.8 1797.6,103 1800.2,103.8 1802.7,104.2 1805.1,104.7 1807.6,105.2 1810.1,105.7 1812.5,105.7 1815,106.5 1817.4,106.9 1820.1,107.2 1822.8,107.7 1825.4,108.5 1828.1,109.1 1830.7,110.1 1833.4,110.9 1835.8,110.9 1838.3,111.9 1840.8,112.5 1843.2,113 1845.7,112.9 1848.1,113.2 1851,113.9 1853.9,114.6 1856.8,115.2 1859.7,116.3 1862.5,117.3 1865.4,117.9 1868.2,118.3 1871,119.2 1873.9,120.1 1876.7,120.1 1879.5,121.5 1882.2,122.5 1885,123.1 1887.8,123.9 1890.6,124.4 1893.3,125 1896,126.4 1898.7,126.8 1901.4,128.1 1904.2,129.1 1906.8,129.4 1909.4,130.3 1912,131.7 1914.6,132.4 1917.2,132.7 1919.7,133.6 1922.2,134.5 1924.7,136.2 1927.2,137 1929.7,137.2 1932.7,139.1 1935.7,140.4 1938.7,141.2 1941.7,142.1 1944.6,143.5 1947.5,144.3 1950.3,145.4 1953.2,147.5 1955.9,148.4 1958.7,149.5 1961.5,151.1 1964.2,151.8 1966.9,153.4 1969.5,154.6 1972.2,155.1 1974.8,156.4 1977.4,157.6 1979.9,158.7 1982.5,160.2 1985,161.1 1988.3,162.8 1991.5,164.1 1994.8,166.4 1997.9,167.4 2001.1,169.1 2004.2,170.8 2007.2,172.7 2010.3,173.9 2013.3,176 2016.2,177.2 2019.1,178.8 2022,180.4 2024.8,181.6 2027.6,183.7 2030.4,185.1 2033.1,186.6 2035.9,189.1 2038.6,190.2 2041.2,192.3 2043.9,194.4 2046.5,196 2049.1,197.6 2051.6,199.7 2054.2,201.6 2056.7,203.8 2059.2,205 2061.7,207.4 2064.4,209.6 2067.1,212.1 2069.8,215 2072.7,217.7 2075.7,220.8 2078.6,223.9 2081.8,227.6 2084.9,230.6 2088.1,234.3 2090.7,237.2 2093.2,240.2 2095.8,243.4 2098.3,246.2 2100.8,249.2 2103.3,252.1 2105.7,255.5 2108.2,258.2 2111.4,262.2 2114.7,266.1 2117.9,269.2 2121,273.2 2124.1,277.3 2127.2,280.9 2130.3,283.8 2133.3,287.4 2136.3,291.4 2139.4,294.7 2142.4,298.5 2145.4,302 2148.5,306.3 2151.5,310.1 2154.6,314 2157.6,317 2160.6,321.3 2163.7,325 2166.7,328.3 2169.7,332.9 2172.8,336.8 2175.6,339.7 2178.3,344 2181.1,347.1 2183.7,350.6 2186.3,354.5 2188.8,357.8 2192.3,362 2195.8,367.1 2198.9,371.8 2202,376.2 2204.8,380.1 2207.7,384.3 2210.2,388.3 2212.8,391.2 2217.3,398 2221.3,403.3 2224.5,407.3 2226.7,411.2 2228.1,414.2 2228.5,415.9 2228.9,416.8 2229.1,418.6 2229.2,418.9" fill="none" stroke="#3d3d3d" stroke-width="6.1" stroke-linejoin="round" stroke-linecap="round" clip-path="url(#c9)"/>
<polyline points="1331.2,49.6 1332,42.5 1336.7,37.2 1337.4,37.5 1338.9,36.7 1341,36.8 1343.9,36.1 1347.7,35.5 1352.3,35.7 1355.1,35.2 1357.9,35.5 1361.1,35.2 1364.4,35.3 1367.8,35.7 1371.2,36.2 1374.9,35.6 1378.5,35.9 1381.1,36.4 1383.7,36.9 1386.2,36.7 1388.9,36.7 1391.6,37.4 1394.3,36.7 1396.9,37.7 1399.4,37.3 1402,37.4 1404.5,37.6 1407.5,38.1 1410.6,38.9 1413.6,38.5 1416.7,39.2 1419.5,39.6 1422.4,39.6 1425.2,40.1 1428.1,39.9 1430.9,40.2 1433.6,40.7 1436.3,41.5 1439.1,41.5 1441.8,41.7 1444.5,42.3 1447.2,42.5 1449.9,42.7 1452.6,43.5 1455.3,43.7 1458,43.6 1460.7,44.3 1463.5,44.5 1466.2,45.2 1468.9,45.4 1471.6,45.4 1474.3,46.4 1477,45.9 1479.7,46.5 1482.4,47.2 1485.1,47 1487.8,47.7 1490.5,47.7 1493.2,48.7 1495.9,49.1 1498.6,49.3 1501.4,50 1504.1,49.9 1506.8,50.6 1509.5,50.9 1512.2,51.3 1514.9,51.6 1517.6,52.4 1520.3,52.9 1523,52.8 1525.7,53.4 1528.4,53.2 1531.1,54.3 1533.8,54.6 1536.5,55.4 1539.2,55.6 1541.9,55.5 1544.6,56 1547.3,56.7 1550,56.5 1552.7,57.4 1555.4,57.5 1558.1,57.9 1560.8,58.2 1563.6,59.4 1566.3,59.2 1569,59.7 1571.7,60.3 1574.4,61.2 1577.1,60.8 1579.8,61.6 1582.5,62.2 1585.2,62.9 1587.9,63.3 1590.6,63.8 1593.3,63.6 1596,64.2 1598.7,64.6 1601.4,65.6 1604.1,66.1 1606.8,65.8 1609.5,66.2 1612.2,66.7 1614.9,67.2 1617.6,67.9 1620.3,68.5 1623.1,68.6 1625.8,68.8 1628.5,69.7 1631.2,70.1 1633.9,70.8 1636.6,71.6 1639.3,71.8 1642,72.1 1644.7,72.7 1647.4,73.2 1650.1,73.1 1652.8,74.4 1655.5,74.8 1658.2,75.4 1660.9,75.8 1663.6,75.9 1666.3,76.4 1669.1,76.6 1671.8,77.7 1674.5,77.6 1677.2,78.1 1679.9,78.8 1682.6,79.2 1685.3,79.9 1688,80.2 1690.7,80.6 1693.4,81.3 1696.2,81.8 1698.9,82.6 1701.6,82.8 1704.3,84.2 1707,84.5 1709.9,84.6 1712.7,85.3 1715.6,86 1718.4,86.6 1721.3,86.9 1724.1,88.3 1726.7,89 1729.3,89 1731.9,89.6 1734.4,89.7 1737,90.3 1739.6,91.1 1742.1,91.6 1744.8,92.7 1747.5,92.6 1750.2,93.1 1752.9,94.6 1755.6,94.8 1758.3,95 1761,96 1763.5,96.1 1765.9,97.1 1768.4,98.2 1770.8,98.6 1773.3,99 1775.8,99.1 1778.2,99.8 1780.7,100.2 1783.3,101.4 1786,101.7 1788.6,102.6 1791.3,102.7 1793.9,103.2 1796.5,104.4 1799.2,105.2 1801.6,105.6 1804.1,106.1 1806.6,106.6 1809,107.1 1811.5,107.1 1813.9,107.9 1816.4,108.3 1819.1,108.6 1821.7,109.1 1824.4,109.9 1827,110.5 1829.7,111.5 1832.4,112.3 1834.8,112.3 1837.3,113.3 1839.7,113.9 1842.2,114.4 1844.6,114.3 1847.1,114.6 1850,115.3 1852.8,116 1855.7,116.6 1858.6,117.7 1861.5,118.7 1864.3,119.3 1867.2,119.7 1870,120.6 1872.8,121.5 1875.7,121.5 1878.4,122.9 1881.2,123.9 1884,124.5 1886.8,125.3 1889.5,125.8 1892.2,126.4 1895,127.8 1897.7,128.2 1900.4,129.5 1903.1,130.5 1905.7,130.8 1908.3,131.7 1910.9,133.1 1913.6,133.8 1916.2,134.1 1918.7,135 1921.2,135.9 1923.7,137.6 1926.2,138.4 1928.7,138.6 1931.7,140.5 1934.7,141.8 1937.7,142.6 1940.7,143.5 1943.5,144.9 1946.4,145.7 1949.3,146.8 1952.1,148.9 1954.9,149.8 1957.7,150.9 1960.4,152.5 1963.2,153.2 1965.8,154.8 1968.5,156 1971.1,156.5 1973.8,157.8 1976.3,159 1978.9,160.1 1981.4,161.6 1984,162.5 1987.2,164.2 1990.5,165.5 1993.8,167.8 1996.9,168.8 2000,170.5 2003.2,172.2 2006.2,174.1 2009.2,175.3 2012.3,177.4 2015.2,178.6 2018.1,180.2 2021,181.8 2023.8,183 2026.6,185.1 2029.4,186.5 2032.1,188 2034.8,190.5 2037.5,191.6 2040.2,193.7 2042.8,195.8 2045.5,197.4 2048,199 2050.6,201.1 2053.2,203 2055.6,205.2 2058.1,206.4 2060.6,208.8 2063.3,211 2066,213.5 2068.8,216.4 2071.7,219.1 2074.6,222.2 2077.6,225.3 2080.7,229 2083.9,232 2087.1,235.7 2089.6,238.6 2092.2,241.6 2094.7,244.8 2097.3,247.6 2099.7,250.6 2102.2,253.5 2104.7,256.9 2107.2,259.6 2110.4,263.6 2113.6,267.5 2116.8,270.6 2120,274.6 2123.1,278.7 2126.2,282.3 2129.2,285.2 2132.3,288.8 2135.3,292.8 2138.3,296.1 2141.4,299.9 2144.4,303.4 2147.4,307.7 2150.5,311.5 2153.5,315.4 2156.5,318.4 2159.6,322.7 2162.6,326.4 2165.7,329.7 2168.7,334.3 2171.7,338.2 2174.5,341.1 2177.3,345.4 2180.1,348.5 2182.7,352 2185.2,355.9 2187.8,359.2 2191.2,363.4 2194.7,368.5 2197.8,373.2 2200.9,377.6 2203.8,381.5 2206.6,385.7 2209.2,389.7 2211.7,392.6 2216.3,399.4 2220.3,404.7 2223.4,408.7 2225.7,412.6 2227,415.6 2227.5,417.3 2227.9,418.2 2228.1,420 2228.2,420.3" fill="none" stroke="#fff" stroke-opacity=".9" stroke-width="0.75" stroke-linejoin="round" clip-path="url(#c9)"/>
<polyline points="1870,117.3 1877.8,120 1891.7,123.9 1905.3,128.2 1918.3,132.5 1930.9,137.1 1942.9,141.7 1954.3,146.6 1965.4,151.4 1976,156.1 1986.2,160.8 1995.9,165.5 2005.3,170.2 2014.4,175 2023.2,179.9 2031.6,184.9 2039.7,190 2047.6,195.4 2055.3,201 2062.8,206.9 2070.9,214.2 2079.7,223.2 2089.2,233.7 2099.4,245.7 2109.4,257.5 2119,268.9 2128.4,280.1 2137.5,290.9 2146.6,301.9 2155.7,313.1 2164.8,324.4 2173.9,335.8 2182.3,346.7 2189.9,357 2196.9,366.7 2203.1,375.8 2208.8,384 2213.9,391.2 2218.5,397.5 2222.5,402.8 2225.6,407.3 2227.8,410.8 2229.2,413.5 2229.7,415.4 2230,416.7 2230.3,417.6" fill="none" stroke="#27e027" stroke-width="7.8" stroke-linejoin="round" stroke-linecap="round" clip-path="url(#c9)"/>
<polyline points="1870,117.3 1877.8,120 1891.7,123.9 1905.3,128.2 1918.3,132.5 1930.9,137.1 1942.9,141.7 1954.3,146.6 1965.4,151.4 1976,156.1 1986.2,160.8 1995.9,165.5 2005.3,170.2 2014.4,175 2023.2,179.9 2031.6,184.9 2039.7,190 2047.6,195.4 2055.3,201 2062.8,206.9 2070.9,214.2 2079.7,223.2 2089.2,233.7 2099.4,245.7 2109.4,257.5 2119,268.9 2128.4,280.1 2137.5,290.9 2146.6,301.9 2155.7,313.1 2164.8,324.4 2173.9,335.8 2182.3,346.7 2189.9,357 2196.9,366.7 2203.1,375.8 2208.8,384 2213.9,391.2 2218.5,397.5 2222.5,402.8 2225.6,407.3 2227.8,410.8 2229.2,413.5 2229.7,415.4 2230,416.7 2230.3,417.6" fill="none" stroke="#fff" stroke-opacity=".2" stroke-width="2.3" stroke-linejoin="round" stroke-linecap="round" clip-path="url(#c9)"/>
<polyline points="1868.9,118.4 1876.7,121.1 1890.6,125 1904.2,129.3 1917.2,133.6 1929.7,138.2 1941.7,142.8 1953.2,147.7 1964.2,152.5 1974.8,157.2 1985,161.9 1994.8,166.6 2004.2,171.3 2013.3,176.1 2022,181 2030.4,186 2038.6,191.1 2046.5,196.5 2054.2,202.1 2061.7,208 2069.8,215.3" fill="none" stroke="#ff1e1e" stroke-width="7.8" stroke-linejoin="round" stroke-linecap="round" stroke-dasharray="26 40" stroke-dashoffset="44" clip-path="url(#c9)"/>
<polyline points="1868.9,118.4 1876.7,121.1 1890.6,125 1904.2,129.3 1917.2,133.6 1929.7,138.2 1941.7,142.8 1953.2,147.7 1964.2,152.5 1974.8,157.2 1985,161.9 1994.8,166.6 2004.2,171.3 2013.3,176.1 2022,181 2030.4,186 2038.6,191.1 2046.5,196.5 2054.2,202.1 2061.7,208 2069.8,215.3" fill="none" stroke="#fff" stroke-opacity=".2" stroke-width="2.3" stroke-linejoin="round" stroke-linecap="round" stroke-dasharray="26 40" stroke-dashoffset="44" clip-path="url(#c9)"/>
<polyline points="2075.1,225.8 2077.4,237.8 2081.9,243.9" fill="none" stroke="#ff1e1e" stroke-width="7.8" stroke-linejoin="round" stroke-linecap="round" clip-path="url(#c9)"/>
<polyline points="2075.1,225.8 2077.4,237.8 2081.9,243.9" fill="none" stroke="#fff" stroke-opacity=".2" stroke-width="2.3" stroke-linejoin="round" stroke-linecap="round" clip-path="url(#c9)"/>
<polyline points="2108.1,268 2126.4,290.8" fill="none" stroke="#ff1e1e" stroke-width="7.8" stroke-linejoin="round" stroke-linecap="round" clip-path="url(#c9)"/>
<polyline points="2108.1,268 2126.4,290.8" fill="none" stroke="#fff" stroke-opacity=".2" stroke-width="2.3" stroke-linejoin="round" stroke-linecap="round" clip-path="url(#c9)"/>
<polyline points="2147.7,317.3 2164.5,340.2" fill="none" stroke="#ff1e1e" stroke-width="7.8" stroke-linejoin="round" stroke-linecap="round" clip-path="url(#c9)"/>
<polyline points="2147.7,317.3 2164.5,340.2" fill="none" stroke="#fff" stroke-opacity=".2" stroke-width="2.3" stroke-linejoin="round" stroke-linecap="round" clip-path="url(#c9)"/>
<polyline points="2187.4,369.2 2202.3,393.3" fill="none" stroke="#ff1e1e" stroke-width="7.8" stroke-linejoin="round" stroke-linecap="round" clip-path="url(#c9)"/>
<polyline points="2187.4,369.2 2202.3,393.3" fill="none" stroke="#fff" stroke-opacity=".2" stroke-width="2.3" stroke-linejoin="round" stroke-linecap="round" clip-path="url(#c9)"/>
<polyline points="2219.6,418.6 2229.6,435.4" fill="none" stroke="#ff1e1e" stroke-width="7.8" stroke-linejoin="round" stroke-linecap="round" clip-path="url(#c9)"/>
<polyline points="2219.6,418.6 2229.6,435.4" fill="none" stroke="#fff" stroke-opacity=".2" stroke-width="2.3" stroke-linejoin="round" stroke-linecap="round" clip-path="url(#c9)"/>
<polyline points="1870.4,117.2 1878.2,119.9 1892.1,123.8 1905.7,128.1 1918.7,132.4 1931.2,137 1943.2,141.6 1954.7,146.5 1965.7,151.3 1976.3,156 1986.5,160.7 1996.3,165.4 2005.7,170.1 2014.8,174.9 2023.5,179.8 2031.9,184.8 2040.1,189.9 2048,195.3 2055.7,200.9 2063.2,206.8 2071.3,214.1 2080.1,223.1 2089.6,233.6 2099.8,245.6 2109.7,257.4 2119.4,268.8 2128.8,280 2137.9,290.8 2147,301.8 2156.1,313 2165.2,324.3 2174.3,335.7 2182.7,346.6 2190.3,356.9 2197.3,366.6 2203.5,375.7 2209.2,383.9 2214.3,391.1 2218.8,397.4 2222.9,402.7 2226,407.2 2228.2,410.7 2229.6,413.4 2230,415.3 2230.4,416.6 2230.6,417.5" fill="none" stroke="#2626f0" stroke-width="7.8" stroke-linejoin="round" stroke-linecap="round" stroke-dasharray="33 15 6 15" stroke-dashoffset="0" clip-path="url(#c9)"/>
<polyline points="1870.4,117.2 1878.2,119.9 1892.1,123.8 1905.7,128.1 1918.7,132.4 1931.2,137 1943.2,141.6 1954.7,146.5 1965.7,151.3 1976.3,156 1986.5,160.7 1996.3,165.4 2005.7,170.1 2014.8,174.9 2023.5,179.8 2031.9,184.8 2040.1,189.9 2048,195.3 2055.7,200.9 2063.2,206.8 2071.3,214.1 2080.1,223.1 2089.6,233.6 2099.8,245.6 2109.7,257.4 2119.4,268.8 2128.8,280 2137.9,290.8 2147,301.8 2156.1,313 2165.2,324.3 2174.3,335.7 2182.7,346.6 2190.3,356.9 2197.3,366.6 2203.5,375.7 2209.2,383.9 2214.3,391.1 2218.8,397.4 2222.9,402.7 2226,407.2 2228.2,410.7 2229.6,413.4 2230,415.3 2230.4,416.6 2230.6,417.5" fill="none" stroke="#fff" stroke-opacity=".2" stroke-width="2.3" stroke-linejoin="round" stroke-linecap="round" stroke-dasharray="33 15 6 15" stroke-dashoffset="0" clip-path="url(#c9)"/>
<path d="M1243.4 1H2283.2" stroke="#000" stroke-width="1.7" fill="none"/>
<path d="M1243.4 486H2283.2" stroke="#000" stroke-width="1.7" fill="none"/>
<path d="M1244.3 1V486" stroke="#000" stroke-width="1.9" fill="none"/>
<path d="M2282.3 1V486" stroke="#000" stroke-width="1.9" fill="none"/>
<path d="M1331.5 465V486" stroke="#000" stroke-width="2.3" fill="none"/>
<path d="M1331.5 1V22" stroke="#000" stroke-width="2.3" fill="none"/>
<path d="M1676.6 465V486" stroke="#000" stroke-width="2.3" fill="none"/>
<path d="M1676.6 1V22" stroke="#000" stroke-width="2.3" fill="none"/>
<path d="M2021.9 465V486" stroke="#000" stroke-width="2.3" fill="none"/>
<path d="M2021.9 1V22" stroke="#000" stroke-width="2.3" fill="none"/>
<path d="M1244.3 156.8H1267" stroke="#000" stroke-width="1.7" fill="none"/>
<path d="M2259.6 156.8H2282.3" stroke="#000" stroke-width="1.7" fill="none"/>
<path d="M1244.3 330.1H1267" stroke="#000" stroke-width="1.7" fill="none"/>
<path d="M2259.6 330.1H2282.3" stroke="#000" stroke-width="1.7" fill="none"/>
<path d="M1339.6 187H1979.2" stroke="#000" stroke-width="1.7" fill="none"/>
<path d="M1339.6 429.8H1979.2" stroke="#000" stroke-width="1.7" fill="none"/>
<path d="M1340.6 187V429.8" stroke="#000" stroke-width="1.9" fill="none"/>
<path d="M1978.3 187V429.8" stroke="#000" stroke-width="1.9" fill="none"/>
<clipPath id="c10"><rect x="1342.1" y="187" width="634.7" height="242.8"/></clipPath>
<polyline points="1473,187 1509.4,209 1545.5,231.1 1584.9,257 1620.6,280.8 1656.6,302 1690.2,322 1706.2,331.9 1738.5,346.1 1781.3,374.5 1834.9,407.2 1872.5,430" fill="none" stroke="#3d3d3d" stroke-width="4.6" stroke-linejoin="round" stroke-linecap="round" clip-path="url(#c10)"/>
<polyline points="1472,188.4 1508.4,210.4 1544.4,232.5 1583.9,258.4 1619.5,282.2 1655.6,303.4 1689.2,323.4 1705.2,333.3 1737.5,347.5 1780.3,375.9 1833.9,408.6 1871.4,431.4" fill="none" stroke="#fff" stroke-opacity=".9" stroke-width="0.75" stroke-linejoin="round" clip-path="url(#c10)"/>
<polyline points="1440.9,191.3 1452.8,193 1464.2,201 1475.8,205.5" fill="none" stroke="#ff1e1e" stroke-width="7.8" stroke-linejoin="round" stroke-linecap="round" clip-path="url(#c10)"/>
<polyline points="1440.9,191.3 1452.8,193 1464.2,201 1475.8,205.5" fill="none" stroke="#fff" stroke-opacity=".2" stroke-width="2.3" stroke-linejoin="round" stroke-linecap="round" clip-path="url(#c10)"/>
<polyline points="1502.6,221.1 1511.3,223 1518.9,231 1529.4,235.3" fill="none" stroke="#ff1e1e" stroke-width="7.8" stroke-linejoin="round" stroke-linecap="round" clip-path="url(#c10)"/>
<polyline points="1502.6,221.1 1511.3,223 1518.9,231 1529.4,235.3" fill="none" stroke="#fff" stroke-opacity=".2" stroke-width="2.3" stroke-linejoin="round" stroke-linecap="round" clip-path="url(#c10)"/>
<polyline points="1561.5,252.4 1573.6,261 1588.3,270.9" fill="none" stroke="#ff1e1e" stroke-width="7.8" stroke-linejoin="round" stroke-linecap="round" clip-path="url(#c10)"/>
<polyline points="1561.5,252.4 1573.6,261 1588.3,270.9" fill="none" stroke="#fff" stroke-opacity=".2" stroke-width="2.3" stroke-linejoin="round" stroke-linecap="round" clip-path="url(#c10)"/>
<polyline points="1620.6,289.3 1632.1,297 1644.7,305" fill="none" stroke="#ff1e1e" stroke-width="7.8" stroke-linejoin="round" stroke-linecap="round" clip-path="url(#c10)"/>
<polyline points="1620.6,289.3 1632.1,297 1644.7,305" fill="none" stroke="#fff" stroke-opacity=".2" stroke-width="2.3" stroke-linejoin="round" stroke-linecap="round" clip-path="url(#c10)"/>
<polyline points="1679.4,326.3 1690.6,333 1698.1,335 1706.2,341.9" fill="none" stroke="#ff1e1e" stroke-width="7.8" stroke-linejoin="round" stroke-linecap="round" clip-path="url(#c10)"/>
<polyline points="1679.4,326.3 1690.6,333 1698.1,335 1706.2,341.9" fill="none" stroke="#fff" stroke-opacity=".2" stroke-width="2.3" stroke-linejoin="round" stroke-linecap="round" clip-path="url(#c10)"/>
<polyline points="1735.8,358.9 1747.2,367 1759.8,374.5" fill="none" stroke="#ff1e1e" stroke-width="7.8" stroke-linejoin="round" stroke-linecap="round" clip-path="url(#c10)"/>
<polyline points="1735.8,358.9 1747.2,367 1759.8,374.5" fill="none" stroke="#fff" stroke-opacity=".2" stroke-width="2.3" stroke-linejoin="round" stroke-linecap="round" clip-path="url(#c10)"/>
<polyline points="1789.4,394.4 1801.9,405 1813.4,414.3" fill="none" stroke="#ff1e1e" stroke-width="7.8" stroke-linejoin="round" stroke-linecap="round" clip-path="url(#c10)"/>
<polyline points="1789.4,394.4 1801.9,405 1813.4,414.3" fill="none" stroke="#fff" stroke-opacity=".2" stroke-width="2.3" stroke-linejoin="round" stroke-linecap="round" clip-path="url(#c10)"/>
<polyline points="1480.2,186.2 1516.6,208.2 1552.6,230.3 1592.1,256.2 1627.7,280 1663.8,301.2 1697.4,321.2 1713.4,331.1 1745.7,345.3 1788.5,373.7 1842.1,406.4 1879.6,429.2" fill="none" stroke="#27e027" stroke-width="7.8" stroke-linejoin="round" stroke-linecap="round" clip-path="url(#c10)"/>
<polyline points="1480.2,186.2 1516.6,208.2 1552.6,230.3 1592.1,256.2 1627.7,280 1663.8,301.2 1697.4,321.2 1713.4,331.1 1745.7,345.3 1788.5,373.7 1842.1,406.4 1879.6,429.2" fill="none" stroke="#fff" stroke-opacity=".2" stroke-width="2.3" stroke-linejoin="round" stroke-linecap="round" clip-path="url(#c10)"/>
<polyline points="1479.8,186.4 1516.2,208.4 1552.3,230.5 1591.7,256.4 1627.4,280.2 1663.4,301.4 1697,321.4 1713,331.3 1745.3,345.5 1788.1,373.9 1841.7,406.6 1879.2,429.4" fill="none" stroke="#2626f0" stroke-width="7.8" stroke-linejoin="round" stroke-linecap="round" stroke-dasharray="33 15 6 15" stroke-dashoffset="0" clip-path="url(#c10)"/>
<polyline points="1479.8,186.4 1516.2,208.4 1552.3,230.5 1591.7,256.4 1627.4,280.2 1663.4,301.4 1697,321.4 1713,331.3 1745.3,345.5 1788.1,373.9 1841.7,406.6 1879.2,429.4" fill="none" stroke="#fff" stroke-opacity=".2" stroke-width="2.3" stroke-linejoin="round" stroke-linecap="round" stroke-dasharray="33 15 6 15" stroke-dashoffset="0" clip-path="url(#c10)"/>
<path d="M1339.6 187H1979.2" stroke="#000" stroke-width="1.7" fill="none"/>
<path d="M1339.6 429.8H1979.2" stroke="#000" stroke-width="1.7" fill="none"/>
<path d="M1340.6 187V429.8" stroke="#000" stroke-width="1.9" fill="none"/>
<path d="M1978.3 187V429.8" stroke="#000" stroke-width="1.9" fill="none"/>
<path d="M1514.2 408.8V429.8" stroke="#000" stroke-width="2.3" fill="none"/>
<path d="M1514.2 187V208" stroke="#000" stroke-width="2.3" fill="none"/>
<path d="M1804.2 408.8V429.8" stroke="#000" stroke-width="2.3" fill="none"/>
<path d="M1804.2 187V208" stroke="#000" stroke-width="2.3" fill="none"/>
<path d="M1340.6 213.8H1361.3" stroke="#000" stroke-width="1.7" fill="none"/>
<path d="M1957.5 213.8H1978.3" stroke="#000" stroke-width="1.7" fill="none"/>
<path d="M1340.6 294.3H1361.3" stroke="#000" stroke-width="1.7" fill="none"/>
<path d="M1957.5 294.3H1978.3" stroke="#000" stroke-width="1.7" fill="none"/>
<path d="M1340.6 375.1H1361.3" stroke="#000" stroke-width="1.7" fill="none"/>
<path d="M1957.5 375.1H1978.3" stroke="#000" stroke-width="1.7" fill="none"/>
<clipPath id="c11"><rect x="1244" y="557" width="1038.5" height="484.7"/></clipPath>
<polyline points="1348.9,601.5 1348.9,598.4 1351.9,597.7 1355,596.7 1358.1,596 1359.1,596.4 1361.1,596.9 1364.1,598.2 1368.1,600.4 1371.6,601.3 1375.1,602.6 1378.4,604.2 1381.7,605.1 1385,606.5 1388.3,607.3 1391.5,608.5 1394.7,609.3 1397.9,610.7 1401.1,611.9 1404.3,612.8 1407.4,614 1410.6,615 1413.8,615.7 1416.9,617.1 1420.1,618.1 1423.3,618.9 1426.5,619.8 1429.6,621.4 1432.8,622.1 1436,623.3 1439.1,624.4 1442.3,625.3 1445.5,626.5 1448.6,627.2 1451.8,628.4 1455,629.2 1458.2,630.5 1461.3,631.4 1464.5,631.9 1467.7,632.9 1470.8,634 1474,635.4 1477.2,636 1480.3,637.1 1483.5,637.9 1486.7,639 1489.8,639.9 1493,640.8 1496.2,641.9 1499.3,642.9 1502.5,644 1505.7,644.8 1508.8,645.9 1512,646.8 1515.2,647.8 1518.3,648.6 1521.5,649.2 1524.6,650.6 1527.8,651.6 1531,652.5 1534.1,653.2 1537.3,654.2 1540.4,654.9 1543.3,656 1546.2,656.7 1549,657.3 1551.9,658 1554.7,659.3 1557.6,660.2 1560.7,660.5 1563.7,661.8 1566.8,662.4 1569.9,663.1 1573,664 1576,665.2 1579.3,666.1 1582.6,666.5 1585.9,667.8 1589.2,668.3 1592.5,669.6 1595.8,670.3 1598.9,671.4 1601.9,672.2 1604.9,672.8 1607.9,673.8 1610.9,674.2 1614,674.9 1617,676 1620,676.5 1623,677.4 1626,678.3 1629.1,679.3 1632.1,679.8 1635.1,680.6 1638.1,681.9 1641.1,682.4 1644.2,683.6 1647.2,684.4 1650.2,684.9 1653.2,685.8 1656.2,686.7 1659.2,687.6 1662.3,688.5 1665.3,689.3 1668.3,690.2 1671.3,691.2 1674.3,691.8 1677.4,692.7 1680.4,693.7 1683.4,694.3 1686.4,695.2 1689.4,696.5 1692.5,697.1 1695.5,698 1698.5,698.6 1701.5,699.7 1704.6,700.7 1707.7,701.3 1710.8,702.5 1713.9,703.5 1717,704 1720.1,705.3 1723.2,706.1 1726.3,707.2 1729.5,707.9 1732.7,709.1 1735.8,710 1739,710.5 1742.2,711.5 1745.3,712.8 1748.2,713.8 1751,714.2 1753.8,715.2 1756.7,716.1 1759.5,716.8 1762.3,717.7 1765.2,718.5 1768,719.4 1770.9,720.4 1773.8,721.1 1776.7,722 1779.6,723.1 1782.5,723.5 1785.4,724.7 1788.3,725.7 1791.2,726.3 1794.5,727.3 1797.7,728.6 1801,729.2 1804.2,730.2 1807.4,731.3 1810.7,732.5 1813.8,733.1 1817,734.2 1820.1,735.2 1823.2,736.5 1826.4,737.2 1829.4,738.5 1832.4,739 1835.4,740.1 1838.3,741.2 1842.5,742.8 1846.6,743.9 1850.5,745.2 1854.5,746.6 1858.3,748.3 1862.1,749.6 1865.8,751.4 1869.5,752.9 1873,754 1876.6,755.6 1880.1,757.4 1883.6,758.8 1887.2,760.4 1890.7,761.6 1894.3,763 1897.9,764.6 1901.4,766.4 1905,767.6 1908.5,769.3 1912.1,770.9 1915.6,772.6 1919.2,774.3 1922.7,776.4 1926.3,777.7 1929.8,779.5 1933.3,781.9 1936.9,783.8 1940.4,785.7 1944,787.3 1947.5,789.5 1951.1,791.3 1954.6,792.8 1958.2,795 1961.8,796.9 1965.3,798.8 1968.9,800.7 1972.4,802.6 1976,804.7 1979.5,806.8 1983.1,808.9 1986.6,811.5 1990.1,813.5 1993.7,816.1 1997.2,818 2000.8,820.8 2004.3,823.1 2007.9,825.6 2011.4,828 2015,830.4 2018.6,832.7 2022.1,834.8 2025.7,837.7 2029.2,839.8 2032.8,842.3 2036.3,845 2039.9,847.4 2043.4,849.7 2046.9,852.5 2050.5,854.9 2054,857.3 2057.6,860 2061.1,863.1 2064.7,865.8 2068.2,868.8 2071.8,871.6 2075.4,874.5 2078.5,877.4 2081.6,880.3 2086.9,884.9 2091.3,889.6 2094.8,893.5 2098.3,897.4 2101.8,901.6 2105.4,905.4 2109,910.2 2112.7,915.4 2116.7,920.5 2120.8,926.8 2125.1,933.6 2129,940.2 2132.6,946.1 2135.8,951.8 2138.6,957.3 2141.1,962 2143.4,967.1 2145.4,972.1 2147.1,977 2148.3,980.6 2149.2,983.6 2149.6,984.7" fill="none" stroke="#3d3d3d" stroke-width="6.1" stroke-linejoin="round" stroke-linecap="round" clip-path="url(#c11)"/>
<polyline points="1347.8,602.9 1347.8,599.8 1350.9,599.1 1354,598.1 1357.1,597.4 1358.1,597.8 1360.1,598.3 1363.1,599.6 1367.1,601.8 1370.6,602.7 1374.1,604 1377.4,605.6 1380.7,606.5 1384,607.9 1387.2,608.7 1390.4,609.9 1393.7,610.7 1396.9,612.1 1400.1,613.3 1403.2,614.2 1406.4,615.4 1409.6,616.4 1412.7,617.1 1415.9,618.5 1419.1,619.5 1422.2,620.3 1425.4,621.2 1428.6,622.8 1431.8,623.5 1434.9,624.7 1438.1,625.8 1441.3,626.7 1444.4,627.9 1447.6,628.6 1450.8,629.8 1453.9,630.6 1457.1,631.9 1460.3,632.8 1463.5,633.3 1466.6,634.3 1469.8,635.4 1473,636.8 1476.1,637.4 1479.3,638.5 1482.5,639.3 1485.6,640.4 1488.8,641.3 1492,642.2 1495.1,643.3 1498.3,644.3 1501.5,645.4 1504.6,646.2 1507.8,647.3 1511,648.2 1514.1,649.2 1517.3,650 1520.4,650.6 1523.6,652 1526.8,653 1529.9,653.9 1533.1,654.6 1536.2,655.6 1539.4,656.3 1542.3,657.4 1545.1,658.1 1548,658.7 1550.8,659.4 1553.7,660.7 1556.5,661.6 1559.6,661.9 1562.7,663.2 1565.8,663.8 1568.9,664.5 1571.9,665.4 1575,666.6 1578.3,667.5 1581.6,667.9 1584.9,669.2 1588.2,669.7 1591.5,671 1594.8,671.7 1597.8,672.8 1600.8,673.6 1603.9,674.2 1606.9,675.2 1609.9,675.6 1612.9,676.3 1615.9,677.4 1619,677.9 1622,678.8 1625,679.7 1628,680.7 1631,681.2 1634.1,682 1637.1,683.3 1640.1,683.8 1643.1,685 1646.1,685.8 1649.2,686.3 1652.2,687.2 1655.2,688.1 1658.2,689 1661.2,689.9 1664.2,690.7 1667.3,691.6 1670.3,692.6 1673.3,693.2 1676.3,694.1 1679.3,695.1 1682.4,695.7 1685.4,696.6 1688.4,697.9 1691.4,698.5 1694.4,699.4 1697.5,700 1700.5,701.1 1703.6,702.1 1706.7,702.7 1709.8,703.9 1712.8,704.9 1715.9,705.4 1719,706.7 1722.1,707.5 1725.3,708.6 1728.5,709.3 1731.6,710.5 1734.8,711.4 1738,711.9 1741.1,712.9 1744.3,714.2 1747.1,715.2 1750,715.6 1752.8,716.6 1755.6,717.5 1758.5,718.2 1761.3,719.1 1764.1,719.9 1767,720.8 1769.9,721.8 1772.8,722.5 1775.7,723.4 1778.6,724.5 1781.5,724.9 1784.4,726.1 1787.3,727.1 1790.2,727.7 1793.4,728.7 1796.7,730 1799.9,730.6 1803.2,731.6 1806.4,732.7 1809.6,733.9 1812.8,734.5 1815.9,735.6 1819.1,736.6 1822.2,737.9 1825.4,738.6 1828.3,739.9 1831.3,740.4 1834.3,741.5 1837.3,742.6 1841.4,744.2 1845.5,745.3 1849.5,746.6 1853.4,748 1857.3,749.7 1861.1,751 1864.8,752.8 1868.4,754.3 1872,755.4 1875.5,757 1879.1,758.8 1882.6,760.2 1886.2,761.8 1889.7,763 1893.3,764.4 1896.8,766 1900.4,767.8 1903.9,769 1907.5,770.7 1911,772.3 1914.6,774 1918.1,775.7 1921.7,777.8 1925.2,779.1 1928.8,780.9 1932.3,783.3 1935.9,785.2 1939.4,787.1 1942.9,788.7 1946.5,790.9 1950.1,792.7 1953.6,794.2 1957.2,796.4 1960.7,798.3 1964.3,800.2 1967.8,802.1 1971.4,804 1974.9,806.1 1978.5,808.2 1982,810.3 1985.6,812.9 1989.1,814.9 1992.6,817.5 1996.2,819.4 1999.7,822.2 2003.3,824.5 2006.8,827 2010.4,829.4 2014,831.8 2017.5,834.1 2021.1,836.2 2024.6,839.1 2028.2,841.2 2031.7,843.7 2035.3,846.4 2038.8,848.8 2042.4,851.1 2045.9,853.9 2049.4,856.3 2053,858.7 2056.5,861.4 2060.1,864.5 2063.6,867.2 2067.2,870.2 2070.8,873 2074.3,875.9 2077.4,878.8 2080.5,881.7 2085.8,886.3 2090.2,891 2093.7,894.9 2097.2,898.8 2100.8,903 2104.3,906.8 2107.9,911.6 2111.7,916.8 2115.6,921.9 2119.7,928.2 2124,935 2128,941.6 2131.5,947.5 2134.7,953.2 2137.5,958.7 2140.1,963.4 2142.4,968.5 2144.3,973.5 2146,978.4 2147.3,982 2148.2,985 2148.6,986.1" fill="none" stroke="#fff" stroke-opacity=".9" stroke-width="0.75" stroke-linejoin="round" clip-path="url(#c11)"/>
<polyline points="1833.2,733.1 1866,744.4 1894.3,756.4 1922.8,768.5 1951.1,783.5 1979.6,798.6 2007.9,816.6 2036.4,836.2 2064.7,855.8 2092.4,880.2 2103.8,896.4 2115.5,915.2 2130.1,943.2 2138.8,965.3 2143,985.7 2146.8,1004" fill="none" stroke="#ff1e1e" stroke-width="7.8" stroke-linejoin="round" stroke-linecap="round" stroke-dasharray="23 29" stroke-dashoffset="0" clip-path="url(#c11)"/>
<polyline points="1833.2,733.1 1866,744.4 1894.3,756.4 1922.8,768.5 1951.1,783.5 1979.6,798.6 2007.9,816.6 2036.4,836.2 2064.7,855.8 2092.4,880.2 2103.8,896.4 2115.5,915.2 2130.1,943.2 2138.8,965.3 2143,985.7 2146.8,1004" fill="none" stroke="#fff" stroke-opacity=".2" stroke-width="2.3" stroke-linejoin="round" stroke-linecap="round" stroke-dasharray="23 29" stroke-dashoffset="0" clip-path="url(#c11)"/>
<polyline points="1827.4,736.4 1860.2,747.7 1888.5,759.7 1917,771.8 1945.3,786.8 1973.8,801.9 2002.1,819.9 2030.6,839.5 2058.9,859.1 2087.4,883.2 2101.3,898.5 2115.7,916.3 2132.8,943.4 2144.2,964.5 2150.9,984" fill="none" stroke="#27e027" stroke-width="7.8" stroke-linejoin="round" stroke-linecap="round" clip-path="url(#c11)"/>
<polyline points="1827.4,736.4 1860.2,747.7 1888.5,759.7 1917,771.8 1945.3,786.8 1973.8,801.9 2002.1,819.9 2030.6,839.5 2058.9,859.1 2087.4,883.2 2101.3,898.5 2115.7,916.3 2132.8,943.4 2144.2,964.5 2150.9,984" fill="none" stroke="#fff" stroke-opacity=".2" stroke-width="2.3" stroke-linejoin="round" stroke-linecap="round" clip-path="url(#c11)"/>
<polyline points="1827.2,736.5 1860,747.8 1888.3,759.8 1916.8,771.9 1945.1,786.9 1973.6,802 2001.9,820 2030.4,839.6 2058.7,859.2 2087.2,883.3 2101.1,898.6 2115.5,916.4 2132.6,943.5 2144,964.6 2150.8,984.1" fill="none" stroke="#2626f0" stroke-width="7.8" stroke-linejoin="round" stroke-linecap="round" stroke-dasharray="33 15 6 15" stroke-dashoffset="0" clip-path="url(#c11)"/>
<polyline points="1827.2,736.5 1860,747.8 1888.3,759.8 1916.8,771.9 1945.1,786.9 1973.6,802 2001.9,820 2030.4,839.6 2058.7,859.2 2087.2,883.3 2101.1,898.6 2115.5,916.4 2132.6,943.5 2144,964.6 2150.8,984.1" fill="none" stroke="#fff" stroke-opacity=".2" stroke-width="2.3" stroke-linejoin="round" stroke-linecap="round" stroke-dasharray="33 15 6 15" stroke-dashoffset="0" clip-path="url(#c11)"/>
<path d="M1243 557H2283.4" stroke="#000" stroke-width="1.7" fill="none"/>
<path d="M1243 1041.7H2283.4" stroke="#000" stroke-width="1.7" fill="none"/>
<path d="M1244 557V1041.7" stroke="#000" stroke-width="1.9" fill="none"/>
<path d="M2282.5 557V1041.7" stroke="#000" stroke-width="1.9" fill="none"/>
<path d="M1348.9 1020.7V1041.7" stroke="#000" stroke-width="2.3" fill="none"/>
<path d="M1348.9 557V578" stroke="#000" stroke-width="2.3" fill="none"/>
<path d="M1556.2 1020.7V1041.7" stroke="#000" stroke-width="2.3" fill="none"/>
<path d="M1556.2 557V578" stroke="#000" stroke-width="2.3" fill="none"/>
<path d="M1763.5 1020.7V1041.7" stroke="#000" stroke-width="2.3" fill="none"/>
<path d="M1763.5 557V578" stroke="#000" stroke-width="2.3" fill="none"/>
<path d="M1970.8 1020.7V1041.7" stroke="#000" stroke-width="2.3" fill="none"/>
<path d="M1970.8 557V578" stroke="#000" stroke-width="2.3" fill="none"/>
<path d="M2178.2 1020.7V1041.7" stroke="#000" stroke-width="2.3" fill="none"/>
<path d="M2178.2 557V578" stroke="#000" stroke-width="2.3" fill="none"/>
<path d="M1244 646.5H1266.6" stroke="#000" stroke-width="1.7" fill="none"/>
<path d="M2259.8 646.5H2282.5" stroke="#000" stroke-width="1.7" fill="none"/>
<path d="M1244 759.7H1266.6" stroke="#000" stroke-width="1.7" fill="none"/>
<path d="M2259.8 759.7H2282.5" stroke="#000" stroke-width="1.7" fill="none"/>
<path d="M1244 871.5H1266.6" stroke="#000" stroke-width="1.7" fill="none"/>
<path d="M2259.8 871.5H2282.5" stroke="#000" stroke-width="1.7" fill="none"/>
<path d="M1244 984.2H1266.6" stroke="#000" stroke-width="1.7" fill="none"/>
<path d="M2259.8 984.2H2282.5" stroke="#000" stroke-width="1.7" fill="none"/>
<path d="M1339.8 717.9H1722.6" stroke="#000" stroke-width="1.7" fill="none"/>
<path d="M1339.8 945H1722.6" stroke="#000" stroke-width="1.7" fill="none"/>
<path d="M1340.8 717.9V945" stroke="#000" stroke-width="1.9" fill="none"/>
<path d="M1721.7 717.9V945" stroke="#000" stroke-width="1.9" fill="none"/>
<clipPath id="c12"><rect x="1342.3" y="717.9" width="377.9" height="227.1"/></clipPath>
<polyline points="1340.9,738.7 1396.2,761.3 1446.6,782.7 1496.8,802.7 1547.2,825.3 1597.5,852 1647.7,881.3 1698.1,910.7 1721.7,928" fill="none" stroke="#3d3d3d" stroke-width="4.6" stroke-linejoin="round" stroke-linecap="round" clip-path="url(#c12)"/>
<polyline points="1339.9,740.1 1395.2,762.7 1445.6,784.1 1495.8,804.1 1546.1,826.7 1596.5,853.4 1646.7,882.7 1697.1,912.1 1720.7,929.4" fill="none" stroke="#fff" stroke-opacity=".9" stroke-width="0.75" stroke-linejoin="round" clip-path="url(#c12)"/>
<polyline points="1356,730.7 1371.7,735 1388.7,742.7" fill="none" stroke="#ff1e1e" stroke-width="7.8" stroke-linejoin="round" stroke-linecap="round" clip-path="url(#c12)"/>
<polyline points="1356,730.7 1371.7,735 1388.7,742.7" fill="none" stroke="#fff" stroke-opacity=".2" stroke-width="2.3" stroke-linejoin="round" stroke-linecap="round" clip-path="url(#c12)"/>
<polyline points="1418.9,752 1434,757 1449.1,765.3" fill="none" stroke="#ff1e1e" stroke-width="7.8" stroke-linejoin="round" stroke-linecap="round" clip-path="url(#c12)"/>
<polyline points="1418.9,752 1434,757 1449.1,765.3" fill="none" stroke="#fff" stroke-opacity=".2" stroke-width="2.3" stroke-linejoin="round" stroke-linecap="round" clip-path="url(#c12)"/>
<polyline points="1479.2,777.3 1490.6,781 1501.9,788" fill="none" stroke="#ff1e1e" stroke-width="7.8" stroke-linejoin="round" stroke-linecap="round" clip-path="url(#c12)"/>
<polyline points="1479.2,777.3 1490.6,781 1501.9,788" fill="none" stroke="#fff" stroke-opacity=".2" stroke-width="2.3" stroke-linejoin="round" stroke-linecap="round" clip-path="url(#c12)"/>
<polyline points="1532.1,800 1547.2,806 1564.7,816" fill="none" stroke="#ff1e1e" stroke-width="7.8" stroke-linejoin="round" stroke-linecap="round" clip-path="url(#c12)"/>
<polyline points="1532.1,800 1547.2,806 1564.7,816" fill="none" stroke="#fff" stroke-opacity=".2" stroke-width="2.3" stroke-linejoin="round" stroke-linecap="round" clip-path="url(#c12)"/>
<polyline points="1590,828 1605.7,837 1620.2,846.7" fill="none" stroke="#ff1e1e" stroke-width="7.8" stroke-linejoin="round" stroke-linecap="round" clip-path="url(#c12)"/>
<polyline points="1590,828 1605.7,837 1620.2,846.7" fill="none" stroke="#fff" stroke-opacity=".2" stroke-width="2.3" stroke-linejoin="round" stroke-linecap="round" clip-path="url(#c12)"/>
<polyline points="1650.4,866.7 1662.3,871 1675.5,878.7" fill="none" stroke="#ff1e1e" stroke-width="7.8" stroke-linejoin="round" stroke-linecap="round" clip-path="url(#c12)"/>
<polyline points="1650.4,866.7 1662.3,871 1675.5,878.7" fill="none" stroke="#fff" stroke-opacity=".2" stroke-width="2.3" stroke-linejoin="round" stroke-linecap="round" clip-path="url(#c12)"/>
<polyline points="1693,888 1707.5,896 1721.7,905.3" fill="none" stroke="#ff1e1e" stroke-width="7.8" stroke-linejoin="round" stroke-linecap="round" clip-path="url(#c12)"/>
<polyline points="1693,888 1707.5,896 1721.7,905.3" fill="none" stroke="#fff" stroke-opacity=".2" stroke-width="2.3" stroke-linejoin="round" stroke-linecap="round" clip-path="url(#c12)"/>
<polyline points="1343,738.2 1398.3,760.8 1448.7,782.2 1498.9,802.2 1549.2,824.8 1599.6,851.5 1649.8,880.8 1700.2,910.2 1723.8,927.5" fill="none" stroke="#27e027" stroke-width="7.8" stroke-linejoin="round" stroke-linecap="round" clip-path="url(#c12)"/>
<polyline points="1343,738.2 1398.3,760.8 1448.7,782.2 1498.9,802.2 1549.2,824.8 1599.6,851.5 1649.8,880.8 1700.2,910.2 1723.8,927.5" fill="none" stroke="#fff" stroke-opacity=".2" stroke-width="2.3" stroke-linejoin="round" stroke-linecap="round" clip-path="url(#c12)"/>
<polyline points="1342.8,738.3 1398.1,760.9 1448.5,782.3 1498.7,802.3 1549.1,824.9 1599.4,851.6 1649.6,880.9 1700,910.3 1723.6,927.6" fill="none" stroke="#2626f0" stroke-width="7.8" stroke-linejoin="round" stroke-linecap="round" stroke-dasharray="70 12 5 12" stroke-dashoffset="0" clip-path="url(#c12)"/>
<polyline points="1342.8,738.3 1398.1,760.9 1448.5,782.3 1498.7,802.3 1549.1,824.9 1599.4,851.6 1649.6,880.9 1700,910.3 1723.6,927.6" fill="none" stroke="#fff" stroke-opacity=".2" stroke-width="2.3" stroke-linejoin="round" stroke-linecap="round" stroke-dasharray="70 12 5 12" stroke-dashoffset="0" clip-path="url(#c12)"/>
<path d="M1339.8 717.9H1722.6" stroke="#000" stroke-width="1.7" fill="none"/>
<path d="M1339.8 945H1722.6" stroke="#000" stroke-width="1.7" fill="none"/>
<path d="M1340.8 717.9V945" stroke="#000" stroke-width="1.9" fill="none"/>
<path d="M1721.7 717.9V945" stroke="#000" stroke-width="1.9" fill="none"/>
<path d="M1398.7 924V945" stroke="#000" stroke-width="2.3" fill="none"/>
<path d="M1398.7 717.9V738.9" stroke="#000" stroke-width="2.3" fill="none"/>
<path d="M1502.8 924V945" stroke="#000" stroke-width="2.3" fill="none"/>
<path d="M1502.8 717.9V738.9" stroke="#000" stroke-width="2.3" fill="none"/>
<path d="M1606.6 924V945" stroke="#000" stroke-width="2.3" fill="none"/>
<path d="M1606.6 717.9V738.9" stroke="#000" stroke-width="2.3" fill="none"/>
<path d="M1710.9 924V945" stroke="#000" stroke-width="2.3" fill="none"/>
<path d="M1710.9 717.9V738.9" stroke="#000" stroke-width="2.3" fill="none"/>
<path d="M1340.8 742.6H1361.5" stroke="#000" stroke-width="1.7" fill="none"/>
<path d="M1700.9 742.6H1721.7" stroke="#000" stroke-width="1.7" fill="none"/>
<path d="M1340.8 806.1H1361.5" stroke="#000" stroke-width="1.7" fill="none"/>
<path d="M1700.9 806.1H1721.7" stroke="#000" stroke-width="1.7" fill="none"/>
<path d="M1340.8 869.8H1361.5" stroke="#000" stroke-width="1.7" fill="none"/>
<path d="M1700.9 869.8H1721.7" stroke="#000" stroke-width="1.7" fill="none"/>
<path d="M1340.8 934H1361.5" stroke="#000" stroke-width="1.7" fill="none"/>
<path d="M1700.9 934H1721.7" stroke="#000" stroke-width="1.7" fill="none"/>
<path d="M749.8 1.6H1157" stroke="#000" stroke-width="3.2" fill="none"/>
<path d="M3032.1 1.7H3430.2" stroke="#000" stroke-width="3.4" fill="none"/>
<path d="M716.2 558.4H1157" stroke="#000" stroke-width="2.2" fill="none"/>
<path d="M2945.3 558.4H3430.2" stroke="#000" stroke-width="2.2" fill="none"/>
<rect x="2004.2" y="556.6" width="280.4" height="215.4" fill="#fff"/>
<path d="M2002.3 557H2286.4" stroke="#000" stroke-width="3.0" fill="none"/>
<path d="M2002.3 772H2286.4" stroke="#000" stroke-width="3.0" fill="none"/>
<path d="M2004.2 556.6V772" stroke="#000" stroke-width="4.0" fill="none"/>
<path d="M2284.5 556.6V772" stroke="#000" stroke-width="4.0" fill="none"/>
<path d="M2009.8 585.7H2105.7" stroke="#3d3d3d" stroke-width="6.2" stroke-linecap="round" fill="none"/>
<path d="M2009.8 586.4H2105.7" stroke="#fff" stroke-opacity=".85" stroke-width="0.9" fill="none"/>
<path d="M2011.3 638.3H2040.6" stroke="#ff1e1e" stroke-width="6.6" stroke-linecap="round" fill="none"/>
<path d="M2080.6 638.3H2103.8" stroke="#ff1e1e" stroke-width="6.6" stroke-linecap="round" fill="none"/>
<path d="M2011.3 690.6H2017.2" stroke="#27e027" stroke-width="6.6" stroke-linecap="round" fill="none"/>
<path d="M2052.1 690.6H2060.2" stroke="#27e027" stroke-width="6.6" stroke-linecap="round" fill="none"/>
<path d="M2094.2 690.6H2102.8" stroke="#27e027" stroke-width="6.6" stroke-linecap="round" fill="none"/>
<path d="M2011.3 743.6H2048.5" stroke="#2626f0" stroke-width="6.6" stroke-linecap="round" fill="none"/>
<path d="M2068.9 743.6H2077.5" stroke="#2626f0" stroke-width="6.6" stroke-linecap="round" fill="none"/>
<path d="M2097.7 743.6H2103.8" stroke="#2626f0" stroke-width="6.6" stroke-linecap="round" fill="none"/>
<path d="M2012.3 639.3H2039.6" stroke="#fff" stroke-opacity=".8" stroke-width="1.3" fill="none"/>
<path d="M2011.9 691.6H2017" stroke="#fff" stroke-opacity=".8" stroke-width="1.3" fill="none"/>
<path d="M2052.8 691.6H2059.4" stroke="#fff" stroke-opacity=".8" stroke-width="1.3" fill="none"/>
<path d="M2012.3 744.6H2047.5" stroke="#fff" stroke-opacity=".8" stroke-width="1.3" fill="none"/>
<path d="M2069.8 744.6H2076.6" stroke="#fff" stroke-opacity=".8" stroke-width="1.3" fill="none"/>
</g>
<text transform="translate(51 59) scale(0.49 1)" font-size="44" text-anchor="end" fill="#000">100</text>
<text transform="translate(51 147) scale(0.49 1)" font-size="44" text-anchor="end" fill="#000">90</text>
<text transform="translate(51 235) scale(0.49 1)" font-size="44" text-anchor="end" fill="#000">80</text>
<text transform="translate(51 323) scale(0.49 1)" font-size="44" text-anchor="end" fill="#000">70</text>
<text transform="translate(51 411) scale(0.49 1)" font-size="44" text-anchor="end" fill="#000">60</text>
<text transform="translate(51 499) scale(0.49 1)" font-size="44" text-anchor="end" fill="#000">50</text>
<text transform="translate(78 541) scale(0.49 1)" font-size="44" text-anchor="middle" fill="#000">0</text>
<text transform="translate(140.9 541) scale(0.49 1)" font-size="44" text-anchor="middle" fill="#000">20</text>
<text transform="translate(203.9 541) scale(0.49 1)" font-size="44" text-anchor="middle" fill="#000">40</text>
<text transform="translate(266.8 541) scale(0.49 1)" font-size="44" text-anchor="middle" fill="#000">60</text>
<text transform="translate(329.8 541) scale(0.49 1)" font-size="44" text-anchor="middle" fill="#000">80</text>
<text transform="translate(392.7 541) scale(0.49 1)" font-size="44" text-anchor="middle" fill="#000">100</text>
<text transform="translate(455.6 541) scale(0.49 1)" font-size="44" text-anchor="middle" fill="#000">120</text>
<text transform="translate(518.6 541) scale(0.49 1)" font-size="44" text-anchor="middle" fill="#000">140</text>
<text transform="translate(581.5 541) scale(0.49 1)" font-size="44" text-anchor="middle" fill="#000">160</text>
<text transform="translate(386.2 69.9) scale(0.49 1)" font-size="44" text-anchor="end" fill="#000">70</text>
<text transform="translate(386.2 213.3) scale(0.49 1)" font-size="44" text-anchor="end" fill="#000">60</text>
<text transform="translate(403.5 311) scale(0.49 1)" font-size="44" text-anchor="middle" fill="#000">120</text>
<text transform="translate(494.8 311) scale(0.49 1)" font-size="44" text-anchor="middle" fill="#000">140</text>
<text transform="translate(586.5 311) scale(0.49 1)" font-size="44" text-anchor="middle" fill="#000">160</text>
<text transform="translate(51 651) scale(0.49 1)" font-size="44" text-anchor="end" fill="#000">90</text>
<text transform="translate(51 812.1) scale(0.49 1)" font-size="44" text-anchor="end" fill="#000">80</text>
<text transform="translate(51 973.8) scale(0.49 1)" font-size="44" text-anchor="end" fill="#000">70</text>
<text transform="translate(93.7 1097) scale(0.49 1)" font-size="44" text-anchor="middle" fill="#000">0</text>
<text transform="translate(154.8 1097) scale(0.49 1)" font-size="44" text-anchor="middle" fill="#000">20</text>
<text transform="translate(215.9 1097) scale(0.49 1)" font-size="44" text-anchor="middle" fill="#000">40</text>
<text transform="translate(277 1097) scale(0.49 1)" font-size="44" text-anchor="middle" fill="#000">60</text>
<text transform="translate(338.1 1097) scale(0.49 1)" font-size="44" text-anchor="middle" fill="#000">80</text>
<text transform="translate(399.2 1097) scale(0.49 1)" font-size="44" text-anchor="middle" fill="#000">100</text>
<text transform="translate(460.3 1097) scale(0.49 1)" font-size="44" text-anchor="middle" fill="#000">120</text>
<text transform="translate(521.4 1097) scale(0.49 1)" font-size="44" text-anchor="middle" fill="#000">140</text>
<text transform="translate(582.5 1097) scale(0.49 1)" font-size="44" text-anchor="middle" fill="#000">160</text>
<text transform="translate(367.7 601.7) scale(0.49 1)" font-size="44" text-anchor="end" fill="#000">76</text>
<text transform="translate(367.7 660.9) scale(0.49 1)" font-size="44" text-anchor="end" fill="#000">74</text>
<text transform="translate(367.7 720.1) scale(0.49 1)" font-size="44" text-anchor="end" fill="#000">72</text>
<text transform="translate(367.7 778.8) scale(0.49 1)" font-size="44" text-anchor="end" fill="#000">70</text>
<text transform="translate(481.3 850.3) scale(0.49 1)" font-size="44" text-anchor="middle" fill="#000">140</text>
<text transform="translate(587 850.3) scale(0.49 1)" font-size="44" text-anchor="middle" fill="#000">160</text>
<text transform="translate(647.7 169.8) scale(0.49 1)" font-size="44" text-anchor="end" fill="#000">90</text>
<text transform="translate(647.7 343.1) scale(0.49 1)" font-size="44" text-anchor="end" fill="#000">80</text>
<text transform="translate(705.7 541) scale(0.49 1)" font-size="44" text-anchor="middle" fill="#000">0</text>
<text transform="translate(888.6 541) scale(0.49 1)" font-size="44" text-anchor="middle" fill="#000">200</text>
<text transform="translate(1071.6 541) scale(0.49 1)" font-size="44" text-anchor="middle" fill="#000">400</text>
<text transform="translate(698.4 226.8) scale(0.49 1)" font-size="44" text-anchor="end" fill="#000">84</text>
<text transform="translate(698.4 307.3) scale(0.49 1)" font-size="44" text-anchor="end" fill="#000">81</text>
<text transform="translate(698.4 388.1) scale(0.49 1)" font-size="44" text-anchor="end" fill="#000">78</text>
<text transform="translate(802 485.3) scale(0.49 1)" font-size="44" text-anchor="middle" fill="#000">450</text>
<text transform="translate(955.7 485.3) scale(0.49 1)" font-size="44" text-anchor="middle" fill="#000">500</text>
<text transform="translate(647.7 659.5) scale(0.49 1)" font-size="44" text-anchor="end" fill="#000">95</text>
<text transform="translate(647.7 772.7) scale(0.49 1)" font-size="44" text-anchor="end" fill="#000">90</text>
<text transform="translate(647.7 884.5) scale(0.49 1)" font-size="44" text-anchor="end" fill="#000">85</text>
<text transform="translate(647.7 997.2) scale(0.49 1)" font-size="44" text-anchor="end" fill="#000">80</text>
<text transform="translate(714.9 1097) scale(0.49 1)" font-size="44" text-anchor="middle" fill="#000">0</text>
<text transform="translate(824.8 1097) scale(0.49 1)" font-size="44" text-anchor="middle" fill="#000">200</text>
<text transform="translate(934.7 1097) scale(0.49 1)" font-size="44" text-anchor="middle" fill="#000">400</text>
<text transform="translate(1044.5 1097) scale(0.49 1)" font-size="44" text-anchor="middle" fill="#000">600</text>
<text transform="translate(1154.4 1097) scale(0.49 1)" font-size="44" text-anchor="middle" fill="#000">800</text>
<text transform="translate(697.7 755.6) scale(0.49 1)" font-size="44" text-anchor="end" fill="#000">91</text>
<text transform="translate(697.7 819.1) scale(0.49 1)" font-size="44" text-anchor="end" fill="#000">90</text>
<text transform="translate(697.7 882.8) scale(0.49 1)" font-size="44" text-anchor="end" fill="#000">89</text>
<text transform="translate(697.7 947) scale(0.49 1)" font-size="44" text-anchor="end" fill="#000">88</text>
<text transform="translate(740.8 1000.5) scale(0.49 1)" font-size="44" text-anchor="middle" fill="#000">480</text>
<text transform="translate(797.3 1000.5) scale(0.49 1)" font-size="44" text-anchor="middle" fill="#000">520</text>
<text transform="translate(851.8 1000.5) scale(0.49 1)" font-size="44" text-anchor="middle" fill="#000">560</text>
<text transform="translate(907.5 1000.5) scale(0.49 1)" font-size="44" text-anchor="middle" fill="#000">600</text>
<text transform="translate(1254.7 115.4) scale(0.49 1)" font-size="44" text-anchor="end" fill="#000">95</text>
<text transform="translate(1254.7 316.8) scale(0.49 1)" font-size="44" text-anchor="end" fill="#000">90</text>
<text transform="translate(1300.4 541) scale(0.49 1)" font-size="44" text-anchor="middle" fill="#000">0</text>
<text transform="translate(1369.2 541) scale(0.49 1)" font-size="44" text-anchor="middle" fill="#000">20</text>
<text transform="translate(1438 541) scale(0.49 1)" font-size="44" text-anchor="middle" fill="#000">40</text>
<text transform="translate(1506.8 541) scale(0.49 1)" font-size="44" text-anchor="middle" fill="#000">60</text>
<text transform="translate(1575.6 541) scale(0.49 1)" font-size="44" text-anchor="middle" fill="#000">80</text>
<text transform="translate(1644.4 541) scale(0.49 1)" font-size="44" text-anchor="middle" fill="#000">100</text>
<text transform="translate(1713.2 541) scale(0.49 1)" font-size="44" text-anchor="middle" fill="#000">120</text>
<text transform="translate(1782 541) scale(0.49 1)" font-size="44" text-anchor="middle" fill="#000">140</text>
<text transform="translate(1595.7 71.8) scale(0.49 1)" font-size="44" text-anchor="end" fill="#000">89</text>
<text transform="translate(1595.7 134.2) scale(0.49 1)" font-size="44" text-anchor="end" fill="#000">88</text>
<text transform="translate(1595.7 196.1) scale(0.49 1)" font-size="44" text-anchor="end" fill="#000">87</text>
<text transform="translate(1595.7 258.2) scale(0.49 1)" font-size="44" text-anchor="end" fill="#000">86</text>
<text transform="translate(1656.4 301) scale(0.49 1)" font-size="44" text-anchor="middle" fill="#000">100</text>
<text transform="translate(1722.9 301) scale(0.49 1)" font-size="44" text-anchor="middle" fill="#000">120</text>
<text transform="translate(1789.5 301) scale(0.49 1)" font-size="44" text-anchor="middle" fill="#000">140</text>
<text transform="translate(1254.7 630.4) scale(0.49 1)" font-size="44" text-anchor="end" fill="#000">98</text>
<text transform="translate(1254.7 751.7) scale(0.49 1)" font-size="44" text-anchor="end" fill="#000">96</text>
<text transform="translate(1254.7 872.6) scale(0.49 1)" font-size="44" text-anchor="end" fill="#000">94</text>
<text transform="translate(1254.7 993.5) scale(0.49 1)" font-size="44" text-anchor="end" fill="#000">92</text>
<text transform="translate(1300 1097) scale(0.49 1)" font-size="44" text-anchor="middle" fill="#000">0</text>
<text transform="translate(1368.8 1097) scale(0.49 1)" font-size="44" text-anchor="middle" fill="#000">20</text>
<text transform="translate(1437.6 1097) scale(0.49 1)" font-size="44" text-anchor="middle" fill="#000">40</text>
<text transform="translate(1506.4 1097) scale(0.49 1)" font-size="44" text-anchor="middle" fill="#000">60</text>
<text transform="translate(1575.2 1097) scale(0.49 1)" font-size="44" text-anchor="middle" fill="#000">80</text>
<text transform="translate(1644 1097) scale(0.49 1)" font-size="44" text-anchor="middle" fill="#000">100</text>
<text transform="translate(1712.8 1097) scale(0.49 1)" font-size="44" text-anchor="middle" fill="#000">120</text>
<text transform="translate(1781.6 1097) scale(0.49 1)" font-size="44" text-anchor="middle" fill="#000">140</text>
<text transform="translate(1549.2 661) scale(0.49 1)" font-size="44" text-anchor="end" fill="#000">93</text>
<text transform="translate(1549.2 761) scale(0.49 1)" font-size="44" text-anchor="end" fill="#000">92</text>
<text transform="translate(1603.6 854) scale(0.49 1)" font-size="44" text-anchor="middle" fill="#000">100</text>
<text transform="translate(1688.4 854) scale(0.49 1)" font-size="44" text-anchor="middle" fill="#000">120</text>
<text transform="translate(1772.7 854) scale(0.49 1)" font-size="44" text-anchor="middle" fill="#000">140</text>
<text transform="translate(256.4 1149.5) scale(0.5069 1)" font-size="57" fill="#000" font-weight="normal">Cycle number</text>
<text transform="translate(852.9 1149.5) scale(0.5118 1)" font-size="57" fill="#000" font-weight="normal">Cycle number</text>
<text transform="translate(1459.5 1149.5) scale(0.5115 1)" font-size="57" fill="#000" font-weight="normal">Cycle number</text>
<text transform="translate(21.2 351.5) scale(0.55 1) rotate(-90)" font-size="54.2" stroke="#000" stroke-width="0.45">SOH/ (%)</text>
<text transform="translate(25.7 907) scale(0.605 1) rotate(-90)" font-size="54.5" stroke="#000" stroke-width="0.45">SOH/ (%)</text>
<text transform="translate(1121.4 599.7) scale(0.5237 1)" font-size="40.5" fill="#000" font-weight="normal">Reference</text>
<text transform="translate(1121.4 652.3) scale(0.5331 1)" font-size="40.5" fill="#000" font-weight="normal">SVR</text>
<text transform="translate(1121.4 705) scale(0.5499 1)" font-size="40.5" fill="#000" font-weight="normal">RVR</text>
<text transform="translate(1121.4 757.6) scale(0.5385 1)" font-size="40.5" fill="#000" font-weight="normal">MKRVR</text>
<g transform="scale(0.53 1)">
<rect x="845.1" y="302.3" width="285.1" height="127.9" fill="#bcbcbc" fill-opacity=".4"/>
<path d="M842.8 302.4H1132.5" stroke="#ff0000" stroke-opacity=".58" stroke-width="3.2" fill="none"/>
<path d="M842.8 430.1H1132.5" stroke="#ff0000" stroke-opacity=".58" stroke-width="3.2" fill="none"/>
<path d="M845 304V428.5" stroke="#ff0000" stroke-opacity=".58" stroke-width="4.3" fill="none"/>
<path d="M1130.3 304V428.5" stroke="#ff0000" stroke-opacity=".58" stroke-width="4.3" fill="none"/>
<rect x="857.4" y="844.7" width="273" height="142.6" fill="#bcbcbc" fill-opacity=".4"/>
<path d="M855.1 844.8H1132.6" stroke="#ff0000" stroke-opacity=".58" stroke-width="3.2" fill="none"/>
<path d="M855.1 987.2H1132.6" stroke="#ff0000" stroke-opacity=".58" stroke-width="3.2" fill="none"/>
<path d="M857.3 846.4V985.6" stroke="#ff0000" stroke-opacity=".58" stroke-width="4.3" fill="none"/>
<path d="M1130.5 846.4V985.6" stroke="#ff0000" stroke-opacity=".58" stroke-width="4.3" fill="none"/>
<rect x="3032.1" y="296.7" width="368.7" height="177.8" fill="#bcbcbc" fill-opacity=".4"/>
<path d="M3029.8 296.8H3403" stroke="#ff0000" stroke-opacity=".58" stroke-width="3.2" fill="none"/>
<path d="M3029.8 474.4H3403" stroke="#ff0000" stroke-opacity=".58" stroke-width="3.2" fill="none"/>
<path d="M3032 298.4V472.8" stroke="#ff0000" stroke-opacity=".58" stroke-width="4.3" fill="none"/>
<path d="M3400.8 298.4V472.8" stroke="#ff0000" stroke-opacity=".58" stroke-width="4.3" fill="none"/>
<rect x="3019.8" y="832.1" width="382.1" height="153.9" fill="#bcbcbc" fill-opacity=".4"/>
<path d="M3017.5 832.2H3404.2" stroke="#ff0000" stroke-opacity=".58" stroke-width="3.2" fill="none"/>
<path d="M3017.5 985.9H3404.2" stroke="#ff0000" stroke-opacity=".58" stroke-width="3.2" fill="none"/>
<path d="M3019.7 833.8V984.3" stroke="#ff0000" stroke-opacity=".58" stroke-width="4.3" fill="none"/>
<path d="M3402 833.8V984.3" stroke="#ff0000" stroke-opacity=".58" stroke-width="4.3" fill="none"/>
<rect x="2047" y="215.5" width="183.4" height="197.8" fill="#bcbcbc" fill-opacity=".4"/>
<path d="M2044.7 215.6H2232.6" stroke="#ff0000" stroke-opacity=".58" stroke-width="3.2" fill="none"/>
<path d="M2044.7 413.2H2232.6" stroke="#ff0000" stroke-opacity=".58" stroke-width="3.2" fill="none"/>
<path d="M2046.9 217.2V411.6" stroke="#ff0000" stroke-opacity=".58" stroke-width="4.3" fill="none"/>
<path d="M2230.5 217.2V411.6" stroke="#ff0000" stroke-opacity=".58" stroke-width="4.3" fill="none"/>
<rect x="1825.8" y="739.6" width="147.5" height="79.6" fill="#bcbcbc" fill-opacity=".4"/>
<path d="M1823.6 739.7H1975.7" stroke="#ff0000" stroke-opacity=".58" stroke-width="3.2" fill="none"/>
<path d="M1823.6 819.1H1975.7" stroke="#ff0000" stroke-opacity=".58" stroke-width="3.2" fill="none"/>
<path d="M1825.8 741.3V817.5" stroke="#ff0000" stroke-opacity=".58" stroke-width="4.3" fill="none"/>
<path d="M1973.5 741.3V817.5" stroke="#ff0000" stroke-opacity=".58" stroke-width="4.3" fill="none"/>
</g>
</svg>
</body></html>
